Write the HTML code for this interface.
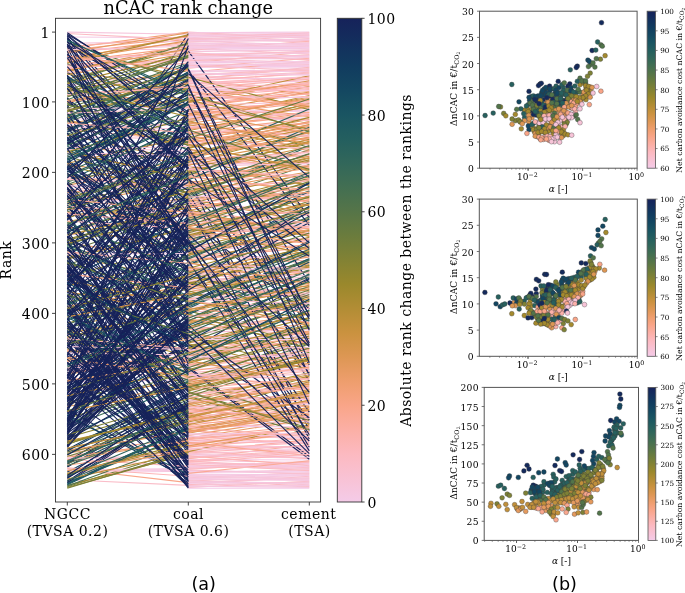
<!DOCTYPE html>
<html><head><meta charset="utf-8"><title>nCAC rank change</title>
<style>html,body{margin:0;padding:0;background:#fff;overflow:hidden;}svg{display:block}</style></head>
<body><svg width="685" height="593" viewBox="0 0 685 593">
<rect width="685" height="593" fill="#fff"/>
<g><g stroke-width="1.1"><line x1="188.3" y1="471.3" x2="309.3" y2="471.3" stroke="#f4cbe8"/><line x1="188.3" y1="111.1" x2="309.3" y2="110.4" stroke="#f5c9e4"/><line x1="67.3" y1="136.4" x2="188.3" y2="139.3" stroke="#f7c4d8"/><line x1="188.3" y1="223.9" x2="309.3" y2="223.9" stroke="#f4cbe8"/><line x1="188.3" y1="302.8" x2="309.3" y2="307.8" stroke="#fabecc"/><line x1="67.3" y1="472.7" x2="188.3" y2="471.3" stroke="#f6c7e0"/><line x1="188.3" y1="472.7" x2="309.3" y2="469.9" stroke="#f7c4d8"/><line x1="188.3" y1="365.6" x2="309.3" y2="366.3" stroke="#f5c9e4"/><line x1="188.3" y1="405.8" x2="309.3" y2="405.0" stroke="#f5c9e4"/><line x1="188.3" y1="196.4" x2="309.3" y2="200.6" stroke="#f9c0d0"/><line x1="188.3" y1="399.4" x2="309.3" y2="396.6" stroke="#f7c4d8"/><line x1="188.3" y1="253.5" x2="309.3" y2="263.3" stroke="#fcb1ab"/><line x1="188.3" y1="293.7" x2="309.3" y2="293.7" stroke="#f4cbe8"/><line x1="188.3" y1="247.1" x2="309.3" y2="241.5" stroke="#fabdc8"/><line x1="188.3" y1="448.1" x2="309.3" y2="446.6" stroke="#f6c7e0"/><line x1="67.3" y1="53.2" x2="188.3" y2="39.1" stroke="#f9a588"/><line x1="188.3" y1="400.1" x2="309.3" y2="397.3" stroke="#f7c4d8"/><line x1="188.3" y1="463.6" x2="309.3" y2="463.6" stroke="#f4cbe8"/><line x1="67.3" y1="156.9" x2="188.3" y2="156.2" stroke="#f5c9e4"/><line x1="67.3" y1="191.4" x2="188.3" y2="192.1" stroke="#f5c9e4"/><line x1="188.3" y1="366.3" x2="309.3" y2="355.0" stroke="#fbad9f"/><line x1="188.3" y1="90.6" x2="309.3" y2="85.7" stroke="#fabecc"/><line x1="188.3" y1="440.3" x2="309.3" y2="441.7" stroke="#f6c7e0"/><line x1="188.3" y1="345.1" x2="309.3" y2="331.0" stroke="#f9a588"/><line x1="188.3" y1="484.0" x2="309.3" y2="486.8" stroke="#f7c4d8"/><line x1="188.3" y1="312.0" x2="309.3" y2="307.1" stroke="#fabecc"/><line x1="188.3" y1="452.3" x2="309.3" y2="439.6" stroke="#faa994"/><line x1="67.3" y1="129.4" x2="188.3" y2="140.7" stroke="#fbad9f"/><line x1="67.3" y1="68.8" x2="188.3" y2="58.2" stroke="#fbafa5"/><line x1="67.3" y1="56.8" x2="188.3" y2="42.0" stroke="#f9a382"/><line x1="188.3" y1="63.1" x2="309.3" y2="51.8" stroke="#fbad9f"/><line x1="188.3" y1="224.6" x2="309.3" y2="235.1" stroke="#fbafa5"/><line x1="188.3" y1="66.6" x2="309.3" y2="66.6" stroke="#f4cbe8"/><line x1="188.3" y1="258.4" x2="309.3" y2="239.4" stroke="#e89b63"/><line x1="188.3" y1="42.7" x2="309.3" y2="49.0" stroke="#fbbbc4"/><line x1="188.3" y1="461.4" x2="309.3" y2="467.1" stroke="#fabdc8"/><line x1="188.3" y1="163.2" x2="309.3" y2="163.9" stroke="#f5c9e4"/><line x1="188.3" y1="298.6" x2="309.3" y2="285.9" stroke="#faa994"/><line x1="188.3" y1="164.6" x2="309.3" y2="162.5" stroke="#f6c6dc"/><line x1="67.3" y1="154.8" x2="188.3" y2="153.4" stroke="#f6c7e0"/><line x1="67.3" y1="67.3" x2="188.3" y2="58.9" stroke="#fdb5b7"/><line x1="188.3" y1="48.3" x2="309.3" y2="54.0" stroke="#fabdc8"/><line x1="188.3" y1="281.7" x2="309.3" y2="271.1" stroke="#fbafa5"/><line x1="188.3" y1="458.6" x2="309.3" y2="444.5" stroke="#f9a588"/><line x1="188.3" y1="195.0" x2="309.3" y2="194.2" stroke="#f5c9e4"/><line x1="188.3" y1="459.3" x2="309.3" y2="460.0" stroke="#f5c9e4"/><line x1="188.3" y1="251.4" x2="309.3" y2="261.2" stroke="#fcb1ab"/><line x1="188.3" y1="456.5" x2="309.3" y2="457.9" stroke="#f6c7e0"/><line x1="188.3" y1="295.8" x2="309.3" y2="288.0" stroke="#fdb7bc"/><line x1="67.3" y1="123.8" x2="188.3" y2="103.3" stroke="#e19859"/><line x1="67.3" y1="120.2" x2="188.3" y2="144.9" stroke="#ca923f"/><line x1="188.3" y1="443.1" x2="309.3" y2="432.5" stroke="#fbafa5"/><line x1="188.3" y1="435.4" x2="309.3" y2="417.0" stroke="#eb9c68"/><line x1="188.3" y1="34.9" x2="309.3" y2="40.6" stroke="#fabdc8"/><line x1="188.3" y1="49.7" x2="309.3" y2="50.4" stroke="#f5c9e4"/><line x1="188.3" y1="321.9" x2="309.3" y2="302.1" stroke="#e49a5e"/><line x1="67.3" y1="64.5" x2="188.3" y2="60.3" stroke="#f9c0d0"/><line x1="188.3" y1="131.5" x2="309.3" y2="134.3" stroke="#f7c4d8"/><line x1="188.3" y1="465.0" x2="309.3" y2="468.5" stroke="#f8c2d4"/><line x1="188.3" y1="87.1" x2="309.3" y2="89.2" stroke="#f6c6dc"/><line x1="67.3" y1="296.5" x2="188.3" y2="305.6" stroke="#fcb3b1"/><line x1="188.3" y1="418.4" x2="309.3" y2="400.8" stroke="#ee9e6d"/><line x1="188.3" y1="72.3" x2="309.3" y2="61.0" stroke="#fbad9f"/><line x1="188.3" y1="80.0" x2="309.3" y2="67.3" stroke="#faa994"/><line x1="188.3" y1="357.8" x2="309.3" y2="367.7" stroke="#fcb1ab"/><line x1="188.3" y1="479.8" x2="309.3" y2="486.1" stroke="#fbbbc4"/><line x1="188.3" y1="34.2" x2="309.3" y2="33.5" stroke="#f5c9e4"/><line x1="188.3" y1="166.0" x2="309.3" y2="185.1" stroke="#e89b63"/><line x1="188.3" y1="180.9" x2="309.3" y2="198.5" stroke="#ee9e6d"/><line x1="188.3" y1="428.3" x2="309.3" y2="422.7" stroke="#fabdc8"/><line x1="67.3" y1="89.2" x2="188.3" y2="106.1" stroke="#f29f72"/><line x1="67.3" y1="94.1" x2="188.3" y2="85.7" stroke="#fdb5b7"/><line x1="188.3" y1="390.2" x2="309.3" y2="383.2" stroke="#fcb9c0"/><line x1="188.3" y1="441.0" x2="309.3" y2="431.8" stroke="#fcb3b1"/><line x1="67.3" y1="96.3" x2="188.3" y2="68.8" stroke="#b78e37"/><line x1="188.3" y1="199.2" x2="309.3" y2="221.7" stroke="#d7954a"/><line x1="67.3" y1="48.3" x2="188.3" y2="32.1" stroke="#f5a077"/><line x1="188.3" y1="55.4" x2="309.3" y2="53.2" stroke="#f6c6dc"/><line x1="188.3" y1="438.2" x2="309.3" y2="419.1" stroke="#e89b63"/><line x1="67.3" y1="351.5" x2="188.3" y2="333.1" stroke="#eb9c68"/><line x1="188.3" y1="364.9" x2="309.3" y2="354.3" stroke="#fbafa5"/><line x1="188.3" y1="212.6" x2="309.3" y2="233.7" stroke="#dd9754"/><line x1="188.3" y1="276.7" x2="309.3" y2="297.2" stroke="#e19859"/><line x1="188.3" y1="238.7" x2="309.3" y2="220.3" stroke="#eb9c68"/><line x1="188.3" y1="455.1" x2="309.3" y2="455.1" stroke="#f4cbe8"/><line x1="188.3" y1="156.2" x2="309.3" y2="135.0" stroke="#dd9754"/><line x1="188.3" y1="170.3" x2="309.3" y2="151.2" stroke="#e89b63"/><line x1="188.3" y1="484.7" x2="309.3" y2="476.2" stroke="#fdb5b7"/><line x1="67.3" y1="85.0" x2="188.3" y2="80.7" stroke="#f9c0d0"/><line x1="188.3" y1="183.7" x2="309.3" y2="157.6" stroke="#c1903b"/><line x1="67.3" y1="186.5" x2="188.3" y2="184.4" stroke="#f6c6dc"/><line x1="188.3" y1="78.6" x2="309.3" y2="94.8" stroke="#f5a077"/><line x1="188.3" y1="315.5" x2="309.3" y2="332.4" stroke="#f29f72"/><line x1="188.3" y1="107.5" x2="309.3" y2="92.7" stroke="#f9a382"/><line x1="67.3" y1="233.7" x2="188.3" y2="240.1" stroke="#fbbbc4"/><line x1="67.3" y1="295.8" x2="188.3" y2="278.1" stroke="#ee9e6d"/><line x1="188.3" y1="410.0" x2="309.3" y2="376.8" stroke="#91862f"/><line x1="188.3" y1="230.2" x2="309.3" y2="232.3" stroke="#f6c6dc"/><line x1="188.3" y1="206.2" x2="309.3" y2="180.1" stroke="#c1903b"/><line x1="188.3" y1="345.8" x2="309.3" y2="333.1" stroke="#faa994"/><line x1="188.3" y1="65.9" x2="309.3" y2="63.8" stroke="#f6c6dc"/><line x1="188.3" y1="354.3" x2="309.3" y2="364.2" stroke="#fcb1ab"/><line x1="188.3" y1="462.9" x2="309.3" y2="467.8" stroke="#fabecc"/><line x1="188.3" y1="58.9" x2="309.3" y2="62.4" stroke="#f8c2d4"/><line x1="67.3" y1="142.8" x2="188.3" y2="165.3" stroke="#d7954a"/><line x1="67.3" y1="458.6" x2="188.3" y2="455.1" stroke="#f8c2d4"/><line x1="67.3" y1="258.4" x2="188.3" y2="221.0" stroke="#747e3a"/><line x1="188.3" y1="116.7" x2="309.3" y2="113.9" stroke="#f7c4d8"/><line x1="188.3" y1="278.1" x2="309.3" y2="264.0" stroke="#f9a588"/><line x1="188.3" y1="54.7" x2="309.3" y2="56.8" stroke="#f6c6dc"/><line x1="188.3" y1="247.8" x2="309.3" y2="238.0" stroke="#fcb1ab"/><line x1="67.3" y1="374.7" x2="188.3" y2="350.1" stroke="#ca923f"/><line x1="67.3" y1="118.1" x2="188.3" y2="88.5" stroke="#a98b30"/><line x1="67.3" y1="228.8" x2="188.3" y2="215.4" stroke="#f9a78e"/><line x1="188.3" y1="441.7" x2="309.3" y2="443.1" stroke="#f6c7e0"/><line x1="188.3" y1="45.5" x2="309.3" y2="46.2" stroke="#f5c9e4"/><line x1="188.3" y1="480.5" x2="309.3" y2="484.7" stroke="#f9c0d0"/><line x1="67.3" y1="128.7" x2="188.3" y2="90.6" stroke="#6f7d3b"/><line x1="188.3" y1="158.3" x2="309.3" y2="185.8" stroke="#b78e37"/><line x1="67.3" y1="91.3" x2="188.3" y2="107.5" stroke="#f5a077"/><line x1="188.3" y1="174.5" x2="309.3" y2="160.4" stroke="#f9a588"/><line x1="188.3" y1="95.5" x2="309.3" y2="83.6" stroke="#faab9a"/><line x1="188.3" y1="82.2" x2="309.3" y2="87.8" stroke="#fabdc8"/><line x1="67.3" y1="264.8" x2="188.3" y2="225.3" stroke="#667a3f"/><line x1="67.3" y1="341.6" x2="188.3" y2="360.6" stroke="#e89b63"/><line x1="67.3" y1="130.8" x2="188.3" y2="122.3" stroke="#fdb5b7"/><line x1="67.3" y1="242.9" x2="188.3" y2="260.5" stroke="#ee9e6d"/><line x1="188.3" y1="324.0" x2="309.3" y2="286.6" stroke="#747e3a"/><line x1="188.3" y1="52.5" x2="309.3" y2="59.6" stroke="#fcb9c0"/><line x1="67.3" y1="392.4" x2="188.3" y2="383.2" stroke="#fcb3b1"/><line x1="188.3" y1="137.8" x2="309.3" y2="135.7" stroke="#f6c6dc"/><line x1="188.3" y1="363.4" x2="309.3" y2="328.2" stroke="#828234"/><line x1="188.3" y1="146.3" x2="309.3" y2="130.1" stroke="#f5a077"/><line x1="188.3" y1="264.8" x2="309.3" y2="230.2" stroke="#878333"/><line x1="67.3" y1="455.8" x2="188.3" y2="442.4" stroke="#f9a78e"/><line x1="67.3" y1="65.9" x2="188.3" y2="59.6" stroke="#fbbbc4"/><line x1="188.3" y1="211.2" x2="309.3" y2="214.0" stroke="#f7c4d8"/><line x1="67.3" y1="51.8" x2="188.3" y2="44.1" stroke="#fdb7bc"/><line x1="188.3" y1="82.9" x2="309.3" y2="81.4" stroke="#f6c7e0"/><line x1="188.3" y1="376.8" x2="309.3" y2="360.6" stroke="#f5a077"/><line x1="67.3" y1="254.9" x2="188.3" y2="282.4" stroke="#b78e37"/><line x1="188.3" y1="338.8" x2="309.3" y2="301.4" stroke="#747e3a"/><line x1="188.3" y1="450.9" x2="309.3" y2="458.6" stroke="#fdb7bc"/><line x1="188.3" y1="256.3" x2="309.3" y2="273.2" stroke="#f29f72"/><line x1="188.3" y1="84.3" x2="309.3" y2="78.6" stroke="#fabdc8"/><line x1="188.3" y1="424.1" x2="309.3" y2="393.8" stroke="#a48a2e"/><line x1="188.3" y1="437.5" x2="309.3" y2="425.5" stroke="#faab9a"/><line x1="67.3" y1="226.7" x2="188.3" y2="250.6" stroke="#cf9242"/><line x1="188.3" y1="486.8" x2="309.3" y2="485.4" stroke="#f6c7e0"/><line x1="188.3" y1="190.0" x2="309.3" y2="149.8" stroke="#627941"/><line x1="67.3" y1="444.5" x2="188.3" y2="400.1" stroke="#4b724e"/><line x1="188.3" y1="32.1" x2="309.3" y2="38.4" stroke="#fbbbc4"/><line x1="67.3" y1="145.6" x2="188.3" y2="97.7" stroke="#386b57"/><line x1="188.3" y1="306.3" x2="309.3" y2="302.8" stroke="#f8c2d4"/><line x1="188.3" y1="292.2" x2="309.3" y2="264.8" stroke="#b78e37"/><line x1="67.3" y1="103.3" x2="188.3" y2="143.5" stroke="#627941"/><line x1="188.3" y1="379.7" x2="309.3" y2="390.2" stroke="#fbafa5"/><line x1="67.3" y1="437.5" x2="188.3" y2="403.6" stroke="#8c8531"/><line x1="67.3" y1="404.3" x2="188.3" y2="377.6" stroke="#bc8f39"/><line x1="188.3" y1="362.0" x2="309.3" y2="327.5" stroke="#878333"/><line x1="188.3" y1="240.8" x2="309.3" y2="195.7" stroke="#477050"/><line x1="67.3" y1="251.4" x2="188.3" y2="211.2" stroke="#627941"/><line x1="188.3" y1="216.1" x2="309.3" y2="197.8" stroke="#eb9c68"/><line x1="188.3" y1="286.6" x2="309.3" y2="262.6" stroke="#cf9242"/><line x1="188.3" y1="206.9" x2="309.3" y2="176.6" stroke="#a48a2e"/><line x1="67.3" y1="81.4" x2="188.3" y2="77.2" stroke="#f9c0d0"/><line x1="188.3" y1="75.8" x2="309.3" y2="70.2" stroke="#fabdc8"/><line x1="188.3" y1="255.6" x2="309.3" y2="218.2" stroke="#747e3a"/><line x1="67.3" y1="368.4" x2="188.3" y2="334.5" stroke="#8c8531"/><line x1="67.3" y1="369.1" x2="188.3" y2="378.3" stroke="#fcb3b1"/><line x1="67.3" y1="37.0" x2="188.3" y2="37.7" stroke="#f5c9e4"/><line x1="188.3" y1="125.9" x2="309.3" y2="111.8" stroke="#f9a588"/><line x1="67.3" y1="285.9" x2="188.3" y2="258.4" stroke="#b78e37"/><line x1="188.3" y1="419.1" x2="309.3" y2="405.8" stroke="#f9a78e"/><line x1="188.3" y1="109.7" x2="309.3" y2="86.4" stroke="#d39345"/><line x1="67.3" y1="190.0" x2="188.3" y2="180.1" stroke="#fcb1ab"/><line x1="188.3" y1="413.5" x2="309.3" y2="389.5" stroke="#cf9242"/><line x1="188.3" y1="150.5" x2="309.3" y2="143.5" stroke="#fcb9c0"/><line x1="67.3" y1="74.4" x2="188.3" y2="53.2" stroke="#dd9754"/><line x1="188.3" y1="122.3" x2="309.3" y2="95.5" stroke="#bc8f39"/><line x1="188.3" y1="173.8" x2="309.3" y2="166.8" stroke="#fcb9c0"/><line x1="67.3" y1="372.6" x2="188.3" y2="357.8" stroke="#f9a382"/><line x1="67.3" y1="269.0" x2="188.3" y2="235.8" stroke="#91862f"/><line x1="188.3" y1="221.7" x2="309.3" y2="173.8" stroke="#386b57"/><line x1="67.3" y1="273.2" x2="188.3" y2="327.5" stroke="#1e5b61"/><line x1="188.3" y1="181.6" x2="309.3" y2="216.1" stroke="#878333"/><line x1="188.3" y1="467.8" x2="309.3" y2="466.4" stroke="#f6c7e0"/><line x1="188.3" y1="38.4" x2="309.3" y2="42.0" stroke="#f8c2d4"/><line x1="188.3" y1="92.7" x2="309.3" y2="84.3" stroke="#fdb5b7"/><line x1="67.3" y1="486.8" x2="188.3" y2="448.8" stroke="#6f7d3b"/><line x1="188.3" y1="219.6" x2="309.3" y2="196.4" stroke="#d39345"/><line x1="67.3" y1="203.4" x2="188.3" y2="183.7" stroke="#e49a5e"/><line x1="188.3" y1="395.9" x2="309.3" y2="435.4" stroke="#667a3f"/><line x1="188.3" y1="83.6" x2="309.3" y2="76.5" stroke="#fcb9c0"/><line x1="188.3" y1="405.0" x2="309.3" y2="380.4" stroke="#ca923f"/><line x1="188.3" y1="60.3" x2="309.3" y2="64.5" stroke="#f9c0d0"/><line x1="188.3" y1="297.2" x2="309.3" y2="295.1" stroke="#f6c6dc"/><line x1="67.3" y1="173.8" x2="188.3" y2="210.5" stroke="#797f38"/><line x1="67.3" y1="327.5" x2="188.3" y2="299.3" stroke="#b28d35"/><line x1="67.3" y1="90.6" x2="188.3" y2="69.5" stroke="#dd9754"/><line x1="67.3" y1="192.1" x2="188.3" y2="249.2" stroke="#195261"/><line x1="188.3" y1="357.1" x2="309.3" y2="310.6" stroke="#3f6e55"/><line x1="188.3" y1="266.2" x2="309.3" y2="291.5" stroke="#c5913d"/><line x1="188.3" y1="450.2" x2="309.3" y2="448.8" stroke="#f6c7e0"/><line x1="67.3" y1="115.3" x2="188.3" y2="83.6" stroke="#9a882c"/><line x1="188.3" y1="140.0" x2="309.3" y2="156.9" stroke="#f29f72"/><line x1="188.3" y1="487.5" x2="309.3" y2="481.2" stroke="#fbbbc4"/><line x1="67.3" y1="153.4" x2="188.3" y2="175.2" stroke="#da964f"/><line x1="188.3" y1="477.7" x2="309.3" y2="472.7" stroke="#fabecc"/><line x1="188.3" y1="39.9" x2="309.3" y2="36.3" stroke="#f8c2d4"/><line x1="67.3" y1="33.5" x2="188.3" y2="39.9" stroke="#fbbbc4"/><line x1="188.3" y1="430.4" x2="309.3" y2="440.3" stroke="#fcb1ab"/><line x1="188.3" y1="426.2" x2="309.3" y2="426.9" stroke="#f5c9e4"/><line x1="188.3" y1="124.5" x2="309.3" y2="149.1" stroke="#ca923f"/><line x1="188.3" y1="486.1" x2="309.3" y2="487.5" stroke="#f6c7e0"/><line x1="188.3" y1="269.7" x2="309.3" y2="284.5" stroke="#f9a382"/><line x1="188.3" y1="205.5" x2="309.3" y2="164.6" stroke="#5e7843"/><line x1="188.3" y1="395.2" x2="309.3" y2="377.6" stroke="#ee9e6d"/><line x1="188.3" y1="284.5" x2="309.3" y2="297.9" stroke="#f9a78e"/><line x1="188.3" y1="50.4" x2="309.3" y2="41.3" stroke="#fcb3b1"/><line x1="188.3" y1="123.8" x2="309.3" y2="104.7" stroke="#e89b63"/><line x1="188.3" y1="248.5" x2="309.3" y2="219.6" stroke="#ad8c32"/><line x1="67.3" y1="73.0" x2="188.3" y2="130.8" stroke="#175061"/><line x1="188.3" y1="402.9" x2="309.3" y2="384.6" stroke="#eb9c68"/><line x1="188.3" y1="162.5" x2="309.3" y2="132.2" stroke="#a48a2e"/><line x1="67.3" y1="135.0" x2="188.3" y2="161.1" stroke="#c1903b"/><line x1="67.3" y1="239.4" x2="188.3" y2="205.5" stroke="#8c8531"/><line x1="67.3" y1="385.3" x2="188.3" y2="341.6" stroke="#4e734c"/><line x1="188.3" y1="372.6" x2="309.3" y2="365.6" stroke="#fcb9c0"/><line x1="188.3" y1="470.6" x2="309.3" y2="473.4" stroke="#f7c4d8"/><line x1="188.3" y1="285.9" x2="309.3" y2="246.4" stroke="#667a3f"/><line x1="188.3" y1="153.4" x2="309.3" y2="132.9" stroke="#e19859"/><line x1="67.3" y1="451.6" x2="188.3" y2="431.1" stroke="#e19859"/><line x1="188.3" y1="423.4" x2="309.3" y2="408.6" stroke="#f9a382"/><line x1="188.3" y1="71.6" x2="309.3" y2="69.5" stroke="#f6c6dc"/><line x1="188.3" y1="482.6" x2="309.3" y2="477.7" stroke="#fabecc"/><line x1="188.3" y1="411.4" x2="309.3" y2="398.0" stroke="#f9a78e"/><line x1="188.3" y1="216.8" x2="309.3" y2="235.8" stroke="#e89b63"/><line x1="188.3" y1="76.5" x2="309.3" y2="80.0" stroke="#f8c2d4"/><line x1="188.3" y1="347.2" x2="309.3" y2="351.5" stroke="#f9c0d0"/><line x1="188.3" y1="202.0" x2="309.3" y2="184.4" stroke="#ee9e6d"/><line x1="188.3" y1="273.9" x2="309.3" y2="281.7" stroke="#fdb7bc"/><line x1="67.3" y1="69.5" x2="188.3" y2="92.0" stroke="#d7954a"/><line x1="188.3" y1="245.7" x2="309.3" y2="238.7" stroke="#fcb9c0"/><line x1="188.3" y1="58.2" x2="309.3" y2="58.9" stroke="#f5c9e4"/><line x1="67.3" y1="178.7" x2="188.3" y2="185.1" stroke="#fbbbc4"/><line x1="188.3" y1="63.8" x2="309.3" y2="65.2" stroke="#f6c7e0"/><line x1="188.3" y1="231.6" x2="309.3" y2="203.4" stroke="#b28d35"/><line x1="188.3" y1="192.8" x2="309.3" y2="179.4" stroke="#f9a78e"/><line x1="67.3" y1="379.7" x2="188.3" y2="367.0" stroke="#faa994"/><line x1="67.3" y1="462.9" x2="188.3" y2="401.5" stroke="#124460"/><line x1="188.3" y1="343.7" x2="309.3" y2="371.9" stroke="#b28d35"/><line x1="67.3" y1="474.8" x2="188.3" y2="438.9" stroke="#7e8136"/><line x1="188.3" y1="415.6" x2="309.3" y2="411.4" stroke="#f9c0d0"/><line x1="188.3" y1="444.5" x2="309.3" y2="448.1" stroke="#f8c2d4"/><line x1="67.3" y1="307.1" x2="188.3" y2="331.0" stroke="#cf9242"/><line x1="188.3" y1="305.6" x2="309.3" y2="265.5" stroke="#627941"/><line x1="188.3" y1="246.4" x2="309.3" y2="206.9" stroke="#667a3f"/><line x1="67.3" y1="180.1" x2="188.3" y2="160.4" stroke="#e49a5e"/><line x1="67.3" y1="427.6" x2="188.3" y2="381.1" stroke="#3f6e55"/><line x1="188.3" y1="101.2" x2="309.3" y2="89.9" stroke="#fbad9f"/><line x1="67.3" y1="163.9" x2="188.3" y2="185.8" stroke="#da964f"/><line x1="67.3" y1="328.9" x2="188.3" y2="285.2" stroke="#4e734c"/><line x1="67.3" y1="453.0" x2="188.3" y2="438.2" stroke="#f9a382"/><line x1="188.3" y1="288.0" x2="309.3" y2="266.2" stroke="#da964f"/><line x1="188.3" y1="347.9" x2="309.3" y2="312.0" stroke="#7e8136"/><line x1="188.3" y1="135.0" x2="309.3" y2="103.3" stroke="#9a882c"/><line x1="188.3" y1="70.9" x2="309.3" y2="71.6" stroke="#f5c9e4"/><line x1="188.3" y1="321.2" x2="309.3" y2="261.9" stroke="#154b61"/><line x1="67.3" y1="326.8" x2="188.3" y2="355.7" stroke="#ad8c32"/><line x1="188.3" y1="79.3" x2="309.3" y2="77.9" stroke="#f6c7e0"/><line x1="188.3" y1="49.0" x2="309.3" y2="48.3" stroke="#f5c9e4"/><line x1="188.3" y1="148.4" x2="309.3" y2="121.6" stroke="#bc8f39"/><line x1="67.3" y1="253.5" x2="188.3" y2="241.5" stroke="#faab9a"/><line x1="188.3" y1="175.9" x2="309.3" y2="165.3" stroke="#fbafa5"/><line x1="188.3" y1="436.1" x2="309.3" y2="443.8" stroke="#fdb7bc"/><line x1="67.3" y1="298.6" x2="188.3" y2="198.5" stroke="#16225a"/><line x1="67.3" y1="195.7" x2="188.3" y2="290.8" stroke="#16225a"/><line x1="188.3" y1="152.7" x2="309.3" y2="138.6" stroke="#f9a588"/><line x1="67.3" y1="211.9" x2="188.3" y2="209.1" stroke="#f7c4d8"/><line x1="67.3" y1="448.8" x2="188.3" y2="421.3" stroke="#b78e37"/><line x1="188.3" y1="291.5" x2="309.3" y2="280.3" stroke="#fbad9f"/><line x1="67.3" y1="310.6" x2="188.3" y2="265.5" stroke="#477050"/><line x1="188.3" y1="331.7" x2="309.3" y2="314.1" stroke="#ee9e6d"/><line x1="188.3" y1="312.7" x2="309.3" y2="269.7" stroke="#52744a"/><line x1="188.3" y1="51.8" x2="309.3" y2="49.7" stroke="#f6c6dc"/><line x1="67.3" y1="249.2" x2="188.3" y2="123.0" stroke="#16225a"/><line x1="188.3" y1="97.7" x2="309.3" y2="85.0" stroke="#faa994"/><line x1="188.3" y1="172.4" x2="309.3" y2="193.5" stroke="#dd9754"/><line x1="188.3" y1="327.5" x2="309.3" y2="275.3" stroke="#27605e"/><line x1="67.3" y1="221.7" x2="188.3" y2="197.1" stroke="#ca923f"/><line x1="67.3" y1="245.0" x2="188.3" y2="181.6" stroke="#113c5f"/><line x1="67.3" y1="106.8" x2="188.3" y2="261.2" stroke="#16225a"/><line x1="188.3" y1="217.5" x2="309.3" y2="226.7" stroke="#fcb3b1"/><line x1="67.3" y1="185.1" x2="188.3" y2="164.6" stroke="#e19859"/><line x1="67.3" y1="312.7" x2="188.3" y2="286.6" stroke="#c1903b"/><line x1="67.3" y1="396.6" x2="188.3" y2="483.3" stroke="#16225a"/><line x1="188.3" y1="203.4" x2="309.3" y2="211.2" stroke="#fdb7bc"/><line x1="67.3" y1="37.7" x2="188.3" y2="166.0" stroke="#16225a"/><line x1="67.3" y1="401.5" x2="188.3" y2="328.9" stroke="#16225a"/><line x1="188.3" y1="108.2" x2="309.3" y2="104.0" stroke="#f9c0d0"/><line x1="67.3" y1="215.4" x2="188.3" y2="390.2" stroke="#16225a"/><line x1="67.3" y1="438.9" x2="188.3" y2="304.9" stroke="#16225a"/><line x1="67.3" y1="192.8" x2="188.3" y2="178.7" stroke="#f9a588"/><line x1="188.3" y1="381.8" x2="309.3" y2="338.1" stroke="#4e734c"/><line x1="67.3" y1="471.3" x2="188.3" y2="469.2" stroke="#f6c6dc"/><line x1="67.3" y1="257.7" x2="188.3" y2="147.7" stroke="#16225a"/><line x1="188.3" y1="332.4" x2="309.3" y2="329.6" stroke="#f7c4d8"/><line x1="67.3" y1="134.3" x2="188.3" y2="89.2" stroke="#477050"/><line x1="67.3" y1="288.0" x2="188.3" y2="480.5" stroke="#16225a"/><line x1="67.3" y1="63.8" x2="188.3" y2="116.0" stroke="#27605e"/><line x1="67.3" y1="293.7" x2="188.3" y2="357.1" stroke="#113c5f"/><line x1="67.3" y1="422.0" x2="188.3" y2="278.9" stroke="#16225a"/><line x1="188.3" y1="474.1" x2="309.3" y2="474.8" stroke="#f5c9e4"/><line x1="67.3" y1="272.5" x2="188.3" y2="447.3" stroke="#16225a"/><line x1="188.3" y1="349.4" x2="309.3" y2="331.7" stroke="#ee9e6d"/><line x1="67.3" y1="182.3" x2="188.3" y2="138.6" stroke="#4e734c"/><line x1="67.3" y1="181.6" x2="188.3" y2="267.6" stroke="#16225a"/><line x1="188.3" y1="200.6" x2="309.3" y2="173.1" stroke="#b78e37"/><line x1="67.3" y1="313.4" x2="188.3" y2="262.6" stroke="#2d645c"/><line x1="188.3" y1="238.0" x2="309.3" y2="201.3" stroke="#797f38"/><line x1="188.3" y1="193.5" x2="309.3" y2="381.1" stroke="#16225a"/><line x1="67.3" y1="337.4" x2="188.3" y2="312.7" stroke="#ca923f"/><line x1="188.3" y1="242.9" x2="309.3" y2="186.5" stroke="#1a5562"/><line x1="188.3" y1="210.5" x2="309.3" y2="189.3" stroke="#dd9754"/><line x1="188.3" y1="173.1" x2="309.3" y2="141.4" stroke="#9a882c"/><line x1="67.3" y1="479.8" x2="188.3" y2="485.4" stroke="#fabdc8"/><line x1="67.3" y1="98.4" x2="188.3" y2="195.0" stroke="#16225a"/><line x1="67.3" y1="70.9" x2="188.3" y2="44.8" stroke="#c1903b"/><line x1="188.3" y1="322.6" x2="309.3" y2="321.9" stroke="#f5c9e4"/><line x1="67.3" y1="109.7" x2="188.3" y2="149.1" stroke="#667a3f"/><line x1="67.3" y1="289.4" x2="188.3" y2="149.8" stroke="#16225a"/><line x1="188.3" y1="263.3" x2="309.3" y2="216.8" stroke="#3f6e55"/><line x1="188.3" y1="398.7" x2="309.3" y2="374.7" stroke="#cf9242"/><line x1="188.3" y1="68.1" x2="309.3" y2="58.2" stroke="#fcb1ab"/><line x1="188.3" y1="421.3" x2="309.3" y2="407.9" stroke="#f9a78e"/><line x1="188.3" y1="189.3" x2="309.3" y2="309.2" stroke="#16225a"/><line x1="67.3" y1="147.7" x2="188.3" y2="194.2" stroke="#3f6e55"/><line x1="67.3" y1="262.6" x2="188.3" y2="439.6" stroke="#16225a"/><line x1="188.3" y1="33.5" x2="309.3" y2="37.7" stroke="#f9c0d0"/><line x1="67.3" y1="395.2" x2="188.3" y2="316.2" stroke="#16225a"/><line x1="67.3" y1="316.2" x2="188.3" y2="234.4" stroke="#16225a"/><line x1="67.3" y1="99.1" x2="188.3" y2="180.9" stroke="#16225a"/><line x1="188.3" y1="467.1" x2="309.3" y2="461.4" stroke="#fabdc8"/><line x1="188.3" y1="229.5" x2="309.3" y2="224.6" stroke="#fabecc"/><line x1="67.3" y1="414.2" x2="188.3" y2="343.0" stroke="#16225a"/><line x1="188.3" y1="436.8" x2="309.3" y2="437.5" stroke="#f5c9e4"/><line x1="67.3" y1="121.6" x2="188.3" y2="144.2" stroke="#d7954a"/><line x1="67.3" y1="328.2" x2="188.3" y2="455.8" stroke="#16225a"/><line x1="67.3" y1="106.1" x2="188.3" y2="62.4" stroke="#4e734c"/><line x1="67.3" y1="407.2" x2="188.3" y2="240.8" stroke="#16225a"/><line x1="67.3" y1="38.4" x2="188.3" y2="135.0" stroke="#16225a"/><line x1="188.3" y1="218.9" x2="309.3" y2="316.9" stroke="#16225a"/><line x1="188.3" y1="104.7" x2="309.3" y2="91.3" stroke="#f9a78e"/><line x1="67.3" y1="362.0" x2="188.3" y2="477.7" stroke="#16225a"/><line x1="188.3" y1="331.0" x2="309.3" y2="362.0" stroke="#9f892c"/><line x1="188.3" y1="394.5" x2="309.3" y2="387.4" stroke="#fcb9c0"/><line x1="188.3" y1="120.9" x2="309.3" y2="97.0" stroke="#cf9242"/><line x1="188.3" y1="249.2" x2="309.3" y2="240.1" stroke="#fcb3b1"/><line x1="188.3" y1="373.3" x2="309.3" y2="388.8" stroke="#f8a17c"/><line x1="188.3" y1="198.5" x2="309.3" y2="161.1" stroke="#747e3a"/><line x1="67.3" y1="336.0" x2="188.3" y2="171.0" stroke="#16225a"/><line x1="67.3" y1="477.7" x2="188.3" y2="405.8" stroke="#16225a"/><line x1="67.3" y1="359.9" x2="188.3" y2="221.7" stroke="#16225a"/><line x1="67.3" y1="447.3" x2="188.3" y2="301.4" stroke="#16225a"/><line x1="188.3" y1="126.6" x2="309.3" y2="123.8" stroke="#f7c4d8"/><line x1="188.3" y1="141.4" x2="309.3" y2="144.9" stroke="#f8c2d4"/><line x1="67.3" y1="49.0" x2="188.3" y2="77.9" stroke="#ad8c32"/><line x1="188.3" y1="302.1" x2="309.3" y2="259.1" stroke="#52744a"/><line x1="67.3" y1="43.4" x2="188.3" y2="41.3" stroke="#f6c6dc"/><line x1="67.3" y1="78.6" x2="188.3" y2="142.8" stroke="#11395f"/><line x1="188.3" y1="240.1" x2="309.3" y2="228.1" stroke="#faab9a"/><line x1="188.3" y1="376.1" x2="309.3" y2="385.3" stroke="#fcb3b1"/><line x1="188.3" y1="319.7" x2="309.3" y2="344.4" stroke="#ca923f"/><line x1="188.3" y1="197.8" x2="309.3" y2="146.3" stroke="#2a625d"/><line x1="67.3" y1="270.4" x2="188.3" y2="465.7" stroke="#16225a"/><line x1="188.3" y1="451.6" x2="309.3" y2="424.8" stroke="#bc8f39"/><line x1="67.3" y1="405.8" x2="188.3" y2="328.2" stroke="#16225a"/><line x1="67.3" y1="384.6" x2="188.3" y2="271.8" stroke="#16225a"/><line x1="188.3" y1="307.1" x2="309.3" y2="254.2" stroke="#245f5f"/><line x1="67.3" y1="46.9" x2="188.3" y2="36.3" stroke="#fbafa5"/><line x1="67.3" y1="32.1" x2="188.3" y2="34.2" stroke="#f6c6dc"/><line x1="67.3" y1="218.2" x2="188.3" y2="33.5" stroke="#16225a"/><line x1="188.3" y1="111.8" x2="309.3" y2="101.2" stroke="#fbafa5"/><line x1="188.3" y1="341.6" x2="309.3" y2="350.1" stroke="#fdb5b7"/><line x1="188.3" y1="154.8" x2="309.3" y2="128.0" stroke="#bc8f39"/><line x1="188.3" y1="159.7" x2="309.3" y2="154.8" stroke="#fabecc"/><line x1="188.3" y1="183.0" x2="309.3" y2="174.5" stroke="#fdb5b7"/><line x1="188.3" y1="278.9" x2="309.3" y2="279.6" stroke="#f5c9e4"/><line x1="188.3" y1="346.5" x2="309.3" y2="311.3" stroke="#828234"/><line x1="67.3" y1="360.6" x2="188.3" y2="337.4" stroke="#d39345"/><line x1="188.3" y1="261.9" x2="309.3" y2="419.9" stroke="#16225a"/><line x1="188.3" y1="208.3" x2="309.3" y2="188.6" stroke="#e49a5e"/><line x1="188.3" y1="465.7" x2="309.3" y2="469.2" stroke="#f8c2d4"/><line x1="188.3" y1="182.3" x2="309.3" y2="205.5" stroke="#d39345"/><line x1="188.3" y1="344.4" x2="309.3" y2="423.4" stroke="#16225a"/><line x1="67.3" y1="433.9" x2="188.3" y2="232.3" stroke="#16225a"/><line x1="67.3" y1="350.8" x2="188.3" y2="371.9" stroke="#dd9754"/><line x1="188.3" y1="118.1" x2="309.3" y2="108.2" stroke="#fcb1ab"/><line x1="188.3" y1="453.7" x2="309.3" y2="449.5" stroke="#f9c0d0"/><line x1="188.3" y1="377.6" x2="309.3" y2="342.3" stroke="#828234"/><line x1="188.3" y1="328.2" x2="309.3" y2="273.9" stroke="#1e5b61"/><line x1="67.3" y1="189.3" x2="188.3" y2="226.0" stroke="#797f38"/><line x1="188.3" y1="254.2" x2="309.3" y2="213.3" stroke="#5e7843"/><line x1="188.3" y1="185.1" x2="309.3" y2="168.2" stroke="#f29f72"/><line x1="67.3" y1="137.1" x2="188.3" y2="274.6" stroke="#16225a"/><line x1="188.3" y1="140.7" x2="309.3" y2="119.5" stroke="#dd9754"/><line x1="188.3" y1="201.3" x2="309.3" y2="305.6" stroke="#16225a"/><line x1="188.3" y1="426.9" x2="309.3" y2="415.6" stroke="#fbad9f"/><line x1="188.3" y1="187.2" x2="309.3" y2="209.8" stroke="#d7954a"/><line x1="188.3" y1="35.6" x2="309.3" y2="34.2" stroke="#f6c7e0"/><line x1="67.3" y1="177.3" x2="188.3" y2="183.0" stroke="#fabdc8"/><line x1="188.3" y1="290.8" x2="309.3" y2="326.1" stroke="#828234"/><line x1="67.3" y1="59.6" x2="188.3" y2="35.6" stroke="#cf9242"/><line x1="67.3" y1="211.2" x2="188.3" y2="251.4" stroke="#627941"/><line x1="67.3" y1="452.3" x2="188.3" y2="406.5" stroke="#436f52"/><line x1="67.3" y1="333.1" x2="188.3" y2="220.3" stroke="#16225a"/><line x1="67.3" y1="68.1" x2="188.3" y2="61.0" stroke="#fcb9c0"/><line x1="188.3" y1="85.7" x2="309.3" y2="106.8" stroke="#dd9754"/><line x1="67.3" y1="230.9" x2="188.3" y2="197.8" stroke="#91862f"/><line x1="188.3" y1="329.6" x2="309.3" y2="318.3" stroke="#fbad9f"/><line x1="67.3" y1="410.0" x2="188.3" y2="132.2" stroke="#16225a"/><line x1="188.3" y1="67.3" x2="309.3" y2="68.1" stroke="#f5c9e4"/><line x1="188.3" y1="292.9" x2="309.3" y2="320.4" stroke="#b78e37"/><line x1="67.3" y1="418.4" x2="188.3" y2="382.5" stroke="#7e8136"/><line x1="188.3" y1="443.8" x2="309.3" y2="433.9" stroke="#fcb1ab"/><line x1="188.3" y1="89.9" x2="309.3" y2="90.6" stroke="#f5c9e4"/><line x1="67.3" y1="93.4" x2="188.3" y2="112.5" stroke="#e89b63"/><line x1="188.3" y1="186.5" x2="309.3" y2="158.3" stroke="#b28d35"/><line x1="67.3" y1="477.0" x2="188.3" y2="407.2" stroke="#15255b"/><line x1="67.3" y1="80.7" x2="188.3" y2="236.5" stroke="#16225a"/><line x1="67.3" y1="76.5" x2="188.3" y2="216.1" stroke="#16225a"/><line x1="188.3" y1="401.5" x2="309.3" y2="372.6" stroke="#ad8c32"/><line x1="188.3" y1="62.4" x2="309.3" y2="63.1" stroke="#f5c9e4"/><line x1="67.3" y1="340.2" x2="188.3" y2="460.0" stroke="#16225a"/><line x1="188.3" y1="431.8" x2="309.3" y2="414.2" stroke="#ee9e6d"/><line x1="67.3" y1="431.8" x2="188.3" y2="329.6" stroke="#16225a"/><line x1="67.3" y1="449.5" x2="188.3" y2="384.6" stroke="#12375e"/><line x1="67.3" y1="349.4" x2="188.3" y2="359.9" stroke="#fbafa5"/><line x1="67.3" y1="62.4" x2="188.3" y2="49.7" stroke="#faa994"/><line x1="188.3" y1="80.7" x2="309.3" y2="73.7" stroke="#fcb9c0"/><line x1="188.3" y1="336.7" x2="309.3" y2="292.2" stroke="#4b724e"/><line x1="188.3" y1="214.0" x2="309.3" y2="178.0" stroke="#7e8136"/><line x1="188.3" y1="133.6" x2="309.3" y2="125.9" stroke="#fdb7bc"/><line x1="67.3" y1="485.4" x2="188.3" y2="454.4" stroke="#9f892c"/><line x1="188.3" y1="65.2" x2="309.3" y2="70.9" stroke="#fabdc8"/><line x1="67.3" y1="209.1" x2="188.3" y2="256.3" stroke="#3b6c56"/><line x1="188.3" y1="177.3" x2="309.3" y2="430.4" stroke="#16225a"/><line x1="188.3" y1="156.9" x2="309.3" y2="167.5" stroke="#fbafa5"/><line x1="188.3" y1="457.9" x2="309.3" y2="451.6" stroke="#fbbbc4"/><line x1="188.3" y1="222.4" x2="309.3" y2="215.4" stroke="#fcb9c0"/><line x1="67.3" y1="42.7" x2="188.3" y2="82.2" stroke="#667a3f"/><line x1="67.3" y1="238.7" x2="188.3" y2="350.8" stroke="#16225a"/><line x1="67.3" y1="132.9" x2="188.3" y2="314.1" stroke="#16225a"/><line x1="188.3" y1="386.0" x2="309.3" y2="343.7" stroke="#567548"/><line x1="188.3" y1="220.3" x2="309.3" y2="234.4" stroke="#f9a588"/><line x1="188.3" y1="468.5" x2="309.3" y2="464.3" stroke="#f9c0d0"/><line x1="67.3" y1="381.8" x2="188.3" y2="379.7" stroke="#f6c6dc"/><line x1="67.3" y1="303.5" x2="188.3" y2="114.6" stroke="#16225a"/><line x1="67.3" y1="227.4" x2="188.3" y2="284.5" stroke="#195261"/><line x1="188.3" y1="348.6" x2="309.3" y2="317.6" stroke="#9f892c"/><line x1="67.3" y1="373.3" x2="188.3" y2="358.5" stroke="#f9a382"/><line x1="188.3" y1="249.9" x2="309.3" y2="245.0" stroke="#fabecc"/><line x1="188.3" y1="112.5" x2="309.3" y2="111.1" stroke="#f6c7e0"/><line x1="67.3" y1="240.1" x2="188.3" y2="429.0" stroke="#16225a"/><line x1="67.3" y1="102.6" x2="188.3" y2="70.2" stroke="#96872e"/><line x1="67.3" y1="184.4" x2="188.3" y2="141.4" stroke="#52744a"/><line x1="188.3" y1="446.6" x2="309.3" y2="438.2" stroke="#fdb5b7"/><line x1="188.3" y1="128.0" x2="309.3" y2="114.6" stroke="#f9a78e"/><line x1="188.3" y1="488.2" x2="309.3" y2="488.2" stroke="#f4cbe8"/><line x1="188.3" y1="54.0" x2="309.3" y2="52.5" stroke="#f6c7e0"/><line x1="67.3" y1="320.4" x2="188.3" y2="266.9" stroke="#215d60"/><line x1="188.3" y1="103.3" x2="309.3" y2="96.3" stroke="#fcb9c0"/><line x1="188.3" y1="259.8" x2="309.3" y2="247.1" stroke="#faa994"/><line x1="67.3" y1="383.2" x2="188.3" y2="218.2" stroke="#16225a"/><line x1="67.3" y1="105.4" x2="188.3" y2="269.7" stroke="#16225a"/><line x1="188.3" y1="144.9" x2="309.3" y2="168.9" stroke="#cf9242"/><line x1="67.3" y1="185.8" x2="188.3" y2="187.9" stroke="#f6c6dc"/><line x1="67.3" y1="118.8" x2="188.3" y2="120.2" stroke="#f6c7e0"/><line x1="188.3" y1="445.2" x2="309.3" y2="453.0" stroke="#fdb7bc"/><line x1="67.3" y1="180.9" x2="188.3" y2="124.5" stroke="#1a5562"/><line x1="188.3" y1="32.8" x2="309.3" y2="32.1" stroke="#f5c9e4"/><line x1="188.3" y1="161.1" x2="309.3" y2="151.9" stroke="#fcb3b1"/><line x1="67.3" y1="174.5" x2="188.3" y2="242.9" stroke="#142a5c"/><line x1="188.3" y1="481.9" x2="309.3" y2="484.0" stroke="#f6c6dc"/><line x1="188.3" y1="448.8" x2="309.3" y2="445.9" stroke="#f7c4d8"/><line x1="67.3" y1="402.9" x2="188.3" y2="364.9" stroke="#6f7d3b"/><line x1="188.3" y1="271.1" x2="309.3" y2="321.2" stroke="#30665b"/><line x1="188.3" y1="386.7" x2="309.3" y2="352.9" stroke="#8c8531"/><line x1="67.3" y1="216.1" x2="188.3" y2="129.4" stroke="#16225a"/><line x1="188.3" y1="36.3" x2="309.3" y2="35.6" stroke="#f5c9e4"/><line x1="188.3" y1="319.0" x2="309.3" y2="334.5" stroke="#f8a17c"/><line x1="188.3" y1="270.4" x2="309.3" y2="255.6" stroke="#f9a382"/><line x1="67.3" y1="409.3" x2="188.3" y2="478.4" stroke="#15275b"/><line x1="188.3" y1="167.5" x2="309.3" y2="364.9" stroke="#16225a"/><line x1="188.3" y1="40.6" x2="309.3" y2="39.1" stroke="#f6c7e0"/><line x1="67.3" y1="461.4" x2="188.3" y2="388.1" stroke="#16225a"/><line x1="67.3" y1="266.2" x2="188.3" y2="395.2" stroke="#16225a"/><line x1="188.3" y1="283.1" x2="309.3" y2="251.4" stroke="#9a882c"/><line x1="67.3" y1="332.4" x2="188.3" y2="446.6" stroke="#16225a"/><line x1="188.3" y1="449.5" x2="309.3" y2="442.4" stroke="#fcb9c0"/><line x1="188.3" y1="129.4" x2="309.3" y2="112.5" stroke="#f29f72"/><line x1="67.3" y1="82.2" x2="188.3" y2="42.7" stroke="#667a3f"/><line x1="188.3" y1="100.5" x2="309.3" y2="94.1" stroke="#fbbbc4"/><line x1="67.3" y1="307.8" x2="188.3" y2="467.1" stroke="#16225a"/><line x1="188.3" y1="335.2" x2="309.3" y2="296.5" stroke="#6b7c3d"/><line x1="188.3" y1="108.9" x2="309.3" y2="147.7" stroke="#6b7c3d"/><line x1="67.3" y1="376.8" x2="188.3" y2="457.9" stroke="#16225a"/><line x1="67.3" y1="125.9" x2="188.3" y2="125.2" stroke="#f5c9e4"/><line x1="188.3" y1="102.6" x2="309.3" y2="80.7" stroke="#da964f"/><line x1="67.3" y1="276.7" x2="188.3" y2="243.6" stroke="#91862f"/><line x1="67.3" y1="233.0" x2="188.3" y2="163.9" stroke="#15275b"/><line x1="188.3" y1="215.4" x2="309.3" y2="199.9" stroke="#f8a17c"/><line x1="67.3" y1="397.3" x2="188.3" y2="266.2" stroke="#16225a"/><line x1="188.3" y1="409.3" x2="309.3" y2="402.9" stroke="#fbbbc4"/><line x1="188.3" y1="337.4" x2="309.3" y2="369.8" stroke="#96872e"/><line x1="67.3" y1="256.3" x2="188.3" y2="443.8" stroke="#16225a"/><line x1="67.3" y1="79.3" x2="188.3" y2="47.6" stroke="#9a882c"/><line x1="188.3" y1="442.4" x2="309.3" y2="455.8" stroke="#f9a78e"/><line x1="67.3" y1="212.6" x2="188.3" y2="226.7" stroke="#f9a588"/><line x1="67.3" y1="158.3" x2="188.3" y2="283.1" stroke="#16225a"/><line x1="67.3" y1="32.8" x2="188.3" y2="113.9" stroke="#16225a"/><line x1="67.3" y1="472.0" x2="188.3" y2="409.3" stroke="#103f60"/><line x1="67.3" y1="400.1" x2="188.3" y2="254.2" stroke="#16225a"/><line x1="188.3" y1="447.3" x2="309.3" y2="431.1" stroke="#f5a077"/><line x1="67.3" y1="464.3" x2="188.3" y2="393.1" stroke="#16225a"/><line x1="188.3" y1="351.5" x2="309.3" y2="278.9" stroke="#16225a"/><line x1="67.3" y1="127.3" x2="188.3" y2="128.7" stroke="#f6c7e0"/><line x1="67.3" y1="175.2" x2="188.3" y2="195.7" stroke="#e19859"/><line x1="188.3" y1="295.1" x2="309.3" y2="267.6" stroke="#b78e37"/><line x1="67.3" y1="290.1" x2="188.3" y2="335.2" stroke="#477050"/><line x1="67.3" y1="71.6" x2="188.3" y2="177.3" stroke="#16225a"/><line x1="67.3" y1="428.3" x2="188.3" y2="340.2" stroke="#16225a"/><line x1="188.3" y1="132.9" x2="309.3" y2="150.5" stroke="#ee9e6d"/><line x1="188.3" y1="326.1" x2="309.3" y2="335.2" stroke="#fcb3b1"/><line x1="188.3" y1="281.0" x2="309.3" y2="277.4" stroke="#f8c2d4"/><line x1="188.3" y1="254.9" x2="309.3" y2="230.9" stroke="#cf9242"/><line x1="188.3" y1="391.6" x2="309.3" y2="428.3" stroke="#797f38"/><line x1="188.3" y1="135.7" x2="309.3" y2="159.0" stroke="#d39345"/><line x1="188.3" y1="469.9" x2="309.3" y2="474.1" stroke="#f9c0d0"/><line x1="67.3" y1="244.3" x2="188.3" y2="295.8" stroke="#2a625d"/><line x1="188.3" y1="481.2" x2="309.3" y2="483.3" stroke="#f6c6dc"/><line x1="188.3" y1="414.2" x2="309.3" y2="381.8" stroke="#96872e"/><line x1="188.3" y1="161.8" x2="309.3" y2="140.0" stroke="#da964f"/><line x1="188.3" y1="228.8" x2="309.3" y2="221.0" stroke="#fdb7bc"/><line x1="188.3" y1="419.9" x2="309.3" y2="416.3" stroke="#f8c2d4"/><line x1="67.3" y1="92.7" x2="188.3" y2="150.5" stroke="#175061"/><line x1="188.3" y1="352.2" x2="309.3" y2="340.2" stroke="#faab9a"/><line x1="188.3" y1="187.9" x2="309.3" y2="180.9" stroke="#fcb9c0"/><line x1="188.3" y1="44.1" x2="309.3" y2="43.4" stroke="#f5c9e4"/><line x1="188.3" y1="353.6" x2="309.3" y2="341.6" stroke="#faab9a"/><line x1="188.3" y1="410.7" x2="309.3" y2="418.4" stroke="#fdb7bc"/><line x1="188.3" y1="417.7" x2="309.3" y2="390.9" stroke="#bc8f39"/><line x1="188.3" y1="422.7" x2="309.3" y2="422.0" stroke="#f5c9e4"/><line x1="188.3" y1="128.7" x2="309.3" y2="115.3" stroke="#f9a78e"/><line x1="67.3" y1="324.7" x2="188.3" y2="277.4" stroke="#3b6c56"/><line x1="188.3" y1="271.8" x2="309.3" y2="247.8" stroke="#cf9242"/><line x1="188.3" y1="310.6" x2="309.3" y2="345.8" stroke="#828234"/><line x1="67.3" y1="321.2" x2="188.3" y2="479.8" stroke="#16225a"/><line x1="67.3" y1="104.7" x2="188.3" y2="142.1" stroke="#747e3a"/><line x1="188.3" y1="88.5" x2="309.3" y2="79.3" stroke="#fcb3b1"/><line x1="188.3" y1="149.8" x2="309.3" y2="328.9" stroke="#16225a"/><line x1="188.3" y1="425.5" x2="309.3" y2="410.7" stroke="#f9a382"/><line x1="188.3" y1="478.4" x2="309.3" y2="479.8" stroke="#f6c7e0"/><line x1="188.3" y1="359.9" x2="309.3" y2="325.4" stroke="#878333"/><line x1="67.3" y1="466.4" x2="188.3" y2="407.9" stroke="#164d61"/><line x1="188.3" y1="383.9" x2="309.3" y2="363.4" stroke="#e19859"/><line x1="67.3" y1="467.1" x2="188.3" y2="395.9" stroke="#16225a"/><line x1="188.3" y1="356.4" x2="309.3" y2="356.4" stroke="#f4cbe8"/><line x1="67.3" y1="290.8" x2="188.3" y2="481.9" stroke="#16225a"/><line x1="188.3" y1="288.7" x2="309.3" y2="290.8" stroke="#f6c6dc"/><line x1="67.3" y1="354.3" x2="188.3" y2="296.5" stroke="#175061"/><line x1="67.3" y1="197.1" x2="188.3" y2="257.7" stroke="#134661"/><line x1="188.3" y1="367.0" x2="309.3" y2="456.5" stroke="#16225a"/><line x1="188.3" y1="276.0" x2="309.3" y2="306.3" stroke="#a48a2e"/><line x1="67.3" y1="319.0" x2="188.3" y2="475.5" stroke="#16225a"/><line x1="188.3" y1="333.8" x2="309.3" y2="349.4" stroke="#f8a17c"/><line x1="67.3" y1="456.5" x2="188.3" y2="419.1" stroke="#747e3a"/><line x1="188.3" y1="77.9" x2="309.3" y2="72.3" stroke="#fabdc8"/><line x1="67.3" y1="259.1" x2="188.3" y2="228.1" stroke="#9f892c"/><line x1="188.3" y1="362.7" x2="309.3" y2="333.8" stroke="#ad8c32"/><line x1="67.3" y1="292.2" x2="188.3" y2="231.6" stroke="#134661"/><line x1="188.3" y1="56.1" x2="309.3" y2="51.1" stroke="#fabecc"/><line x1="67.3" y1="357.1" x2="188.3" y2="436.1" stroke="#16225a"/><line x1="67.3" y1="200.6" x2="188.3" y2="201.3" stroke="#f5c9e4"/><line x1="67.3" y1="187.2" x2="188.3" y2="336.0" stroke="#16225a"/><line x1="67.3" y1="281.7" x2="188.3" y2="473.4" stroke="#16225a"/><line x1="67.3" y1="202.7" x2="188.3" y2="229.5" stroke="#bc8f39"/><line x1="188.3" y1="438.9" x2="309.3" y2="427.6" stroke="#fbad9f"/><line x1="67.3" y1="406.5" x2="188.3" y2="385.3" stroke="#dd9754"/><line x1="188.3" y1="369.1" x2="309.3" y2="369.1" stroke="#f4cbe8"/><line x1="188.3" y1="370.5" x2="309.3" y2="338.8" stroke="#9a882c"/><line x1="188.3" y1="314.8" x2="309.3" y2="258.4" stroke="#1a5562"/><line x1="188.3" y1="406.5" x2="309.3" y2="383.9" stroke="#d7954a"/><line x1="67.3" y1="340.9" x2="188.3" y2="218.9" stroke="#16225a"/><line x1="188.3" y1="403.6" x2="309.3" y2="376.1" stroke="#b78e37"/><line x1="188.3" y1="113.9" x2="309.3" y2="92.0" stroke="#da964f"/><line x1="67.3" y1="302.1" x2="188.3" y2="276.7" stroke="#c5913d"/><line x1="67.3" y1="226.0" x2="188.3" y2="173.8" stroke="#27605e"/><line x1="188.3" y1="388.1" x2="309.3" y2="352.2" stroke="#7e8136"/><line x1="67.3" y1="390.9" x2="188.3" y2="108.9" stroke="#16225a"/><line x1="67.3" y1="218.9" x2="188.3" y2="152.7" stroke="#13325d"/><line x1="67.3" y1="361.3" x2="188.3" y2="376.1" stroke="#f9a382"/><line x1="188.3" y1="118.8" x2="309.3" y2="118.1" stroke="#f5c9e4"/><line x1="67.3" y1="194.2" x2="188.3" y2="206.9" stroke="#faa994"/><line x1="188.3" y1="51.1" x2="309.3" y2="217.5" stroke="#16225a"/><line x1="67.3" y1="350.1" x2="188.3" y2="362.7" stroke="#faa994"/><line x1="188.3" y1="37.7" x2="309.3" y2="32.8" stroke="#fabecc"/><line x1="188.3" y1="64.5" x2="309.3" y2="65.9" stroke="#f6c7e0"/><line x1="188.3" y1="46.2" x2="309.3" y2="42.7" stroke="#f8c2d4"/><line x1="67.3" y1="425.5" x2="188.3" y2="239.4" stroke="#16225a"/><line x1="67.3" y1="223.9" x2="188.3" y2="300.0" stroke="#16225a"/><line x1="67.3" y1="210.5" x2="188.3" y2="113.2" stroke="#16225a"/><line x1="188.3" y1="338.1" x2="309.3" y2="336.7" stroke="#f6c7e0"/><line x1="188.3" y1="387.4" x2="309.3" y2="347.9" stroke="#667a3f"/><line x1="188.3" y1="422.0" x2="309.3" y2="395.9" stroke="#c1903b"/><line x1="67.3" y1="65.2" x2="188.3" y2="52.5" stroke="#faa994"/><line x1="188.3" y1="313.4" x2="309.3" y2="259.8" stroke="#215d60"/><line x1="188.3" y1="239.4" x2="309.3" y2="412.1" stroke="#16225a"/><line x1="67.3" y1="403.6" x2="188.3" y2="309.2" stroke="#16225a"/><line x1="188.3" y1="364.2" x2="309.3" y2="350.8" stroke="#f9a78e"/><line x1="188.3" y1="178.7" x2="309.3" y2="161.8" stroke="#f29f72"/><line x1="188.3" y1="257.0" x2="309.3" y2="257.7" stroke="#f5c9e4"/><line x1="188.3" y1="407.2" x2="309.3" y2="395.2" stroke="#faab9a"/><line x1="67.3" y1="469.9" x2="188.3" y2="468.5" stroke="#f6c7e0"/><line x1="67.3" y1="114.6" x2="188.3" y2="87.8" stroke="#bc8f39"/><line x1="188.3" y1="309.2" x2="309.3" y2="289.4" stroke="#e49a5e"/><line x1="188.3" y1="412.1" x2="309.3" y2="413.5" stroke="#f6c7e0"/><line x1="67.3" y1="364.2" x2="188.3" y2="365.6" stroke="#f6c7e0"/><line x1="67.3" y1="255.6" x2="188.3" y2="390.9" stroke="#16225a"/><line x1="67.3" y1="424.8" x2="188.3" y2="154.8" stroke="#16225a"/><line x1="188.3" y1="287.3" x2="309.3" y2="206.2" stroke="#16225a"/><line x1="188.3" y1="114.6" x2="309.3" y2="100.5" stroke="#f9a588"/><line x1="188.3" y1="233.7" x2="309.3" y2="249.9" stroke="#f5a077"/><line x1="188.3" y1="374.7" x2="309.3" y2="370.5" stroke="#f9c0d0"/><line x1="67.3" y1="183.0" x2="188.3" y2="311.3" stroke="#16225a"/><line x1="188.3" y1="178.0" x2="309.3" y2="156.2" stroke="#da964f"/><line x1="67.3" y1="481.9" x2="188.3" y2="434.7" stroke="#3b6c56"/><line x1="67.3" y1="359.2" x2="188.3" y2="469.9" stroke="#16225a"/><line x1="188.3" y1="168.9" x2="309.3" y2="139.3" stroke="#a98b30"/><line x1="67.3" y1="128.0" x2="188.3" y2="95.5" stroke="#96872e"/><line x1="188.3" y1="116.0" x2="309.3" y2="102.6" stroke="#f9a78e"/><line x1="188.3" y1="412.8" x2="309.3" y2="398.7" stroke="#f9a588"/><line x1="67.3" y1="36.3" x2="188.3" y2="252.8" stroke="#16225a"/><line x1="188.3" y1="483.3" x2="309.3" y2="482.6" stroke="#f5c9e4"/><line x1="67.3" y1="324.0" x2="188.3" y2="462.9" stroke="#16225a"/><line x1="67.3" y1="235.8" x2="188.3" y2="389.5" stroke="#16225a"/><line x1="188.3" y1="61.7" x2="309.3" y2="61.7" stroke="#f4cbe8"/><line x1="188.3" y1="93.4" x2="309.3" y2="283.1" stroke="#16225a"/><line x1="188.3" y1="429.7" x2="309.3" y2="410.0" stroke="#e49a5e"/><line x1="188.3" y1="317.6" x2="309.3" y2="282.4" stroke="#828234"/><line x1="188.3" y1="308.5" x2="309.3" y2="253.5" stroke="#1c5962"/><line x1="188.3" y1="371.2" x2="309.3" y2="355.7" stroke="#f8a17c"/><line x1="188.3" y1="323.3" x2="309.3" y2="298.6" stroke="#ca923f"/><line x1="67.3" y1="297.9" x2="188.3" y2="453.0" stroke="#16225a"/><line x1="188.3" y1="355.7" x2="309.3" y2="340.9" stroke="#f9a382"/><line x1="188.3" y1="81.4" x2="309.3" y2="73.0" stroke="#fdb5b7"/><line x1="67.3" y1="47.6" x2="188.3" y2="50.4" stroke="#f7c4d8"/><line x1="67.3" y1="454.4" x2="188.3" y2="393.8" stroke="#134661"/><line x1="67.3" y1="261.2" x2="188.3" y2="400.8" stroke="#16225a"/><line x1="67.3" y1="268.3" x2="188.3" y2="352.2" stroke="#16225a"/><line x1="67.3" y1="333.8" x2="188.3" y2="310.6" stroke="#d39345"/><line x1="67.3" y1="171.7" x2="188.3" y2="121.6" stroke="#30665b"/><line x1="188.3" y1="42.0" x2="309.3" y2="39.9" stroke="#f6c6dc"/><line x1="188.3" y1="460.0" x2="309.3" y2="462.9" stroke="#f7c4d8"/><line x1="188.3" y1="110.4" x2="309.3" y2="120.9" stroke="#fbafa5"/><line x1="67.3" y1="205.5" x2="188.3" y2="170.3" stroke="#828234"/><line x1="67.3" y1="142.1" x2="188.3" y2="261.9" stroke="#16225a"/><line x1="188.3" y1="320.4" x2="309.3" y2="276.7" stroke="#4e734c"/><line x1="188.3" y1="285.2" x2="309.3" y2="295.8" stroke="#fbafa5"/><line x1="67.3" y1="370.5" x2="188.3" y2="361.3" stroke="#fcb3b1"/><line x1="188.3" y1="433.2" x2="309.3" y2="409.3" stroke="#cf9242"/><line x1="67.3" y1="459.3" x2="188.3" y2="466.4" stroke="#fcb9c0"/><line x1="188.3" y1="455.8" x2="309.3" y2="465.7" stroke="#fcb1ab"/><line x1="188.3" y1="314.1" x2="309.3" y2="348.6" stroke="#878333"/><line x1="67.3" y1="229.5" x2="188.3" y2="423.4" stroke="#16225a"/><line x1="67.3" y1="216.8" x2="188.3" y2="131.5" stroke="#16225a"/><line x1="67.3" y1="468.5" x2="188.3" y2="482.6" stroke="#f9a588"/><line x1="67.3" y1="439.6" x2="188.3" y2="324.7" stroke="#16225a"/><line x1="188.3" y1="117.4" x2="309.3" y2="120.2" stroke="#f7c4d8"/><line x1="188.3" y1="475.5" x2="309.3" y2="477.0" stroke="#f6c7e0"/><line x1="67.3" y1="422.7" x2="188.3" y2="264.8" stroke="#16225a"/><line x1="188.3" y1="197.1" x2="309.3" y2="192.8" stroke="#f9c0d0"/><line x1="67.3" y1="190.7" x2="188.3" y2="271.1" stroke="#16225a"/><line x1="188.3" y1="171.0" x2="309.3" y2="147.0" stroke="#cf9242"/><line x1="67.3" y1="348.6" x2="188.3" y2="383.9" stroke="#828234"/><line x1="188.3" y1="400.8" x2="309.3" y2="399.4" stroke="#f6c7e0"/><line x1="188.3" y1="145.6" x2="309.3" y2="126.6" stroke="#e89b63"/><line x1="67.3" y1="463.6" x2="188.3" y2="422.0" stroke="#5a7745"/><line x1="188.3" y1="120.2" x2="309.3" y2="113.2" stroke="#fcb9c0"/><line x1="67.3" y1="204.8" x2="188.3" y2="366.3" stroke="#16225a"/><line x1="188.3" y1="105.4" x2="309.3" y2="101.9" stroke="#f8c2d4"/><line x1="67.3" y1="225.3" x2="188.3" y2="346.5" stroke="#16225a"/><line x1="67.3" y1="170.3" x2="188.3" y2="84.3" stroke="#16225a"/><line x1="67.3" y1="217.5" x2="188.3" y2="188.6" stroke="#ad8c32"/><line x1="67.3" y1="122.3" x2="188.3" y2="76.5" stroke="#436f52"/><line x1="67.3" y1="179.4" x2="188.3" y2="186.5" stroke="#fcb9c0"/><line x1="188.3" y1="432.5" x2="309.3" y2="414.9" stroke="#ee9e6d"/><line x1="188.3" y1="434.7" x2="309.3" y2="436.1" stroke="#f6c7e0"/><line x1="67.3" y1="412.8" x2="188.3" y2="345.1" stroke="#142c5c"/><line x1="188.3" y1="191.4" x2="309.3" y2="159.7" stroke="#9a882c"/><line x1="67.3" y1="161.8" x2="188.3" y2="344.4" stroke="#16225a"/><line x1="67.3" y1="143.5" x2="188.3" y2="71.6" stroke="#16225a"/><line x1="188.3" y1="157.6" x2="309.3" y2="137.1" stroke="#e19859"/><line x1="67.3" y1="140.0" x2="188.3" y2="94.8" stroke="#477050"/><line x1="67.3" y1="369.8" x2="188.3" y2="119.5" stroke="#16225a"/><line x1="188.3" y1="275.3" x2="309.3" y2="257.0" stroke="#eb9c68"/><line x1="67.3" y1="154.1" x2="188.3" y2="92.7" stroke="#124460"/><line x1="188.3" y1="44.8" x2="309.3" y2="46.9" stroke="#f6c6dc"/><line x1="188.3" y1="485.4" x2="309.3" y2="481.9" stroke="#f8c2d4"/><line x1="67.3" y1="147.0" x2="188.3" y2="151.2" stroke="#f9c0d0"/><line x1="188.3" y1="77.2" x2="309.3" y2="109.7" stroke="#96872e"/><line x1="67.3" y1="101.9" x2="188.3" y2="86.4" stroke="#f8a17c"/><line x1="67.3" y1="34.2" x2="188.3" y2="105.4" stroke="#16225a"/><line x1="188.3" y1="92.0" x2="309.3" y2="107.5" stroke="#f8a17c"/><line x1="67.3" y1="72.3" x2="188.3" y2="63.1" stroke="#fcb3b1"/><line x1="188.3" y1="47.6" x2="309.3" y2="47.6" stroke="#f4cbe8"/><line x1="67.3" y1="309.2" x2="188.3" y2="418.4" stroke="#16225a"/><line x1="188.3" y1="99.1" x2="309.3" y2="82.2" stroke="#f29f72"/><line x1="67.3" y1="139.3" x2="188.3" y2="294.4" stroke="#16225a"/><line x1="188.3" y1="101.9" x2="309.3" y2="75.8" stroke="#c1903b"/><line x1="67.3" y1="39.9" x2="188.3" y2="96.3" stroke="#1a5562"/><line x1="188.3" y1="477.0" x2="309.3" y2="479.1" stroke="#f6c6dc"/><line x1="67.3" y1="165.3" x2="188.3" y2="196.4" stroke="#9f892c"/><line x1="188.3" y1="358.5" x2="309.3" y2="353.6" stroke="#fabecc"/><line x1="67.3" y1="111.1" x2="188.3" y2="78.6" stroke="#96872e"/><line x1="67.3" y1="61.7" x2="188.3" y2="46.9" stroke="#f9a382"/><line x1="188.3" y1="163.9" x2="309.3" y2="155.5" stroke="#fdb5b7"/><line x1="67.3" y1="486.1" x2="188.3" y2="441.7" stroke="#4b724e"/><line x1="67.3" y1="101.2" x2="188.3" y2="204.8" stroke="#16225a"/><line x1="67.3" y1="75.8" x2="188.3" y2="167.5" stroke="#16225a"/><line x1="188.3" y1="303.5" x2="309.3" y2="240.8" stroke="#103f60"/><line x1="67.3" y1="382.5" x2="188.3" y2="173.1" stroke="#16225a"/><line x1="188.3" y1="316.2" x2="309.3" y2="304.9" stroke="#fbad9f"/><line x1="67.3" y1="169.6" x2="188.3" y2="94.1" stroke="#16225a"/><line x1="188.3" y1="119.5" x2="309.3" y2="98.4" stroke="#dd9754"/><line x1="188.3" y1="371.9" x2="309.3" y2="319.7" stroke="#27605e"/><line x1="67.3" y1="97.7" x2="188.3" y2="259.1" stroke="#16225a"/><line x1="67.3" y1="234.4" x2="188.3" y2="187.2" stroke="#3b6c56"/><line x1="67.3" y1="113.9" x2="188.3" y2="190.7" stroke="#16225a"/><line x1="188.3" y1="149.1" x2="309.3" y2="171.0" stroke="#da964f"/><line x1="188.3" y1="283.8" x2="309.3" y2="252.8" stroke="#9f892c"/><line x1="188.3" y1="375.4" x2="309.3" y2="379.0" stroke="#f8c2d4"/><line x1="67.3" y1="89.9" x2="188.3" y2="51.8" stroke="#6f7d3b"/><line x1="67.3" y1="367.7" x2="188.3" y2="363.4" stroke="#f9c0d0"/><line x1="67.3" y1="138.6" x2="188.3" y2="79.3" stroke="#154b61"/><line x1="67.3" y1="206.9" x2="188.3" y2="322.6" stroke="#16225a"/><line x1="67.3" y1="399.4" x2="188.3" y2="190.0" stroke="#16225a"/><line x1="188.3" y1="70.2" x2="309.3" y2="225.3" stroke="#16225a"/><line x1="67.3" y1="183.7" x2="188.3" y2="338.1" stroke="#16225a"/><line x1="67.3" y1="423.4" x2="188.3" y2="379.0" stroke="#4b724e"/><line x1="188.3" y1="139.3" x2="309.3" y2="123.0" stroke="#f5a077"/><line x1="67.3" y1="34.9" x2="188.3" y2="133.6" stroke="#16225a"/><line x1="67.3" y1="163.2" x2="188.3" y2="137.1" stroke="#c1903b"/><line x1="67.3" y1="120.9" x2="188.3" y2="67.3" stroke="#215d60"/><line x1="67.3" y1="300.7" x2="188.3" y2="353.6" stroke="#245f5f"/><line x1="188.3" y1="53.2" x2="309.3" y2="60.3" stroke="#fcb9c0"/><line x1="67.3" y1="336.7" x2="188.3" y2="307.8" stroke="#ad8c32"/><line x1="67.3" y1="276.0" x2="188.3" y2="397.3" stroke="#16225a"/><line x1="67.3" y1="366.3" x2="188.3" y2="356.4" stroke="#fcb1ab"/><line x1="67.3" y1="469.2" x2="188.3" y2="470.6" stroke="#f6c7e0"/><line x1="188.3" y1="98.4" x2="309.3" y2="116.7" stroke="#eb9c68"/><line x1="67.3" y1="291.5" x2="188.3" y2="314.8" stroke="#d39345"/><line x1="67.3" y1="408.6" x2="188.3" y2="295.1" stroke="#16225a"/><line x1="188.3" y1="171.7" x2="309.3" y2="142.8" stroke="#ad8c32"/><line x1="188.3" y1="265.5" x2="309.3" y2="202.7" stroke="#103f60"/><line x1="67.3" y1="254.2" x2="188.3" y2="253.5" stroke="#f5c9e4"/><line x1="188.3" y1="420.6" x2="309.3" y2="402.2" stroke="#eb9c68"/><line x1="188.3" y1="41.3" x2="309.3" y2="44.8" stroke="#f8c2d4"/><line x1="67.3" y1="197.8" x2="188.3" y2="388.8" stroke="#16225a"/><line x1="188.3" y1="342.3" x2="309.3" y2="300.0" stroke="#567548"/><line x1="188.3" y1="237.3" x2="309.3" y2="190.7" stroke="#3f6e55"/><line x1="67.3" y1="119.5" x2="188.3" y2="66.6" stroke="#245f5f"/><line x1="67.3" y1="150.5" x2="188.3" y2="81.4" stroke="#15275b"/><line x1="67.3" y1="39.1" x2="188.3" y2="175.9" stroke="#16225a"/><line x1="188.3" y1="209.1" x2="309.3" y2="373.3" stroke="#16225a"/><line x1="188.3" y1="316.9" x2="309.3" y2="308.5" stroke="#fdb5b7"/><line x1="67.3" y1="280.3" x2="188.3" y2="307.1" stroke="#bc8f39"/><line x1="67.3" y1="386.7" x2="188.3" y2="320.4" stroke="#13325d"/><line x1="67.3" y1="281.0" x2="188.3" y2="147.0" stroke="#16225a"/><line x1="67.3" y1="398.7" x2="188.3" y2="331.7" stroke="#132f5d"/><line x1="67.3" y1="58.2" x2="188.3" y2="213.3" stroke="#16225a"/><line x1="188.3" y1="57.5" x2="309.3" y2="55.4" stroke="#f6c6dc"/><line x1="188.3" y1="166.8" x2="309.3" y2="163.2" stroke="#f8c2d4"/><line x1="188.3" y1="130.8" x2="309.3" y2="106.1" stroke="#ca923f"/><line x1="188.3" y1="89.2" x2="309.3" y2="82.9" stroke="#fbbbc4"/><line x1="188.3" y1="457.2" x2="309.3" y2="450.2" stroke="#fcb9c0"/><line x1="67.3" y1="116.7" x2="188.3" y2="73.7" stroke="#52744a"/><line x1="67.3" y1="335.2" x2="188.3" y2="464.3" stroke="#16225a"/><line x1="67.3" y1="130.1" x2="188.3" y2="72.3" stroke="#175061"/><line x1="188.3" y1="385.3" x2="309.3" y2="406.5" stroke="#dd9754"/><line x1="67.3" y1="87.8" x2="188.3" y2="252.1" stroke="#16225a"/><line x1="67.3" y1="117.4" x2="188.3" y2="343.7" stroke="#16225a"/><line x1="188.3" y1="368.4" x2="309.3" y2="459.3" stroke="#16225a"/><line x1="188.3" y1="469.2" x2="309.3" y2="462.1" stroke="#fcb9c0"/><line x1="67.3" y1="245.7" x2="188.3" y2="199.9" stroke="#436f52"/><line x1="188.3" y1="472.0" x2="309.3" y2="472.0" stroke="#f4cbe8"/><line x1="67.3" y1="247.8" x2="188.3" y2="392.4" stroke="#16225a"/><line x1="188.3" y1="407.9" x2="309.3" y2="403.6" stroke="#f9c0d0"/><line x1="67.3" y1="50.4" x2="188.3" y2="37.0" stroke="#f9a78e"/><line x1="188.3" y1="429.0" x2="309.3" y2="407.2" stroke="#da964f"/><line x1="188.3" y1="244.3" x2="309.3" y2="182.3" stroke="#114160"/><line x1="67.3" y1="107.5" x2="188.3" y2="273.2" stroke="#16225a"/><line x1="67.3" y1="44.8" x2="188.3" y2="117.4" stroke="#16225a"/><line x1="67.3" y1="146.3" x2="188.3" y2="202.0" stroke="#1b5762"/><line x1="67.3" y1="172.4" x2="188.3" y2="91.3" stroke="#16225a"/><line x1="67.3" y1="432.5" x2="188.3" y2="148.4" stroke="#16225a"/><line x1="67.3" y1="412.1" x2="188.3" y2="159.7" stroke="#16225a"/><line x1="67.3" y1="46.2" x2="188.3" y2="325.4" stroke="#16225a"/><line x1="188.3" y1="137.1" x2="309.3" y2="122.3" stroke="#f9a382"/><line x1="188.3" y1="300.0" x2="309.3" y2="292.9" stroke="#fcb9c0"/><line x1="188.3" y1="350.8" x2="309.3" y2="337.4" stroke="#f9a78e"/><line x1="67.3" y1="152.7" x2="188.3" y2="155.5" stroke="#f7c4d8"/><line x1="188.3" y1="466.4" x2="309.3" y2="465.0" stroke="#f6c7e0"/><line x1="188.3" y1="383.2" x2="309.3" y2="420.6" stroke="#747e3a"/><line x1="67.3" y1="156.2" x2="188.3" y2="192.8" stroke="#797f38"/><line x1="67.3" y1="208.3" x2="188.3" y2="223.9" stroke="#f8a17c"/><line x1="67.3" y1="73.7" x2="188.3" y2="101.2" stroke="#b78e37"/><line x1="188.3" y1="381.1" x2="309.3" y2="371.2" stroke="#fcb1ab"/><line x1="188.3" y1="289.4" x2="309.3" y2="271.8" stroke="#ee9e6d"/><line x1="188.3" y1="393.1" x2="309.3" y2="386.7" stroke="#fbbbc4"/><line x1="67.3" y1="175.9" x2="188.3" y2="120.9" stroke="#1c5962"/><line x1="67.3" y1="86.4" x2="188.3" y2="157.6" stroke="#16225a"/><line x1="67.3" y1="235.1" x2="188.3" y2="207.6" stroke="#b78e37"/><line x1="67.3" y1="149.8" x2="188.3" y2="146.3" stroke="#f8c2d4"/><line x1="67.3" y1="312.0" x2="188.3" y2="396.6" stroke="#16225a"/><line x1="188.3" y1="242.2" x2="309.3" y2="447.3" stroke="#16225a"/><line x1="188.3" y1="94.8" x2="309.3" y2="87.1" stroke="#fdb7bc"/><line x1="188.3" y1="46.9" x2="309.3" y2="45.5" stroke="#f6c7e0"/><line x1="188.3" y1="282.4" x2="309.3" y2="314.8" stroke="#96872e"/><line x1="67.3" y1="405.0" x2="188.3" y2="249.9" stroke="#16225a"/><line x1="67.3" y1="206.2" x2="188.3" y2="214.7" stroke="#fdb5b7"/><line x1="188.3" y1="232.3" x2="309.3" y2="227.4" stroke="#fabecc"/><line x1="188.3" y1="460.7" x2="309.3" y2="452.3" stroke="#fdb5b7"/><line x1="188.3" y1="250.6" x2="309.3" y2="191.4" stroke="#154b61"/><line x1="67.3" y1="306.3" x2="188.3" y2="285.9" stroke="#e19859"/><line x1="188.3" y1="218.2" x2="309.3" y2="181.6" stroke="#797f38"/><line x1="67.3" y1="171.0" x2="188.3" y2="235.1" stroke="#11395f"/><line x1="67.3" y1="151.2" x2="188.3" y2="179.4" stroke="#b28d35"/><line x1="67.3" y1="55.4" x2="188.3" y2="230.9" stroke="#16225a"/><line x1="188.3" y1="408.6" x2="309.3" y2="421.3" stroke="#faa994"/><line x1="67.3" y1="323.3" x2="188.3" y2="288.7" stroke="#878333"/><line x1="188.3" y1="207.6" x2="309.3" y2="192.1" stroke="#f8a17c"/><line x1="188.3" y1="74.4" x2="309.3" y2="74.4" stroke="#f4cbe8"/><line x1="67.3" y1="263.3" x2="188.3" y2="300.7" stroke="#747e3a"/><line x1="188.3" y1="226.0" x2="309.3" y2="209.1" stroke="#f29f72"/><line x1="67.3" y1="242.2" x2="188.3" y2="415.6" stroke="#16225a"/><line x1="67.3" y1="299.3" x2="188.3" y2="254.9" stroke="#4b724e"/><line x1="188.3" y1="252.8" x2="309.3" y2="229.5" stroke="#d39345"/><line x1="188.3" y1="307.8" x2="309.3" y2="322.6" stroke="#f9a382"/><line x1="67.3" y1="278.9" x2="188.3" y2="347.2" stroke="#142a5c"/><line x1="188.3" y1="168.2" x2="309.3" y2="178.7" stroke="#fbafa5"/><line x1="188.3" y1="75.1" x2="309.3" y2="68.8" stroke="#fbbbc4"/><line x1="188.3" y1="339.5" x2="309.3" y2="339.5" stroke="#f4cbe8"/><line x1="67.3" y1="443.1" x2="188.3" y2="268.3" stroke="#16225a"/><line x1="188.3" y1="350.1" x2="309.3" y2="347.2" stroke="#f7c4d8"/><line x1="67.3" y1="49.7" x2="188.3" y2="46.2" stroke="#f8c2d4"/><line x1="67.3" y1="99.8" x2="188.3" y2="56.8" stroke="#52744a"/><line x1="188.3" y1="99.8" x2="309.3" y2="129.4" stroke="#a98b30"/><line x1="67.3" y1="271.8" x2="188.3" y2="462.1" stroke="#16225a"/><line x1="67.3" y1="355.7" x2="188.3" y2="445.9" stroke="#16225a"/><line x1="67.3" y1="300.0" x2="188.3" y2="467.8" stroke="#16225a"/><line x1="188.3" y1="311.3" x2="309.3" y2="288.7" stroke="#d7954a"/><line x1="188.3" y1="185.8" x2="309.3" y2="166.0" stroke="#e49a5e"/><line x1="188.3" y1="382.5" x2="309.3" y2="361.3" stroke="#dd9754"/><line x1="188.3" y1="127.3" x2="309.3" y2="136.4" stroke="#fcb3b1"/><line x1="67.3" y1="141.4" x2="188.3" y2="85.0" stroke="#1a5562"/><line x1="67.3" y1="112.5" x2="188.3" y2="306.3" stroke="#16225a"/><line x1="67.3" y1="331.0" x2="188.3" y2="424.8" stroke="#16225a"/><line x1="188.3" y1="235.1" x2="309.3" y2="204.8" stroke="#a48a2e"/><line x1="67.3" y1="223.2" x2="188.3" y2="191.4" stroke="#9a882c"/><line x1="188.3" y1="396.6" x2="309.3" y2="358.5" stroke="#6f7d3b"/><line x1="188.3" y1="476.2" x2="309.3" y2="478.4" stroke="#f6c6dc"/><line x1="67.3" y1="467.8" x2="188.3" y2="476.2" stroke="#fdb5b7"/><line x1="67.3" y1="221.0" x2="188.3" y2="228.8" stroke="#fdb7bc"/><line x1="67.3" y1="164.6" x2="188.3" y2="246.4" stroke="#16225a"/><line x1="188.3" y1="190.7" x2="309.3" y2="202.0" stroke="#fbad9f"/><line x1="67.3" y1="161.1" x2="188.3" y2="247.8" stroke="#16225a"/><line x1="188.3" y1="59.6" x2="309.3" y2="57.5" stroke="#f6c6dc"/><line x1="67.3" y1="426.2" x2="188.3" y2="332.4" stroke="#16225a"/><line x1="188.3" y1="132.2" x2="309.3" y2="118.8" stroke="#f9a78e"/><line x1="67.3" y1="460.0" x2="188.3" y2="440.3" stroke="#e49a5e"/><line x1="188.3" y1="330.3" x2="309.3" y2="417.7" stroke="#16225a"/><line x1="188.3" y1="445.9" x2="309.3" y2="426.2" stroke="#e49a5e"/><line x1="188.3" y1="144.2" x2="309.3" y2="170.3" stroke="#c1903b"/><line x1="188.3" y1="279.6" x2="309.3" y2="218.9" stroke="#134661"/><line x1="188.3" y1="280.3" x2="309.3" y2="245.7" stroke="#878333"/><line x1="67.3" y1="436.1" x2="188.3" y2="381.8" stroke="#1e5b61"/><line x1="67.3" y1="393.8" x2="188.3" y2="248.5" stroke="#16225a"/><line x1="188.3" y1="235.8" x2="309.3" y2="212.6" stroke="#d39345"/><line x1="188.3" y1="160.4" x2="309.3" y2="108.9" stroke="#2a625d"/><line x1="188.3" y1="96.3" x2="309.3" y2="97.7" stroke="#f6c7e0"/><line x1="67.3" y1="457.2" x2="188.3" y2="441.0" stroke="#f5a077"/><line x1="67.3" y1="417.0" x2="188.3" y2="474.1" stroke="#195261"/><line x1="67.3" y1="132.2" x2="188.3" y2="73.0" stroke="#154b61"/><line x1="67.3" y1="260.5" x2="188.3" y2="316.9" stroke="#1a5562"/><line x1="188.3" y1="264.0" x2="309.3" y2="268.3" stroke="#f9c0d0"/><line x1="67.3" y1="82.9" x2="188.3" y2="43.4" stroke="#667a3f"/><line x1="188.3" y1="125.2" x2="309.3" y2="375.4" stroke="#16225a"/><line x1="188.3" y1="61.0" x2="309.3" y2="54.7" stroke="#fbbbc4"/><line x1="188.3" y1="272.5" x2="309.3" y2="276.0" stroke="#f8c2d4"/><line x1="67.3" y1="356.4" x2="188.3" y2="110.4" stroke="#16225a"/><line x1="67.3" y1="108.9" x2="188.3" y2="106.8" stroke="#f6c6dc"/><line x1="67.3" y1="283.8" x2="188.3" y2="412.1" stroke="#16225a"/><line x1="188.3" y1="402.2" x2="309.3" y2="394.5" stroke="#fdb7bc"/><line x1="188.3" y1="374.0" x2="309.3" y2="379.7" stroke="#fabdc8"/><line x1="67.3" y1="284.5" x2="188.3" y2="178.0" stroke="#16225a"/><line x1="67.3" y1="63.1" x2="188.3" y2="34.9" stroke="#b28d35"/><line x1="67.3" y1="237.3" x2="188.3" y2="313.4" stroke="#16225a"/><line x1="188.3" y1="154.1" x2="309.3" y2="124.5" stroke="#a98b30"/><line x1="67.3" y1="124.5" x2="188.3" y2="238.7" stroke="#16225a"/><line x1="188.3" y1="393.8" x2="309.3" y2="357.1" stroke="#797f38"/><line x1="67.3" y1="309.9" x2="188.3" y2="460.7" stroke="#16225a"/><line x1="67.3" y1="380.4" x2="188.3" y2="484.7" stroke="#16225a"/><line x1="67.3" y1="445.9" x2="188.3" y2="214.0" stroke="#16225a"/><line x1="67.3" y1="429.0" x2="188.3" y2="281.7" stroke="#16225a"/><line x1="67.3" y1="395.9" x2="188.3" y2="369.1" stroke="#bc8f39"/><line x1="67.3" y1="402.2" x2="188.3" y2="270.4" stroke="#16225a"/><line x1="67.3" y1="207.6" x2="188.3" y2="154.1" stroke="#215d60"/><line x1="67.3" y1="483.3" x2="188.3" y2="426.9" stroke="#1a5562"/><line x1="67.3" y1="157.6" x2="188.3" y2="97.0" stroke="#134661"/><line x1="188.3" y1="266.9" x2="309.3" y2="272.5" stroke="#fabdc8"/><line x1="188.3" y1="202.7" x2="309.3" y2="195.0" stroke="#fdb7bc"/><line x1="67.3" y1="414.9" x2="188.3" y2="479.1" stroke="#11395f"/><line x1="67.3" y1="166.0" x2="188.3" y2="269.0" stroke="#16225a"/><line x1="188.3" y1="226.7" x2="309.3" y2="204.1" stroke="#d7954a"/><line x1="188.3" y1="379.0" x2="309.3" y2="374.0" stroke="#fabecc"/><line x1="67.3" y1="52.5" x2="188.3" y2="32.8" stroke="#e49a5e"/><line x1="67.3" y1="243.6" x2="188.3" y2="211.9" stroke="#9a882c"/><line x1="67.3" y1="104.0" x2="188.3" y2="145.6" stroke="#5a7745"/><line x1="188.3" y1="268.3" x2="309.3" y2="237.3" stroke="#9f892c"/><line x1="188.3" y1="261.2" x2="309.3" y2="244.3" stroke="#f29f72"/><line x1="67.3" y1="441.7" x2="188.3" y2="319.0" stroke="#16225a"/><line x1="188.3" y1="230.9" x2="309.3" y2="183.7" stroke="#3b6c56"/><line x1="188.3" y1="367.7" x2="309.3" y2="326.8" stroke="#5e7843"/><line x1="188.3" y1="390.9" x2="309.3" y2="359.9" stroke="#9f892c"/><line x1="67.3" y1="339.5" x2="188.3" y2="375.4" stroke="#7e8136"/><line x1="188.3" y1="318.3" x2="309.3" y2="270.4" stroke="#386b57"/><line x1="67.3" y1="83.6" x2="188.3" y2="54.0" stroke="#a98b30"/><line x1="67.3" y1="162.5" x2="188.3" y2="99.1" stroke="#113c5f"/><line x1="67.3" y1="204.1" x2="188.3" y2="137.8" stroke="#13325d"/><line x1="67.3" y1="113.2" x2="188.3" y2="108.2" stroke="#fabecc"/><line x1="188.3" y1="294.4" x2="309.3" y2="266.9" stroke="#b78e37"/><line x1="188.3" y1="398.0" x2="309.3" y2="424.1" stroke="#c1903b"/><line x1="188.3" y1="204.8" x2="309.3" y2="438.9" stroke="#16225a"/><line x1="188.3" y1="384.6" x2="309.3" y2="367.0" stroke="#ee9e6d"/><line x1="67.3" y1="54.7" x2="188.3" y2="169.6" stroke="#16225a"/><line x1="188.3" y1="165.3" x2="309.3" y2="142.1" stroke="#d39345"/><line x1="67.3" y1="131.5" x2="188.3" y2="65.9" stroke="#12345e"/><line x1="67.3" y1="61.0" x2="188.3" y2="51.1" stroke="#fcb1ab"/><line x1="188.3" y1="91.3" x2="309.3" y2="105.4" stroke="#f9a588"/><line x1="188.3" y1="192.1" x2="309.3" y2="171.7" stroke="#e19859"/><line x1="188.3" y1="68.8" x2="309.3" y2="316.2" stroke="#16225a"/><line x1="67.3" y1="329.6" x2="188.3" y2="368.4" stroke="#6b7c3d"/><line x1="67.3" y1="151.9" x2="188.3" y2="118.1" stroke="#8c8531"/><line x1="67.3" y1="214.7" x2="188.3" y2="408.6" stroke="#16225a"/><line x1="67.3" y1="133.6" x2="188.3" y2="216.8" stroke="#16225a"/><line x1="188.3" y1="343.0" x2="309.3" y2="313.4" stroke="#a98b30"/><line x1="188.3" y1="73.0" x2="309.3" y2="75.1" stroke="#f6c6dc"/><line x1="67.3" y1="188.6" x2="188.3" y2="369.8" stroke="#16225a"/><line x1="188.3" y1="43.4" x2="309.3" y2="44.1" stroke="#f5c9e4"/><line x1="188.3" y1="404.3" x2="309.3" y2="386.0" stroke="#eb9c68"/><line x1="188.3" y1="86.4" x2="309.3" y2="77.2" stroke="#fcb3b1"/><line x1="188.3" y1="106.1" x2="309.3" y2="93.4" stroke="#faa994"/><line x1="67.3" y1="311.3" x2="188.3" y2="367.7" stroke="#1a5562"/><line x1="188.3" y1="209.8" x2="309.3" y2="236.5" stroke="#bc8f39"/><line x1="188.3" y1="184.4" x2="309.3" y2="199.2" stroke="#f9a382"/><line x1="67.3" y1="438.2" x2="188.3" y2="326.1" stroke="#16225a"/><line x1="67.3" y1="352.9" x2="188.3" y2="355.0" stroke="#f6c6dc"/><line x1="188.3" y1="214.7" x2="309.3" y2="228.8" stroke="#f9a588"/><line x1="67.3" y1="241.5" x2="188.3" y2="426.2" stroke="#16225a"/><line x1="67.3" y1="317.6" x2="188.3" y2="374.0" stroke="#1a5562"/><line x1="67.3" y1="58.9" x2="188.3" y2="54.7" stroke="#f9c0d0"/><line x1="188.3" y1="180.1" x2="309.3" y2="127.3" stroke="#245f5f"/><line x1="188.3" y1="269.0" x2="309.3" y2="269.0" stroke="#f4cbe8"/><line x1="188.3" y1="433.9" x2="309.3" y2="433.2" stroke="#f5c9e4"/><line x1="67.3" y1="297.2" x2="188.3" y2="100.5" stroke="#16225a"/><line x1="188.3" y1="262.6" x2="309.3" y2="283.8" stroke="#dd9754"/><line x1="67.3" y1="209.8" x2="188.3" y2="171.7" stroke="#6f7d3b"/><line x1="67.3" y1="273.9" x2="188.3" y2="288.0" stroke="#f9a588"/><line x1="188.3" y1="195.7" x2="309.3" y2="153.4" stroke="#567548"/><line x1="67.3" y1="159.0" x2="188.3" y2="104.7" stroke="#1e5b61"/><line x1="67.3" y1="357.8" x2="188.3" y2="339.5" stroke="#eb9c68"/><line x1="67.3" y1="111.8" x2="188.3" y2="75.1" stroke="#797f38"/><line x1="188.3" y1="123.0" x2="309.3" y2="140.7" stroke="#ee9e6d"/><line x1="67.3" y1="457.9" x2="188.3" y2="459.3" stroke="#f6c7e0"/><line x1="188.3" y1="37.0" x2="309.3" y2="37.0" stroke="#f4cbe8"/><line x1="188.3" y1="454.4" x2="309.3" y2="457.2" stroke="#f7c4d8"/><line x1="188.3" y1="259.1" x2="309.3" y2="207.6" stroke="#2a625d"/><line x1="67.3" y1="481.2" x2="188.3" y2="402.9" stroke="#16225a"/><line x1="67.3" y1="487.5" x2="188.3" y2="453.7" stroke="#8c8531"/><line x1="67.3" y1="431.1" x2="188.3" y2="323.3" stroke="#16225a"/><line x1="188.3" y1="175.2" x2="309.3" y2="130.8" stroke="#4b724e"/><line x1="188.3" y1="143.5" x2="309.3" y2="148.4" stroke="#fabecc"/><line x1="188.3" y1="453.0" x2="309.3" y2="445.2" stroke="#fdb7bc"/><line x1="67.3" y1="345.8" x2="188.3" y2="255.6" stroke="#16225a"/><line x1="188.3" y1="290.1" x2="309.3" y2="222.4" stroke="#142c5c"/><line x1="67.3" y1="484.0" x2="188.3" y2="427.6" stroke="#1a5562"/><line x1="67.3" y1="70.2" x2="188.3" y2="49.0" stroke="#dd9754"/><line x1="188.3" y1="176.6" x2="309.3" y2="190.0" stroke="#f9a78e"/><line x1="67.3" y1="252.1" x2="188.3" y2="263.3" stroke="#fbad9f"/><line x1="188.3" y1="115.3" x2="309.3" y2="99.8" stroke="#f8a17c"/><line x1="188.3" y1="369.8" x2="309.3" y2="336.0" stroke="#8c8531"/><line x1="67.3" y1="388.8" x2="188.3" y2="324.0" stroke="#12375e"/><line x1="188.3" y1="274.6" x2="309.3" y2="250.6" stroke="#cf9242"/><line x1="188.3" y1="474.8" x2="309.3" y2="475.5" stroke="#f5c9e4"/><line x1="67.3" y1="338.1" x2="188.3" y2="458.6" stroke="#16225a"/><line x1="67.3" y1="240.8" x2="188.3" y2="203.4" stroke="#747e3a"/><line x1="67.3" y1="353.6" x2="188.3" y2="436.8" stroke="#16225a"/><line x1="188.3" y1="56.8" x2="309.3" y2="56.1" stroke="#f5c9e4"/><line x1="67.3" y1="342.3" x2="188.3" y2="424.1" stroke="#16225a"/><line x1="67.3" y1="116.0" x2="188.3" y2="63.8" stroke="#27605e"/><line x1="67.3" y1="252.8" x2="188.3" y2="359.2" stroke="#16225a"/><line x1="188.3" y1="213.3" x2="309.3" y2="231.6" stroke="#eb9c68"/><line x1="188.3" y1="94.1" x2="309.3" y2="131.5" stroke="#747e3a"/><line x1="188.3" y1="199.9" x2="309.3" y2="187.9" stroke="#faab9a"/><line x1="188.3" y1="479.1" x2="309.3" y2="480.5" stroke="#f6c7e0"/><line x1="188.3" y1="299.3" x2="309.3" y2="303.5" stroke="#f9c0d0"/><line x1="67.3" y1="214.0" x2="188.3" y2="223.2" stroke="#fcb3b1"/><line x1="67.3" y1="488.2" x2="188.3" y2="451.6" stroke="#797f38"/><line x1="67.3" y1="453.7" x2="188.3" y2="417.0" stroke="#797f38"/><line x1="67.3" y1="305.6" x2="188.3" y2="484.0" stroke="#16225a"/><line x1="67.3" y1="450.2" x2="188.3" y2="431.8" stroke="#eb9c68"/><line x1="67.3" y1="41.3" x2="188.3" y2="247.1" stroke="#16225a"/><line x1="67.3" y1="479.1" x2="188.3" y2="452.3" stroke="#bc8f39"/><line x1="67.3" y1="140.7" x2="188.3" y2="64.5" stroke="#16225a"/><line x1="188.3" y1="151.2" x2="309.3" y2="248.5" stroke="#16225a"/><line x1="67.3" y1="56.1" x2="188.3" y2="70.9" stroke="#f9a382"/><line x1="67.3" y1="267.6" x2="188.3" y2="412.8" stroke="#16225a"/><line x1="188.3" y1="159.0" x2="309.3" y2="152.7" stroke="#fbbbc4"/><line x1="67.3" y1="450.9" x2="188.3" y2="386.0" stroke="#12375e"/><line x1="67.3" y1="247.1" x2="188.3" y2="402.2" stroke="#16225a"/><line x1="67.3" y1="159.7" x2="188.3" y2="111.1" stroke="#356959"/><line x1="188.3" y1="260.5" x2="309.3" y2="450.9" stroke="#16225a"/><line x1="67.3" y1="434.7" x2="188.3" y2="398.7" stroke="#7e8136"/><line x1="188.3" y1="39.1" x2="309.3" y2="34.9" stroke="#f9c0d0"/><line x1="188.3" y1="301.4" x2="309.3" y2="312.7" stroke="#fbad9f"/><line x1="67.3" y1="346.5" x2="188.3" y2="349.4" stroke="#f7c4d8"/><line x1="188.3" y1="211.9" x2="309.3" y2="223.2" stroke="#fbad9f"/><line x1="188.3" y1="439.6" x2="309.3" y2="429.0" stroke="#fbafa5"/><line x1="67.3" y1="160.4" x2="188.3" y2="101.9" stroke="#164d61"/><line x1="67.3" y1="213.3" x2="188.3" y2="391.6" stroke="#16225a"/><line x1="67.3" y1="108.2" x2="188.3" y2="68.1" stroke="#627941"/><line x1="67.3" y1="358.5" x2="188.3" y2="376.8" stroke="#eb9c68"/><line x1="188.3" y1="113.2" x2="309.3" y2="133.6" stroke="#e19859"/><line x1="67.3" y1="95.5" x2="188.3" y2="57.5" stroke="#6f7d3b"/><line x1="67.3" y1="173.1" x2="188.3" y2="279.6" stroke="#16225a"/><line x1="67.3" y1="60.3" x2="188.3" y2="40.6" stroke="#e49a5e"/><line x1="67.3" y1="40.6" x2="188.3" y2="93.4" stroke="#245f5f"/><line x1="67.3" y1="343.7" x2="188.3" y2="486.1" stroke="#16225a"/><line x1="188.3" y1="300.7" x2="309.3" y2="324.0" stroke="#d39345"/><line x1="188.3" y1="427.6" x2="309.3" y2="436.8" stroke="#fcb3b1"/><line x1="188.3" y1="228.1" x2="309.3" y2="254.9" stroke="#bc8f39"/><line x1="188.3" y1="147.7" x2="309.3" y2="117.4" stroke="#a48a2e"/><line x1="188.3" y1="397.3" x2="309.3" y2="388.1" stroke="#fcb3b1"/><line x1="188.3" y1="380.4" x2="309.3" y2="357.8" stroke="#d7954a"/><line x1="188.3" y1="388.8" x2="309.3" y2="378.3" stroke="#fbafa5"/><line x1="67.3" y1="196.4" x2="188.3" y2="287.3" stroke="#16225a"/><line x1="188.3" y1="97.0" x2="309.3" y2="88.5" stroke="#fdb5b7"/><line x1="188.3" y1="147.0" x2="309.3" y2="345.1" stroke="#16225a"/><line x1="188.3" y1="169.6" x2="309.3" y2="175.9" stroke="#fbbbc4"/><line x1="188.3" y1="106.8" x2="309.3" y2="116.0" stroke="#fcb3b1"/><line x1="67.3" y1="123.0" x2="188.3" y2="132.9" stroke="#fcb1ab"/><line x1="188.3" y1="352.9" x2="309.3" y2="324.7" stroke="#b28d35"/><line x1="67.3" y1="110.4" x2="188.3" y2="75.8" stroke="#878333"/><line x1="188.3" y1="194.2" x2="309.3" y2="154.1" stroke="#627941"/><line x1="67.3" y1="304.9" x2="188.3" y2="257.0" stroke="#386b57"/><line x1="188.3" y1="236.5" x2="309.3" y2="226.0" stroke="#fbafa5"/><line x1="188.3" y1="245.0" x2="309.3" y2="208.3" stroke="#797f38"/><line x1="67.3" y1="482.6" x2="188.3" y2="405.0" stroke="#16225a"/><line x1="188.3" y1="473.4" x2="309.3" y2="460.7" stroke="#faa994"/><line x1="188.3" y1="462.1" x2="309.3" y2="454.4" stroke="#fdb7bc"/><line x1="188.3" y1="142.8" x2="309.3" y2="128.7" stroke="#f9a588"/><line x1="188.3" y1="414.9" x2="309.3" y2="401.5" stroke="#f9a78e"/><line x1="188.3" y1="378.3" x2="309.3" y2="368.4" stroke="#fcb1ab"/><line x1="67.3" y1="198.5" x2="188.3" y2="162.5" stroke="#7e8136"/><line x1="188.3" y1="464.3" x2="309.3" y2="470.6" stroke="#fbbbc4"/><line x1="67.3" y1="330.3" x2="188.3" y2="488.2" stroke="#16225a"/><line x1="67.3" y1="100.5" x2="188.3" y2="82.9" stroke="#ee9e6d"/><line x1="67.3" y1="144.9" x2="188.3" y2="98.4" stroke="#3f6e55"/><line x1="67.3" y1="474.1" x2="188.3" y2="445.2" stroke="#ad8c32"/><line x1="188.3" y1="267.6" x2="309.3" y2="287.3" stroke="#e49a5e"/><line x1="188.3" y1="424.8" x2="309.3" y2="400.1" stroke="#ca923f"/><line x1="67.3" y1="379.0" x2="188.3" y2="281.0" stroke="#16225a"/><line x1="67.3" y1="445.2" x2="188.3" y2="312.0" stroke="#16225a"/><line x1="188.3" y1="233.0" x2="309.3" y2="197.1" stroke="#7e8136"/><line x1="188.3" y1="142.1" x2="309.3" y2="125.2" stroke="#f29f72"/><line x1="67.3" y1="230.2" x2="188.3" y2="118.8" stroke="#16225a"/><line x1="67.3" y1="421.3" x2="188.3" y2="227.4" stroke="#16225a"/><line x1="67.3" y1="416.3" x2="188.3" y2="321.2" stroke="#16225a"/><line x1="188.3" y1="204.1" x2="309.3" y2="214.7" stroke="#fbafa5"/><line x1="188.3" y1="104.0" x2="309.3" y2="343.0" stroke="#16225a"/><line x1="188.3" y1="417.0" x2="309.3" y2="393.1" stroke="#cf9242"/><line x1="67.3" y1="381.1" x2="188.3" y2="362.0" stroke="#e89b63"/><line x1="188.3" y1="304.2" x2="309.3" y2="260.5" stroke="#4e734c"/><line x1="67.3" y1="426.9" x2="188.3" y2="224.6" stroke="#16225a"/><line x1="67.3" y1="94.8" x2="188.3" y2="87.1" stroke="#fdb7bc"/><line x1="67.3" y1="362.7" x2="188.3" y2="461.4" stroke="#16225a"/><line x1="67.3" y1="465.0" x2="188.3" y2="450.2" stroke="#f9a382"/><line x1="67.3" y1="419.9" x2="188.3" y2="230.2" stroke="#16225a"/><line x1="67.3" y1="393.1" x2="188.3" y2="292.9" stroke="#16225a"/><line x1="67.3" y1="407.9" x2="188.3" y2="283.8" stroke="#16225a"/><line x1="188.3" y1="121.6" x2="309.3" y2="144.2" stroke="#d7954a"/><line x1="67.3" y1="236.5" x2="188.3" y2="309.9" stroke="#16225a"/><line x1="67.3" y1="326.1" x2="188.3" y2="487.5" stroke="#16225a"/><line x1="67.3" y1="436.8" x2="188.3" y2="321.9" stroke="#16225a"/><line x1="67.3" y1="338.8" x2="188.3" y2="348.6" stroke="#fcb1ab"/><line x1="67.3" y1="371.2" x2="188.3" y2="238.0" stroke="#16225a"/><line x1="188.3" y1="243.6" x2="309.3" y2="434.7" stroke="#16225a"/><line x1="188.3" y1="392.4" x2="309.3" y2="429.7" stroke="#747e3a"/><line x1="188.3" y1="297.9" x2="309.3" y2="252.1" stroke="#436f52"/><line x1="67.3" y1="166.8" x2="188.3" y2="372.6" stroke="#16225a"/><line x1="67.3" y1="246.4" x2="188.3" y2="297.2" stroke="#2d645c"/><line x1="67.3" y1="473.4" x2="188.3" y2="443.1" stroke="#a48a2e"/><line x1="67.3" y1="199.2" x2="188.3" y2="212.6" stroke="#f9a78e"/><line x1="67.3" y1="277.4" x2="188.3" y2="136.4" stroke="#16225a"/><line x1="67.3" y1="126.6" x2="188.3" y2="292.2" stroke="#16225a"/><line x1="67.3" y1="411.4" x2="188.3" y2="387.4" stroke="#cf9242"/><line x1="188.3" y1="155.5" x2="309.3" y2="137.8" stroke="#ee9e6d"/><line x1="188.3" y1="252.1" x2="309.3" y2="183.0" stroke="#15275b"/><line x1="67.3" y1="92.0" x2="188.3" y2="55.4" stroke="#797f38"/><line x1="67.3" y1="75.1" x2="188.3" y2="364.2" stroke="#16225a"/><line x1="67.3" y1="355.0" x2="188.3" y2="109.7" stroke="#16225a"/><line x1="188.3" y1="225.3" x2="309.3" y2="187.2" stroke="#6f7d3b"/><line x1="67.3" y1="87.1" x2="188.3" y2="116.7" stroke="#a98b30"/><line x1="67.3" y1="441.0" x2="188.3" y2="414.9" stroke="#c1903b"/><line x1="188.3" y1="389.5" x2="309.3" y2="359.2" stroke="#a48a2e"/><line x1="188.3" y1="309.9" x2="309.3" y2="285.2" stroke="#ca923f"/><line x1="188.3" y1="227.4" x2="309.3" y2="243.6" stroke="#f5a077"/><line x1="188.3" y1="221.0" x2="309.3" y2="172.4" stroke="#356959"/><line x1="67.3" y1="387.4" x2="188.3" y2="297.9" stroke="#16225a"/><line x1="67.3" y1="45.5" x2="188.3" y2="168.9" stroke="#16225a"/><line x1="67.3" y1="199.9" x2="188.3" y2="65.2" stroke="#16225a"/><line x1="188.3" y1="340.2" x2="309.3" y2="323.3" stroke="#f29f72"/><line x1="67.3" y1="484.7" x2="188.3" y2="428.3" stroke="#1a5562"/><line x1="67.3" y1="420.6" x2="188.3" y2="326.8" stroke="#16225a"/><line x1="188.3" y1="360.6" x2="309.3" y2="382.5" stroke="#da964f"/><line x1="67.3" y1="316.9" x2="188.3" y2="293.7" stroke="#d39345"/><line x1="188.3" y1="340.9" x2="309.3" y2="278.1" stroke="#103f60"/><line x1="67.3" y1="443.8" x2="188.3" y2="410.0" stroke="#8c8531"/><line x1="67.3" y1="135.7" x2="188.3" y2="99.8" stroke="#7e8136"/><line x1="67.3" y1="80.0" x2="188.3" y2="125.9" stroke="#436f52"/><line x1="67.3" y1="390.2" x2="188.3" y2="352.9" stroke="#747e3a"/><line x1="188.3" y1="416.3" x2="309.3" y2="391.6" stroke="#ca923f"/><line x1="67.3" y1="325.4" x2="188.3" y2="433.9" stroke="#16225a"/><line x1="67.3" y1="448.1" x2="188.3" y2="422.7" stroke="#c5913d"/><line x1="188.3" y1="431.1" x2="309.3" y2="412.8" stroke="#eb9c68"/><line x1="67.3" y1="148.4" x2="188.3" y2="336.7" stroke="#16225a"/><line x1="67.3" y1="285.2" x2="188.3" y2="38.4" stroke="#16225a"/><line x1="67.3" y1="344.4" x2="188.3" y2="303.5" stroke="#5e7843"/><line x1="67.3" y1="168.9" x2="188.3" y2="237.3" stroke="#142a5c"/><line x1="67.3" y1="149.1" x2="188.3" y2="80.0" stroke="#15275b"/><line x1="67.3" y1="125.2" x2="188.3" y2="200.6" stroke="#16225a"/><line x1="188.3" y1="151.9" x2="309.3" y2="404.3" stroke="#16225a"/><line x1="67.3" y1="470.6" x2="188.3" y2="450.9" stroke="#e49a5e"/><line x1="67.3" y1="261.9" x2="188.3" y2="302.1" stroke="#627941"/><line x1="67.3" y1="377.6" x2="188.3" y2="209.8" stroke="#16225a"/><line x1="67.3" y1="388.1" x2="188.3" y2="233.7" stroke="#16225a"/><line x1="67.3" y1="391.6" x2="188.3" y2="302.8" stroke="#16225a"/><line x1="67.3" y1="301.4" x2="188.3" y2="472.7" stroke="#16225a"/><line x1="188.3" y1="325.4" x2="309.3" y2="274.6" stroke="#2d645c"/><line x1="67.3" y1="222.4" x2="188.3" y2="272.5" stroke="#30665b"/><line x1="67.3" y1="265.5" x2="188.3" y2="414.2" stroke="#16225a"/><line x1="67.3" y1="435.4" x2="188.3" y2="206.2" stroke="#16225a"/><line x1="67.3" y1="394.5" x2="188.3" y2="45.5" stroke="#16225a"/><line x1="67.3" y1="455.1" x2="188.3" y2="386.7" stroke="#142a5c"/><line x1="67.3" y1="264.0" x2="188.3" y2="419.9" stroke="#16225a"/><line x1="67.3" y1="88.5" x2="188.3" y2="242.2" stroke="#16225a"/><line x1="67.3" y1="201.3" x2="188.3" y2="161.8" stroke="#667a3f"/><line x1="67.3" y1="308.5" x2="188.3" y2="275.3" stroke="#91862f"/><line x1="188.3" y1="326.8" x2="309.3" y2="300.7" stroke="#c1903b"/><line x1="67.3" y1="460.7" x2="188.3" y2="413.5" stroke="#3b6c56"/><line x1="188.3" y1="130.1" x2="309.3" y2="169.6" stroke="#667a3f"/><line x1="188.3" y1="324.7" x2="309.3" y2="441.0" stroke="#16225a"/><line x1="67.3" y1="389.5" x2="188.3" y2="304.2" stroke="#16225a"/><line x1="67.3" y1="193.5" x2="188.3" y2="291.5" stroke="#16225a"/><line x1="188.3" y1="69.5" x2="309.3" y2="330.3" stroke="#16225a"/><line x1="67.3" y1="275.3" x2="188.3" y2="172.4" stroke="#16225a"/><line x1="188.3" y1="73.7" x2="309.3" y2="177.3" stroke="#16225a"/><line x1="188.3" y1="257.7" x2="309.3" y2="210.5" stroke="#3b6c56"/><line x1="188.3" y1="296.5" x2="309.3" y2="249.2" stroke="#3b6c56"/><line x1="188.3" y1="188.6" x2="309.3" y2="145.6" stroke="#52744a"/><line x1="188.3" y1="134.3" x2="309.3" y2="242.9" stroke="#16225a"/><line x1="67.3" y1="155.5" x2="188.3" y2="104.0" stroke="#2a625d"/><line x1="67.3" y1="331.7" x2="188.3" y2="380.4" stroke="#356959"/><line x1="67.3" y1="415.6" x2="188.3" y2="354.3" stroke="#124460"/><line x1="188.3" y1="355.0" x2="309.3" y2="304.2" stroke="#2d645c"/><line x1="67.3" y1="77.2" x2="188.3" y2="134.3" stroke="#195261"/><line x1="67.3" y1="167.5" x2="188.3" y2="102.6" stroke="#12375e"/><line x1="67.3" y1="279.6" x2="188.3" y2="217.5" stroke="#114160"/><line x1="67.3" y1="51.1" x2="188.3" y2="342.3" stroke="#16225a"/><line x1="67.3" y1="231.6" x2="188.3" y2="174.5" stroke="#195261"/><line x1="67.3" y1="322.6" x2="188.3" y2="399.4" stroke="#16225a"/><line x1="67.3" y1="286.6" x2="188.3" y2="156.9" stroke="#16225a"/><line x1="67.3" y1="378.3" x2="188.3" y2="158.3" stroke="#16225a"/><line x1="67.3" y1="386.0" x2="188.3" y2="457.2" stroke="#16225a"/><line x1="188.3" y1="336.0" x2="309.3" y2="294.4" stroke="#5a7745"/><line x1="67.3" y1="371.9" x2="188.3" y2="486.8" stroke="#16225a"/><line x1="188.3" y1="223.2" x2="309.3" y2="175.2" stroke="#386b57"/><line x1="67.3" y1="250.6" x2="188.3" y2="182.3" stroke="#142a5c"/><line x1="188.3" y1="333.1" x2="309.3" y2="281.0" stroke="#27605e"/><line x1="67.3" y1="364.9" x2="188.3" y2="298.6" stroke="#13325d"/><line x1="67.3" y1="442.4" x2="188.3" y2="411.4" stroke="#9f892c"/><line x1="188.3" y1="136.4" x2="309.3" y2="319.0" stroke="#16225a"/><line x1="67.3" y1="85.7" x2="188.3" y2="130.1" stroke="#4b724e"/><line x1="67.3" y1="274.6" x2="188.3" y2="433.2" stroke="#16225a"/><line x1="67.3" y1="304.2" x2="188.3" y2="245.7" stroke="#164d61"/><line x1="67.3" y1="282.4" x2="188.3" y2="193.5" stroke="#16225a"/><line x1="67.3" y1="410.7" x2="188.3" y2="371.2" stroke="#667a3f"/><line x1="188.3" y1="359.2" x2="309.3" y2="309.9" stroke="#32675a"/><line x1="67.3" y1="176.6" x2="188.3" y2="128.0" stroke="#356959"/><line x1="67.3" y1="202.0" x2="188.3" y2="151.9" stroke="#30665b"/><line x1="67.3" y1="374.0" x2="188.3" y2="472.0" stroke="#16225a"/><line x1="67.3" y1="465.7" x2="188.3" y2="420.6" stroke="#477050"/><line x1="67.3" y1="294.4" x2="188.3" y2="333.8" stroke="#667a3f"/><line x1="67.3" y1="97.0" x2="188.3" y2="56.1" stroke="#5e7843"/><line x1="67.3" y1="66.6" x2="188.3" y2="204.1" stroke="#16225a"/><line x1="67.3" y1="476.2" x2="188.3" y2="425.5" stroke="#2d645c"/><line x1="67.3" y1="478.4" x2="188.3" y2="404.3" stroke="#16225a"/><line x1="67.3" y1="42.0" x2="188.3" y2="111.8" stroke="#15255b"/><line x1="188.3" y1="273.2" x2="309.3" y2="233.0" stroke="#627941"/><line x1="188.3" y1="328.9" x2="309.3" y2="290.1" stroke="#6b7c3d"/><line x1="67.3" y1="238.0" x2="188.3" y2="127.3" stroke="#16225a"/><line x1="188.3" y1="179.4" x2="309.3" y2="256.3" stroke="#16225a"/><line x1="67.3" y1="367.0" x2="188.3" y2="317.6" stroke="#32675a"/><line x1="67.3" y1="257.0" x2="188.3" y2="432.5" stroke="#16225a"/><line x1="67.3" y1="475.5" x2="188.3" y2="394.5" stroke="#16225a"/><line x1="67.3" y1="413.5" x2="188.3" y2="318.3" stroke="#16225a"/><line x1="188.3" y1="138.6" x2="309.3" y2="99.1" stroke="#667a3f"/><line x1="67.3" y1="462.1" x2="188.3" y2="410.7" stroke="#2a625d"/><line x1="67.3" y1="57.5" x2="188.3" y2="244.3" stroke="#16225a"/><line x1="67.3" y1="195.0" x2="188.3" y2="374.7" stroke="#16225a"/><line x1="67.3" y1="400.8" x2="188.3" y2="315.5" stroke="#16225a"/><line x1="67.3" y1="259.8" x2="188.3" y2="430.4" stroke="#16225a"/><line x1="188.3" y1="304.9" x2="309.3" y2="242.2" stroke="#103f60"/><line x1="67.3" y1="224.6" x2="188.3" y2="176.6" stroke="#386b57"/><line x1="67.3" y1="315.5" x2="188.3" y2="373.3" stroke="#175061"/><line x1="67.3" y1="77.9" x2="188.3" y2="245.0" stroke="#16225a"/><line x1="67.3" y1="318.3" x2="188.3" y2="465.0" stroke="#16225a"/><line x1="67.3" y1="480.5" x2="188.3" y2="429.7" stroke="#2d645c"/><line x1="67.3" y1="54.0" x2="188.3" y2="168.2" stroke="#16225a"/><line x1="67.3" y1="228.1" x2="188.3" y2="135.7" stroke="#16225a"/><line x1="67.3" y1="419.1" x2="188.3" y2="202.7" stroke="#16225a"/><line x1="67.3" y1="137.8" x2="188.3" y2="233.0" stroke="#16225a"/><line x1="67.3" y1="187.9" x2="188.3" y2="340.9" stroke="#16225a"/><line x1="67.3" y1="375.4" x2="188.3" y2="126.6" stroke="#16225a"/><line x1="67.3" y1="178.0" x2="188.3" y2="48.3" stroke="#16225a"/><line x1="67.3" y1="383.9" x2="188.3" y2="280.3" stroke="#16225a"/><line x1="67.3" y1="278.1" x2="188.3" y2="351.5" stroke="#16225a"/><line x1="67.3" y1="35.6" x2="188.3" y2="140.0" stroke="#16225a"/><line x1="188.3" y1="234.4" x2="309.3" y2="346.5" stroke="#16225a"/><line x1="188.3" y1="87.8" x2="309.3" y2="315.5" stroke="#16225a"/><line x1="67.3" y1="248.5" x2="188.3" y2="330.3" stroke="#16225a"/><line x1="67.3" y1="84.3" x2="188.3" y2="163.2" stroke="#16225a"/><line x1="67.3" y1="271.1" x2="188.3" y2="463.6" stroke="#16225a"/><line x1="67.3" y1="433.2" x2="188.3" y2="347.9" stroke="#16225a"/><line x1="67.3" y1="365.6" x2="188.3" y2="308.5" stroke="#195261"/><line x1="67.3" y1="343.0" x2="188.3" y2="481.2" stroke="#16225a"/><line x1="188.3" y1="277.4" x2="309.3" y2="211.9" stroke="#12345e"/><line x1="67.3" y1="269.7" x2="188.3" y2="416.3" stroke="#16225a"/><line x1="67.3" y1="288.7" x2="188.3" y2="115.3" stroke="#16225a"/><line x1="188.3" y1="334.5" x2="309.3" y2="453.7" stroke="#16225a"/><line x1="67.3" y1="302.8" x2="188.3" y2="477.0" stroke="#16225a"/><line x1="67.3" y1="345.1" x2="188.3" y2="456.5" stroke="#16225a"/><line x1="67.3" y1="314.1" x2="188.3" y2="199.2" stroke="#16225a"/><line x1="67.3" y1="352.2" x2="188.3" y2="449.5" stroke="#16225a"/><line x1="188.3" y1="361.3" x2="309.3" y2="299.3" stroke="#114160"/><line x1="67.3" y1="417.7" x2="188.3" y2="290.1" stroke="#16225a"/><line x1="188.3" y1="85.0" x2="309.3" y2="362.7" stroke="#16225a"/><line x1="67.3" y1="219.6" x2="188.3" y2="89.9" stroke="#16225a"/><line x1="67.3" y1="266.9" x2="188.3" y2="398.0" stroke="#16225a"/><line x1="67.3" y1="292.9" x2="188.3" y2="208.3" stroke="#16225a"/><line x1="67.3" y1="168.2" x2="188.3" y2="289.4" stroke="#16225a"/><line x1="67.3" y1="363.4" x2="188.3" y2="437.5" stroke="#16225a"/><line x1="67.3" y1="144.2" x2="188.3" y2="74.4" stroke="#15255b"/><line x1="67.3" y1="334.5" x2="188.3" y2="166.8" stroke="#16225a"/><line x1="67.3" y1="44.1" x2="188.3" y2="259.8" stroke="#16225a"/><line x1="67.3" y1="287.3" x2="188.3" y2="417.7" stroke="#16225a"/><line x1="67.3" y1="249.9" x2="188.3" y2="338.8" stroke="#16225a"/><line x1="67.3" y1="376.1" x2="188.3" y2="189.3" stroke="#16225a"/><line x1="67.3" y1="283.1" x2="188.3" y2="345.8" stroke="#103f60"/><line x1="67.3" y1="295.1" x2="188.3" y2="444.5" stroke="#16225a"/><line x1="67.3" y1="232.3" x2="188.3" y2="435.4" stroke="#16225a"/><line x1="67.3" y1="319.7" x2="188.3" y2="159.0" stroke="#16225a"/><line x1="67.3" y1="429.7" x2="188.3" y2="276.0" stroke="#16225a"/><line x1="67.3" y1="220.3" x2="188.3" y2="61.7" stroke="#16225a"/><line x1="67.3" y1="314.8" x2="188.3" y2="222.4" stroke="#16225a"/><line x1="67.3" y1="430.4" x2="188.3" y2="273.9" stroke="#16225a"/><line x1="67.3" y1="440.3" x2="188.3" y2="370.5" stroke="#15255b"/><line x1="67.3" y1="321.9" x2="188.3" y2="474.8" stroke="#16225a"/><line x1="67.3" y1="347.9" x2="188.3" y2="123.8" stroke="#16225a"/><line x1="188.3" y1="241.5" x2="309.3" y2="392.4" stroke="#16225a"/><line x1="67.3" y1="446.6" x2="188.3" y2="319.7" stroke="#16225a"/><line x1="67.3" y1="347.2" x2="188.3" y2="448.1" stroke="#16225a"/><line x1="67.3" y1="398.0" x2="188.3" y2="264.0" stroke="#16225a"/><line x1="67.3" y1="424.1" x2="188.3" y2="219.6" stroke="#16225a"/></g></g>
<rect x="55.5" y="18.3" width="265.1" height="483.7" fill="none" stroke="#333" stroke-width="0.9"/>
<line x1="52.0" y1="32.10" x2="55.5" y2="32.10" stroke="#333" stroke-width="0.9"/>
<text x="50.0" y="37.90" text-anchor="end" style="font-family:'DejaVu Serif','Liberation Serif',serif;font-size:14px;letter-spacing:0.5px">1</text>
<line x1="52.0" y1="101.90" x2="55.5" y2="101.90" stroke="#333" stroke-width="0.9"/>
<text x="50.0" y="107.70" text-anchor="end" style="font-family:'DejaVu Serif','Liberation Serif',serif;font-size:14px;letter-spacing:0.5px">100</text>
<line x1="52.0" y1="172.39" x2="55.5" y2="172.39" stroke="#333" stroke-width="0.9"/>
<text x="50.0" y="178.19" text-anchor="end" style="font-family:'DejaVu Serif','Liberation Serif',serif;font-size:14px;letter-spacing:0.5px">200</text>
<line x1="52.0" y1="242.89" x2="55.5" y2="242.89" stroke="#333" stroke-width="0.9"/>
<text x="50.0" y="248.69" text-anchor="end" style="font-family:'DejaVu Serif','Liberation Serif',serif;font-size:14px;letter-spacing:0.5px">300</text>
<line x1="52.0" y1="313.39" x2="55.5" y2="313.39" stroke="#333" stroke-width="0.9"/>
<text x="50.0" y="319.19" text-anchor="end" style="font-family:'DejaVu Serif','Liberation Serif',serif;font-size:14px;letter-spacing:0.5px">400</text>
<line x1="52.0" y1="383.89" x2="55.5" y2="383.89" stroke="#333" stroke-width="0.9"/>
<text x="50.0" y="389.69" text-anchor="end" style="font-family:'DejaVu Serif','Liberation Serif',serif;font-size:14px;letter-spacing:0.5px">500</text>
<line x1="52.0" y1="454.39" x2="55.5" y2="454.39" stroke="#333" stroke-width="0.9"/>
<text x="50.0" y="460.19" text-anchor="end" style="font-family:'DejaVu Serif','Liberation Serif',serif;font-size:14px;letter-spacing:0.5px">600</text>
<line x1="67.3" y1="502.0" x2="67.3" y2="505.5" stroke="#333" stroke-width="0.9"/>
<text x="67.55" y="518.9" text-anchor="middle" style="font-family:'DejaVu Serif','Liberation Serif',serif;font-size:14px;letter-spacing:0.5px">NGCC</text>
<text x="67.55" y="536.1" text-anchor="middle" style="font-family:'DejaVu Serif','Liberation Serif',serif;font-size:14px;letter-spacing:0.5px">(TVSA 0.2)</text>
<line x1="188.3" y1="502.0" x2="188.3" y2="505.5" stroke="#333" stroke-width="0.9"/>
<text x="188.55" y="518.9" text-anchor="middle" style="font-family:'DejaVu Serif','Liberation Serif',serif;font-size:14px;letter-spacing:0.5px">coal</text>
<text x="188.55" y="536.1" text-anchor="middle" style="font-family:'DejaVu Serif','Liberation Serif',serif;font-size:14px;letter-spacing:0.5px">(TVSA 0.6)</text>
<line x1="309.3" y1="502.0" x2="309.3" y2="505.5" stroke="#333" stroke-width="0.9"/>
<text x="308.7" y="518.9" text-anchor="middle" style="font-family:'DejaVu Serif','Liberation Serif',serif;font-size:14px;letter-spacing:0.5px">cement</text>
<text x="309.55" y="536.1" text-anchor="middle" style="font-family:'DejaVu Serif','Liberation Serif',serif;font-size:14px;letter-spacing:0.5px">(TSA)</text>
<text x="188.2" y="13.8" text-anchor="middle" style="font-family:'DejaVu Serif','Liberation Serif',serif;font-size:17.8px">nCAC rank change</text>
<text transform="translate(10.8,260.1) rotate(-90)" text-anchor="middle" style="font-family:'DejaVu Serif','Liberation Serif',serif;font-size:14px;letter-spacing:0.5px">Rank</text>
<defs><linearGradient id="cb1" x1="0" y1="0" x2="0" y2="1"><stop offset="0.000" stop-color="#16225a"/><stop offset="0.050" stop-color="#132f5d"/><stop offset="0.100" stop-color="#113c5f"/><stop offset="0.150" stop-color="#144861"/><stop offset="0.200" stop-color="#1a5562"/><stop offset="0.250" stop-color="#245f5f"/><stop offset="0.300" stop-color="#32675a"/><stop offset="0.350" stop-color="#436f52"/><stop offset="0.400" stop-color="#567548"/><stop offset="0.450" stop-color="#6b7c3d"/><stop offset="0.500" stop-color="#828234"/><stop offset="0.550" stop-color="#9a882c"/><stop offset="0.600" stop-color="#b28d35"/><stop offset="0.650" stop-color="#ca923f"/><stop offset="0.700" stop-color="#dd9754"/><stop offset="0.750" stop-color="#ee9e6d"/><stop offset="0.800" stop-color="#f9a588"/><stop offset="0.850" stop-color="#fbafa5"/><stop offset="0.900" stop-color="#fcb9c0"/><stop offset="0.950" stop-color="#f8c2d4"/><stop offset="1.000" stop-color="#f4cbe8"/></linearGradient></defs>
<rect x="337.3" y="18.3" width="24.5" height="483.7" fill="url(#cb1)" stroke="#333" stroke-width="0.9"/>
<line x1="361.8" y1="502.00" x2="364.6" y2="502.00" stroke="#333" stroke-width="0.9"/>
<text x="367.40000000000003" y="507.50" style="font-family:'DejaVu Serif','Liberation Serif',serif;font-size:14px;letter-spacing:0.5px">0</text>
<line x1="361.8" y1="405.26" x2="364.6" y2="405.26" stroke="#333" stroke-width="0.9"/>
<text x="367.40000000000003" y="410.76" style="font-family:'DejaVu Serif','Liberation Serif',serif;font-size:14px;letter-spacing:0.5px">20</text>
<line x1="361.8" y1="308.52" x2="364.6" y2="308.52" stroke="#333" stroke-width="0.9"/>
<text x="367.40000000000003" y="314.02" style="font-family:'DejaVu Serif','Liberation Serif',serif;font-size:14px;letter-spacing:0.5px">40</text>
<line x1="361.8" y1="211.78" x2="364.6" y2="211.78" stroke="#333" stroke-width="0.9"/>
<text x="367.40000000000003" y="217.28" style="font-family:'DejaVu Serif','Liberation Serif',serif;font-size:14px;letter-spacing:0.5px">60</text>
<line x1="361.8" y1="115.04" x2="364.6" y2="115.04" stroke="#333" stroke-width="0.9"/>
<text x="367.40000000000003" y="120.54" style="font-family:'DejaVu Serif','Liberation Serif',serif;font-size:14px;letter-spacing:0.5px">80</text>
<line x1="361.8" y1="18.30" x2="364.6" y2="18.30" stroke="#333" stroke-width="0.9"/>
<text x="367.40000000000003" y="23.80" style="font-family:'DejaVu Serif','Liberation Serif',serif;font-size:14px;letter-spacing:0.5px">100</text>
<text transform="translate(410.7,260.4) rotate(-90)" text-anchor="middle" style="font-family:'DejaVu Serif','Liberation Serif',serif;font-size:14px;letter-spacing:0.46px">Absolute rank change between the rankings</text>
<text x="203.7" y="589.9" text-anchor="middle" style="font-family:'DejaVu Sans','Liberation Sans',sans-serif;font-size:17.6px">(a)</text>
<text x="564.5" y="589.9" text-anchor="middle" style="font-family:'DejaVu Sans','Liberation Sans',sans-serif;font-size:17.6px">(b)</text>
<circle cx="580.0" cy="84.7" r="2.4" fill="#a48a2e" stroke="#3a3a3a" stroke-width="0.35"/>
<circle cx="556.0" cy="86.2" r="2.4" fill="#27605e" stroke="#3a3a3a" stroke-width="0.35"/>
<circle cx="568.0" cy="86.2" r="2.4" fill="#142a5c" stroke="#3a3a3a" stroke-width="0.35"/>
<circle cx="559.0" cy="87.7" r="2.4" fill="#134661" stroke="#3a3a3a" stroke-width="0.35"/>
<circle cx="563.5" cy="87.7" r="2.4" fill="#27605e" stroke="#3a3a3a" stroke-width="0.35"/>
<circle cx="571.0" cy="87.7" r="2.4" fill="#134661" stroke="#3a3a3a" stroke-width="0.35"/>
<circle cx="563.5" cy="90.7" r="2.4" fill="#27605e" stroke="#3a3a3a" stroke-width="0.35"/>
<circle cx="590.5" cy="90.7" r="2.4" fill="#a48a2e" stroke="#3a3a3a" stroke-width="0.35"/>
<circle cx="545.5" cy="92.2" r="2.4" fill="#134661" stroke="#3a3a3a" stroke-width="0.35"/>
<circle cx="577.0" cy="92.2" r="2.4" fill="#27605e" stroke="#3a3a3a" stroke-width="0.35"/>
<circle cx="580.0" cy="92.2" r="2.4" fill="#52744a" stroke="#3a3a3a" stroke-width="0.35"/>
<circle cx="544.0" cy="95.2" r="2.4" fill="#134661" stroke="#3a3a3a" stroke-width="0.35"/>
<circle cx="544.0" cy="99.7" r="2.4" fill="#142a5c" stroke="#3a3a3a" stroke-width="0.35"/>
<circle cx="586.0" cy="99.7" r="2.4" fill="#a48a2e" stroke="#3a3a3a" stroke-width="0.35"/>
<circle cx="571.0" cy="101.2" r="2.4" fill="#f9a588" stroke="#3a3a3a" stroke-width="0.35"/>
<circle cx="554.5" cy="107.2" r="2.4" fill="#52744a" stroke="#3a3a3a" stroke-width="0.35"/>
<circle cx="524.5" cy="110.2" r="2.4" fill="#a48a2e" stroke="#3a3a3a" stroke-width="0.35"/>
<circle cx="538.0" cy="110.2" r="2.4" fill="#27605e" stroke="#3a3a3a" stroke-width="0.35"/>
<circle cx="541.0" cy="110.2" r="2.4" fill="#a48a2e" stroke="#3a3a3a" stroke-width="0.35"/>
<circle cx="553.0" cy="110.2" r="2.4" fill="#a48a2e" stroke="#3a3a3a" stroke-width="0.35"/>
<circle cx="556.0" cy="110.2" r="2.4" fill="#dd9754" stroke="#3a3a3a" stroke-width="0.35"/>
<circle cx="575.5" cy="111.7" r="2.4" fill="#fcb1ab" stroke="#3a3a3a" stroke-width="0.35"/>
<circle cx="554.5" cy="113.2" r="2.4" fill="#52744a" stroke="#3a3a3a" stroke-width="0.35"/>
<circle cx="565.0" cy="114.7" r="2.4" fill="#dd9754" stroke="#3a3a3a" stroke-width="0.35"/>
<circle cx="524.5" cy="117.7" r="2.4" fill="#27605e" stroke="#3a3a3a" stroke-width="0.35"/>
<circle cx="532.0" cy="117.7" r="2.4" fill="#dd9754" stroke="#3a3a3a" stroke-width="0.35"/>
<circle cx="515.5" cy="120.7" r="2.4" fill="#7e8136" stroke="#3a3a3a" stroke-width="0.35"/>
<circle cx="524.5" cy="120.7" r="2.4" fill="#dd9754" stroke="#3a3a3a" stroke-width="0.35"/>
<circle cx="560.5" cy="120.7" r="2.4" fill="#f7c4d8" stroke="#3a3a3a" stroke-width="0.35"/>
<circle cx="529.0" cy="122.2" r="2.4" fill="#dd9754" stroke="#3a3a3a" stroke-width="0.35"/>
<circle cx="562.0" cy="126.7" r="2.4" fill="#fcb1ab" stroke="#3a3a3a" stroke-width="0.35"/>
<circle cx="529.0" cy="129.7" r="2.4" fill="#134661" stroke="#3a3a3a" stroke-width="0.35"/>
<circle cx="563.5" cy="129.7" r="2.4" fill="#a48a2e" stroke="#3a3a3a" stroke-width="0.35"/>
<circle cx="548.5" cy="131.2" r="2.4" fill="#a48a2e" stroke="#3a3a3a" stroke-width="0.35"/>
<circle cx="553.0" cy="134.2" r="2.4" fill="#a48a2e" stroke="#3a3a3a" stroke-width="0.35"/>
<circle cx="556.0" cy="134.2" r="2.4" fill="#f7c4d8" stroke="#3a3a3a" stroke-width="0.35"/>
<circle cx="554.5" cy="141.7" r="2.4" fill="#f7c4d8" stroke="#3a3a3a" stroke-width="0.35"/>
<circle cx="544.2" cy="88.9" r="2.4" fill="#134661" stroke="#3a3a3a" stroke-width="0.35"/>
<circle cx="541.6" cy="92.9" r="2.4" fill="#134661" stroke="#3a3a3a" stroke-width="0.35"/>
<circle cx="547.9" cy="88.1" r="2.4" fill="#134661" stroke="#3a3a3a" stroke-width="0.35"/>
<circle cx="552.1" cy="88.9" r="2.4" fill="#134661" stroke="#3a3a3a" stroke-width="0.35"/>
<circle cx="549.5" cy="91.6" r="2.4" fill="#134661" stroke="#3a3a3a" stroke-width="0.35"/>
<circle cx="555.8" cy="90.9" r="2.4" fill="#134661" stroke="#3a3a3a" stroke-width="0.35"/>
<circle cx="531.2" cy="96.6" r="2.4" fill="#134661" stroke="#3a3a3a" stroke-width="0.35"/>
<circle cx="529.6" cy="100.4" r="2.4" fill="#134661" stroke="#3a3a3a" stroke-width="0.35"/>
<circle cx="534.1" cy="97.7" r="2.4" fill="#142a5c" stroke="#3a3a3a" stroke-width="0.35"/>
<circle cx="538.0" cy="96.0" r="2.4" fill="#134661" stroke="#3a3a3a" stroke-width="0.35"/>
<circle cx="537.6" cy="100.0" r="2.4" fill="#142a5c" stroke="#3a3a3a" stroke-width="0.35"/>
<circle cx="532.5" cy="101.4" r="2.4" fill="#52744a" stroke="#3a3a3a" stroke-width="0.35"/>
<circle cx="536.9" cy="101.6" r="2.4" fill="#142a5c" stroke="#3a3a3a" stroke-width="0.35"/>
<circle cx="540.6" cy="97.9" r="2.4" fill="#134661" stroke="#3a3a3a" stroke-width="0.35"/>
<circle cx="548.0" cy="96.0" r="2.4" fill="#27605e" stroke="#3a3a3a" stroke-width="0.35"/>
<circle cx="549.4" cy="96.3" r="2.4" fill="#142a5c" stroke="#3a3a3a" stroke-width="0.35"/>
<circle cx="552.4" cy="97.2" r="2.4" fill="#142a5c" stroke="#3a3a3a" stroke-width="0.35"/>
<circle cx="554.6" cy="94.0" r="2.4" fill="#134661" stroke="#3a3a3a" stroke-width="0.35"/>
<circle cx="542.0" cy="102.8" r="2.4" fill="#27605e" stroke="#3a3a3a" stroke-width="0.35"/>
<circle cx="539.7" cy="102.1" r="2.4" fill="#142a5c" stroke="#3a3a3a" stroke-width="0.35"/>
<circle cx="547.5" cy="100.0" r="2.4" fill="#dd9754" stroke="#3a3a3a" stroke-width="0.35"/>
<circle cx="550.5" cy="100.9" r="2.4" fill="#dd9754" stroke="#3a3a3a" stroke-width="0.35"/>
<circle cx="551.0" cy="102.3" r="2.4" fill="#27605e" stroke="#3a3a3a" stroke-width="0.35"/>
<circle cx="545.9" cy="103.7" r="2.4" fill="#dd9754" stroke="#3a3a3a" stroke-width="0.35"/>
<circle cx="546.8" cy="104.6" r="2.4" fill="#dd9754" stroke="#3a3a3a" stroke-width="0.35"/>
<circle cx="548.5" cy="104.2" r="2.4" fill="#a48a2e" stroke="#3a3a3a" stroke-width="0.35"/>
<circle cx="550.1" cy="102.5" r="2.4" fill="#dd9754" stroke="#3a3a3a" stroke-width="0.35"/>
<circle cx="552.4" cy="101.2" r="2.4" fill="#52744a" stroke="#3a3a3a" stroke-width="0.35"/>
<circle cx="554.9" cy="99.1" r="2.4" fill="#52744a" stroke="#3a3a3a" stroke-width="0.35"/>
<circle cx="554.9" cy="101.6" r="2.4" fill="#142a5c" stroke="#3a3a3a" stroke-width="0.35"/>
<circle cx="556.3" cy="102.8" r="2.4" fill="#27605e" stroke="#3a3a3a" stroke-width="0.35"/>
<circle cx="555.3" cy="100.4" r="2.4" fill="#27605e" stroke="#3a3a3a" stroke-width="0.35"/>
<circle cx="555.3" cy="103.0" r="2.4" fill="#27605e" stroke="#3a3a3a" stroke-width="0.35"/>
<circle cx="528.3" cy="104.6" r="2.4" fill="#27605e" stroke="#3a3a3a" stroke-width="0.35"/>
<circle cx="534.8" cy="105.3" r="2.4" fill="#52744a" stroke="#3a3a3a" stroke-width="0.35"/>
<circle cx="532.9" cy="107.2" r="2.4" fill="#52744a" stroke="#3a3a3a" stroke-width="0.35"/>
<circle cx="527.4" cy="108.8" r="2.4" fill="#a48a2e" stroke="#3a3a3a" stroke-width="0.35"/>
<circle cx="539.0" cy="106.0" r="2.4" fill="#7e8136" stroke="#3a3a3a" stroke-width="0.35"/>
<circle cx="535.2" cy="107.4" r="2.4" fill="#52744a" stroke="#3a3a3a" stroke-width="0.35"/>
<circle cx="542.2" cy="105.8" r="2.4" fill="#52744a" stroke="#3a3a3a" stroke-width="0.35"/>
<circle cx="543.1" cy="106.7" r="2.4" fill="#52744a" stroke="#3a3a3a" stroke-width="0.35"/>
<circle cx="539.9" cy="105.1" r="2.4" fill="#52744a" stroke="#3a3a3a" stroke-width="0.35"/>
<circle cx="546.1" cy="105.5" r="2.4" fill="#27605e" stroke="#3a3a3a" stroke-width="0.35"/>
<circle cx="541.3" cy="104.4" r="2.4" fill="#27605e" stroke="#3a3a3a" stroke-width="0.35"/>
<circle cx="547.1" cy="106.5" r="2.4" fill="#a48a2e" stroke="#3a3a3a" stroke-width="0.35"/>
<circle cx="548.2" cy="107.4" r="2.4" fill="#a48a2e" stroke="#3a3a3a" stroke-width="0.35"/>
<circle cx="547.3" cy="108.6" r="2.4" fill="#142a5c" stroke="#3a3a3a" stroke-width="0.35"/>
<circle cx="545.0" cy="109.5" r="2.4" fill="#142a5c" stroke="#3a3a3a" stroke-width="0.35"/>
<circle cx="550.3" cy="104.4" r="2.4" fill="#a48a2e" stroke="#3a3a3a" stroke-width="0.35"/>
<circle cx="548.9" cy="108.1" r="2.4" fill="#a48a2e" stroke="#3a3a3a" stroke-width="0.35"/>
<circle cx="551.5" cy="105.3" r="2.4" fill="#a48a2e" stroke="#3a3a3a" stroke-width="0.35"/>
<circle cx="530.8" cy="110.4" r="2.4" fill="#a48a2e" stroke="#3a3a3a" stroke-width="0.35"/>
<circle cx="533.4" cy="111.8" r="2.4" fill="#52744a" stroke="#3a3a3a" stroke-width="0.35"/>
<circle cx="528.5" cy="113.4" r="2.4" fill="#a48a2e" stroke="#3a3a3a" stroke-width="0.35"/>
<circle cx="530.8" cy="113.0" r="2.4" fill="#142a5c" stroke="#3a3a3a" stroke-width="0.35"/>
<circle cx="529.0" cy="117.2" r="2.4" fill="#dd9754" stroke="#3a3a3a" stroke-width="0.35"/>
<circle cx="531.1" cy="114.8" r="2.4" fill="#dd9754" stroke="#3a3a3a" stroke-width="0.35"/>
<circle cx="534.3" cy="113.0" r="2.4" fill="#142a5c" stroke="#3a3a3a" stroke-width="0.35"/>
<circle cx="536.2" cy="115.1" r="2.4" fill="#142a5c" stroke="#3a3a3a" stroke-width="0.35"/>
<circle cx="537.1" cy="113.7" r="2.4" fill="#27605e" stroke="#3a3a3a" stroke-width="0.35"/>
<circle cx="554.4" cy="103.2" r="2.4" fill="#52744a" stroke="#3a3a3a" stroke-width="0.35"/>
<circle cx="546.8" cy="111.1" r="2.4" fill="#a48a2e" stroke="#3a3a3a" stroke-width="0.35"/>
<circle cx="549.2" cy="112.8" r="2.4" fill="#a48a2e" stroke="#3a3a3a" stroke-width="0.35"/>
<circle cx="542.7" cy="113.0" r="2.4" fill="#a48a2e" stroke="#3a3a3a" stroke-width="0.35"/>
<circle cx="544.3" cy="113.9" r="2.4" fill="#fcb1ab" stroke="#3a3a3a" stroke-width="0.35"/>
<circle cx="546.8" cy="113.7" r="2.4" fill="#a48a2e" stroke="#3a3a3a" stroke-width="0.35"/>
<circle cx="542.4" cy="114.8" r="2.4" fill="#52744a" stroke="#3a3a3a" stroke-width="0.35"/>
<circle cx="540.8" cy="116.7" r="2.4" fill="#a48a2e" stroke="#3a3a3a" stroke-width="0.35"/>
<circle cx="541.5" cy="115.8" r="2.4" fill="#fcb1ab" stroke="#3a3a3a" stroke-width="0.35"/>
<circle cx="539.9" cy="117.6" r="2.4" fill="#7e8136" stroke="#3a3a3a" stroke-width="0.35"/>
<circle cx="546.6" cy="115.5" r="2.4" fill="#fcb1ab" stroke="#3a3a3a" stroke-width="0.35"/>
<circle cx="542.4" cy="117.6" r="2.4" fill="#fcb1ab" stroke="#3a3a3a" stroke-width="0.35"/>
<circle cx="544.8" cy="117.4" r="2.4" fill="#fcb1ab" stroke="#3a3a3a" stroke-width="0.35"/>
<circle cx="551.0" cy="115.5" r="2.4" fill="#fcb1ab" stroke="#3a3a3a" stroke-width="0.35"/>
<circle cx="547.3" cy="117.2" r="2.4" fill="#fcb1ab" stroke="#3a3a3a" stroke-width="0.35"/>
<circle cx="549.2" cy="117.2" r="2.4" fill="#f7c4d8" stroke="#3a3a3a" stroke-width="0.35"/>
<circle cx="551.0" cy="117.4" r="2.4" fill="#52744a" stroke="#3a3a3a" stroke-width="0.35"/>
<circle cx="553.8" cy="117.6" r="2.4" fill="#a48a2e" stroke="#3a3a3a" stroke-width="0.35"/>
<circle cx="554.9" cy="116.2" r="2.4" fill="#52744a" stroke="#3a3a3a" stroke-width="0.35"/>
<circle cx="520.4" cy="121.8" r="2.4" fill="#7e8136" stroke="#3a3a3a" stroke-width="0.35"/>
<circle cx="533.6" cy="123.2" r="2.4" fill="#27605e" stroke="#3a3a3a" stroke-width="0.35"/>
<circle cx="532.7" cy="127.1" r="2.4" fill="#a48a2e" stroke="#3a3a3a" stroke-width="0.35"/>
<circle cx="537.3" cy="122.5" r="2.4" fill="#f7c4d8" stroke="#3a3a3a" stroke-width="0.35"/>
<circle cx="541.3" cy="123.0" r="2.4" fill="#f7c4d8" stroke="#3a3a3a" stroke-width="0.35"/>
<circle cx="540.1" cy="121.3" r="2.4" fill="#f7c4d8" stroke="#3a3a3a" stroke-width="0.35"/>
<circle cx="540.8" cy="125.0" r="2.4" fill="#f7c4d8" stroke="#3a3a3a" stroke-width="0.35"/>
<circle cx="539.2" cy="125.5" r="2.4" fill="#7e8136" stroke="#3a3a3a" stroke-width="0.35"/>
<circle cx="542.0" cy="121.1" r="2.4" fill="#f7c4d8" stroke="#3a3a3a" stroke-width="0.35"/>
<circle cx="544.3" cy="120.9" r="2.4" fill="#f7c4d8" stroke="#3a3a3a" stroke-width="0.35"/>
<circle cx="544.8" cy="123.9" r="2.4" fill="#f7c4d8" stroke="#3a3a3a" stroke-width="0.35"/>
<circle cx="542.7" cy="124.8" r="2.4" fill="#f7c4d8" stroke="#3a3a3a" stroke-width="0.35"/>
<circle cx="543.1" cy="119.2" r="2.4" fill="#f7c4d8" stroke="#3a3a3a" stroke-width="0.35"/>
<circle cx="547.3" cy="119.0" r="2.4" fill="#f7c4d8" stroke="#3a3a3a" stroke-width="0.35"/>
<circle cx="550.5" cy="120.6" r="2.4" fill="#dd9754" stroke="#3a3a3a" stroke-width="0.35"/>
<circle cx="551.9" cy="119.2" r="2.4" fill="#a48a2e" stroke="#3a3a3a" stroke-width="0.35"/>
<circle cx="553.3" cy="120.9" r="2.4" fill="#a48a2e" stroke="#3a3a3a" stroke-width="0.35"/>
<circle cx="551.0" cy="124.6" r="2.4" fill="#dd9754" stroke="#3a3a3a" stroke-width="0.35"/>
<circle cx="552.9" cy="125.0" r="2.4" fill="#52744a" stroke="#3a3a3a" stroke-width="0.35"/>
<circle cx="554.9" cy="122.3" r="2.4" fill="#dd9754" stroke="#3a3a3a" stroke-width="0.35"/>
<circle cx="553.9" cy="123.4" r="2.4" fill="#f7c4d8" stroke="#3a3a3a" stroke-width="0.35"/>
<circle cx="555.8" cy="118.1" r="2.4" fill="#a48a2e" stroke="#3a3a3a" stroke-width="0.35"/>
<circle cx="556.3" cy="120.9" r="2.4" fill="#a48a2e" stroke="#3a3a3a" stroke-width="0.35"/>
<circle cx="555.3" cy="122.0" r="2.4" fill="#f7c4d8" stroke="#3a3a3a" stroke-width="0.35"/>
<circle cx="544.3" cy="126.0" r="2.4" fill="#27605e" stroke="#3a3a3a" stroke-width="0.35"/>
<circle cx="545.4" cy="126.9" r="2.4" fill="#a48a2e" stroke="#3a3a3a" stroke-width="0.35"/>
<circle cx="548.2" cy="126.0" r="2.4" fill="#a48a2e" stroke="#3a3a3a" stroke-width="0.35"/>
<circle cx="540.6" cy="127.4" r="2.4" fill="#27605e" stroke="#3a3a3a" stroke-width="0.35"/>
<circle cx="542.0" cy="129.2" r="2.4" fill="#27605e" stroke="#3a3a3a" stroke-width="0.35"/>
<circle cx="535.0" cy="129.7" r="2.4" fill="#7e8136" stroke="#3a3a3a" stroke-width="0.35"/>
<circle cx="536.2" cy="128.8" r="2.4" fill="#a48a2e" stroke="#3a3a3a" stroke-width="0.35"/>
<circle cx="534.3" cy="131.5" r="2.4" fill="#a48a2e" stroke="#3a3a3a" stroke-width="0.35"/>
<circle cx="535.7" cy="131.1" r="2.4" fill="#a48a2e" stroke="#3a3a3a" stroke-width="0.35"/>
<circle cx="535.9" cy="131.5" r="2.4" fill="#7e8136" stroke="#3a3a3a" stroke-width="0.35"/>
<circle cx="537.3" cy="131.1" r="2.4" fill="#a48a2e" stroke="#3a3a3a" stroke-width="0.35"/>
<circle cx="539.2" cy="130.6" r="2.4" fill="#a48a2e" stroke="#3a3a3a" stroke-width="0.35"/>
<circle cx="541.7" cy="128.3" r="2.4" fill="#7e8136" stroke="#3a3a3a" stroke-width="0.35"/>
<circle cx="538.5" cy="130.1" r="2.4" fill="#7e8136" stroke="#3a3a3a" stroke-width="0.35"/>
<circle cx="540.3" cy="129.7" r="2.4" fill="#7e8136" stroke="#3a3a3a" stroke-width="0.35"/>
<circle cx="547.3" cy="127.8" r="2.4" fill="#dd9754" stroke="#3a3a3a" stroke-width="0.35"/>
<circle cx="543.1" cy="130.1" r="2.4" fill="#a48a2e" stroke="#3a3a3a" stroke-width="0.35"/>
<circle cx="545.0" cy="130.6" r="2.4" fill="#a48a2e" stroke="#3a3a3a" stroke-width="0.35"/>
<circle cx="551.9" cy="127.4" r="2.4" fill="#dd9754" stroke="#3a3a3a" stroke-width="0.35"/>
<circle cx="551.5" cy="128.8" r="2.4" fill="#a48a2e" stroke="#3a3a3a" stroke-width="0.35"/>
<circle cx="554.9" cy="126.2" r="2.4" fill="#f7c4d8" stroke="#3a3a3a" stroke-width="0.35"/>
<circle cx="556.3" cy="127.8" r="2.4" fill="#52744a" stroke="#3a3a3a" stroke-width="0.35"/>
<circle cx="554.9" cy="129.2" r="2.4" fill="#f9a588" stroke="#3a3a3a" stroke-width="0.35"/>
<circle cx="537.1" cy="135.2" r="2.4" fill="#dd9754" stroke="#3a3a3a" stroke-width="0.35"/>
<circle cx="539.9" cy="132.0" r="2.4" fill="#a48a2e" stroke="#3a3a3a" stroke-width="0.35"/>
<circle cx="536.6" cy="134.3" r="2.4" fill="#a48a2e" stroke="#3a3a3a" stroke-width="0.35"/>
<circle cx="538.5" cy="134.8" r="2.4" fill="#a48a2e" stroke="#3a3a3a" stroke-width="0.35"/>
<circle cx="543.6" cy="132.0" r="2.4" fill="#a48a2e" stroke="#3a3a3a" stroke-width="0.35"/>
<circle cx="546.4" cy="134.3" r="2.4" fill="#a48a2e" stroke="#3a3a3a" stroke-width="0.35"/>
<circle cx="537.1" cy="136.6" r="2.4" fill="#dd9754" stroke="#3a3a3a" stroke-width="0.35"/>
<circle cx="539.9" cy="138.5" r="2.4" fill="#f9a588" stroke="#3a3a3a" stroke-width="0.35"/>
<circle cx="544.5" cy="137.1" r="2.4" fill="#fcb1ab" stroke="#3a3a3a" stroke-width="0.35"/>
<circle cx="544.1" cy="138.5" r="2.4" fill="#f9a588" stroke="#3a3a3a" stroke-width="0.35"/>
<circle cx="543.6" cy="139.4" r="2.4" fill="#f9a588" stroke="#3a3a3a" stroke-width="0.35"/>
<circle cx="549.6" cy="137.6" r="2.4" fill="#fcb1ab" stroke="#3a3a3a" stroke-width="0.35"/>
<circle cx="548.2" cy="137.6" r="2.4" fill="#fcb1ab" stroke="#3a3a3a" stroke-width="0.35"/>
<circle cx="550.8" cy="139.2" r="2.4" fill="#f7c4d8" stroke="#3a3a3a" stroke-width="0.35"/>
<circle cx="548.2" cy="137.8" r="2.4" fill="#fcb1ab" stroke="#3a3a3a" stroke-width="0.35"/>
<circle cx="549.2" cy="139.0" r="2.4" fill="#f7c4d8" stroke="#3a3a3a" stroke-width="0.35"/>
<circle cx="554.6" cy="138.0" r="2.4" fill="#f7c4d8" stroke="#3a3a3a" stroke-width="0.35"/>
<circle cx="550.3" cy="140.3" r="2.4" fill="#f7c4d8" stroke="#3a3a3a" stroke-width="0.35"/>
<circle cx="548.9" cy="140.3" r="2.4" fill="#f9a588" stroke="#3a3a3a" stroke-width="0.35"/>
<circle cx="554.4" cy="130.6" r="2.4" fill="#f9a588" stroke="#3a3a3a" stroke-width="0.35"/>
<circle cx="590.7" cy="64.7" r="2.4" fill="#52744a" stroke="#3a3a3a" stroke-width="0.35"/>
<circle cx="583.8" cy="81.0" r="2.4" fill="#52744a" stroke="#3a3a3a" stroke-width="0.35"/>
<circle cx="583.8" cy="83.3" r="2.4" fill="#a48a2e" stroke="#3a3a3a" stroke-width="0.35"/>
<circle cx="585.6" cy="83.3" r="2.4" fill="#52744a" stroke="#3a3a3a" stroke-width="0.35"/>
<circle cx="569.1" cy="90.5" r="2.4" fill="#52744a" stroke="#3a3a3a" stroke-width="0.35"/>
<circle cx="566.8" cy="92.6" r="2.4" fill="#52744a" stroke="#3a3a3a" stroke-width="0.35"/>
<circle cx="572.2" cy="91.4" r="2.4" fill="#134661" stroke="#3a3a3a" stroke-width="0.35"/>
<circle cx="571.2" cy="93.3" r="2.4" fill="#134661" stroke="#3a3a3a" stroke-width="0.35"/>
<circle cx="556.6" cy="91.6" r="2.4" fill="#134661" stroke="#3a3a3a" stroke-width="0.35"/>
<circle cx="559.4" cy="93.0" r="2.4" fill="#27605e" stroke="#3a3a3a" stroke-width="0.35"/>
<circle cx="557.1" cy="95.8" r="2.4" fill="#134661" stroke="#3a3a3a" stroke-width="0.35"/>
<circle cx="563.8" cy="94.0" r="2.4" fill="#27605e" stroke="#3a3a3a" stroke-width="0.35"/>
<circle cx="561.0" cy="95.8" r="2.4" fill="#27605e" stroke="#3a3a3a" stroke-width="0.35"/>
<circle cx="568.9" cy="95.3" r="2.4" fill="#7e8136" stroke="#3a3a3a" stroke-width="0.35"/>
<circle cx="567.1" cy="96.7" r="2.4" fill="#27605e" stroke="#3a3a3a" stroke-width="0.35"/>
<circle cx="572.6" cy="94.0" r="2.4" fill="#7e8136" stroke="#3a3a3a" stroke-width="0.35"/>
<circle cx="574.9" cy="94.4" r="2.4" fill="#27605e" stroke="#3a3a3a" stroke-width="0.35"/>
<circle cx="574.0" cy="96.3" r="2.4" fill="#a48a2e" stroke="#3a3a3a" stroke-width="0.35"/>
<circle cx="573.5" cy="98.1" r="2.4" fill="#dd9754" stroke="#3a3a3a" stroke-width="0.35"/>
<circle cx="569.8" cy="97.2" r="2.4" fill="#7e8136" stroke="#3a3a3a" stroke-width="0.35"/>
<circle cx="586.1" cy="87.9" r="2.4" fill="#a48a2e" stroke="#3a3a3a" stroke-width="0.35"/>
<circle cx="590.2" cy="87.0" r="2.4" fill="#dd9754" stroke="#3a3a3a" stroke-width="0.35"/>
<circle cx="587.5" cy="88.4" r="2.4" fill="#a48a2e" stroke="#3a3a3a" stroke-width="0.35"/>
<circle cx="585.1" cy="91.2" r="2.4" fill="#dd9754" stroke="#3a3a3a" stroke-width="0.35"/>
<circle cx="586.1" cy="93.0" r="2.4" fill="#a48a2e" stroke="#3a3a3a" stroke-width="0.35"/>
<circle cx="584.7" cy="94.0" r="2.4" fill="#dd9754" stroke="#3a3a3a" stroke-width="0.35"/>
<circle cx="583.3" cy="94.9" r="2.4" fill="#dd9754" stroke="#3a3a3a" stroke-width="0.35"/>
<circle cx="587.5" cy="92.1" r="2.4" fill="#a48a2e" stroke="#3a3a3a" stroke-width="0.35"/>
<circle cx="586.1" cy="93.0" r="2.4" fill="#a48a2e" stroke="#3a3a3a" stroke-width="0.35"/>
<circle cx="587.0" cy="94.9" r="2.4" fill="#a48a2e" stroke="#3a3a3a" stroke-width="0.35"/>
<circle cx="584.2" cy="96.7" r="2.4" fill="#a48a2e" stroke="#3a3a3a" stroke-width="0.35"/>
<circle cx="581.0" cy="97.7" r="2.4" fill="#a48a2e" stroke="#3a3a3a" stroke-width="0.35"/>
<circle cx="581.4" cy="99.5" r="2.4" fill="#a48a2e" stroke="#3a3a3a" stroke-width="0.35"/>
<circle cx="577.3" cy="99.1" r="2.4" fill="#dd9754" stroke="#3a3a3a" stroke-width="0.35"/>
<circle cx="579.6" cy="99.5" r="2.4" fill="#a48a2e" stroke="#3a3a3a" stroke-width="0.35"/>
<circle cx="578.2" cy="99.5" r="2.4" fill="#a48a2e" stroke="#3a3a3a" stroke-width="0.35"/>
<circle cx="575.9" cy="98.6" r="2.4" fill="#a48a2e" stroke="#3a3a3a" stroke-width="0.35"/>
<circle cx="578.2" cy="99.1" r="2.4" fill="#a48a2e" stroke="#3a3a3a" stroke-width="0.35"/>
<circle cx="576.8" cy="99.1" r="2.4" fill="#a48a2e" stroke="#3a3a3a" stroke-width="0.35"/>
<circle cx="577.7" cy="100.9" r="2.4" fill="#dd9754" stroke="#3a3a3a" stroke-width="0.35"/>
<circle cx="574.5" cy="101.8" r="2.4" fill="#f9a588" stroke="#3a3a3a" stroke-width="0.35"/>
<circle cx="581.0" cy="102.8" r="2.4" fill="#f7c4d8" stroke="#3a3a3a" stroke-width="0.35"/>
<circle cx="579.6" cy="102.8" r="2.4" fill="#a48a2e" stroke="#3a3a3a" stroke-width="0.35"/>
<circle cx="574.5" cy="105.1" r="2.4" fill="#f9a588" stroke="#3a3a3a" stroke-width="0.35"/>
<circle cx="571.2" cy="105.1" r="2.4" fill="#dd9754" stroke="#3a3a3a" stroke-width="0.35"/>
<circle cx="573.1" cy="105.8" r="2.4" fill="#f9a588" stroke="#3a3a3a" stroke-width="0.35"/>
<circle cx="574.0" cy="106.0" r="2.4" fill="#fcb1ab" stroke="#3a3a3a" stroke-width="0.35"/>
<circle cx="575.4" cy="102.3" r="2.4" fill="#a48a2e" stroke="#3a3a3a" stroke-width="0.35"/>
<circle cx="574.0" cy="107.6" r="2.4" fill="#fcb1ab" stroke="#3a3a3a" stroke-width="0.35"/>
<circle cx="573.5" cy="106.3" r="2.4" fill="#dd9754" stroke="#3a3a3a" stroke-width="0.35"/>
<circle cx="576.3" cy="104.2" r="2.4" fill="#f9a588" stroke="#3a3a3a" stroke-width="0.35"/>
<circle cx="563.3" cy="103.5" r="2.4" fill="#27605e" stroke="#3a3a3a" stroke-width="0.35"/>
<circle cx="561.5" cy="102.5" r="2.4" fill="#142a5c" stroke="#3a3a3a" stroke-width="0.35"/>
<circle cx="562.4" cy="100.2" r="2.4" fill="#27605e" stroke="#3a3a3a" stroke-width="0.35"/>
<circle cx="566.1" cy="100.2" r="2.4" fill="#142a5c" stroke="#3a3a3a" stroke-width="0.35"/>
<circle cx="564.3" cy="104.4" r="2.4" fill="#142a5c" stroke="#3a3a3a" stroke-width="0.35"/>
<circle cx="560.6" cy="104.2" r="2.4" fill="#134661" stroke="#3a3a3a" stroke-width="0.35"/>
<circle cx="564.3" cy="104.2" r="2.4" fill="#27605e" stroke="#3a3a3a" stroke-width="0.35"/>
<circle cx="560.6" cy="106.9" r="2.4" fill="#27605e" stroke="#3a3a3a" stroke-width="0.35"/>
<circle cx="559.6" cy="104.4" r="2.4" fill="#52744a" stroke="#3a3a3a" stroke-width="0.35"/>
<circle cx="563.1" cy="107.9" r="2.4" fill="#27605e" stroke="#3a3a3a" stroke-width="0.35"/>
<circle cx="557.8" cy="100.9" r="2.4" fill="#52744a" stroke="#3a3a3a" stroke-width="0.35"/>
<circle cx="559.6" cy="100.9" r="2.4" fill="#134661" stroke="#3a3a3a" stroke-width="0.35"/>
<circle cx="558.7" cy="106.0" r="2.4" fill="#dd9754" stroke="#3a3a3a" stroke-width="0.35"/>
<circle cx="560.6" cy="103.0" r="2.4" fill="#134661" stroke="#3a3a3a" stroke-width="0.35"/>
<circle cx="558.7" cy="98.6" r="2.4" fill="#52744a" stroke="#3a3a3a" stroke-width="0.35"/>
<circle cx="556.9" cy="101.2" r="2.4" fill="#52744a" stroke="#3a3a3a" stroke-width="0.35"/>
<circle cx="561.5" cy="100.7" r="2.4" fill="#27605e" stroke="#3a3a3a" stroke-width="0.35"/>
<circle cx="567.1" cy="100.9" r="2.4" fill="#7e8136" stroke="#3a3a3a" stroke-width="0.35"/>
<circle cx="565.2" cy="105.1" r="2.4" fill="#dd9754" stroke="#3a3a3a" stroke-width="0.35"/>
<circle cx="567.5" cy="105.1" r="2.4" fill="#dd9754" stroke="#3a3a3a" stroke-width="0.35"/>
<circle cx="564.3" cy="103.0" r="2.4" fill="#dd9754" stroke="#3a3a3a" stroke-width="0.35"/>
<circle cx="566.6" cy="106.9" r="2.4" fill="#dd9754" stroke="#3a3a3a" stroke-width="0.35"/>
<circle cx="561.5" cy="107.9" r="2.4" fill="#f9a588" stroke="#3a3a3a" stroke-width="0.35"/>
<circle cx="563.3" cy="104.9" r="2.4" fill="#27605e" stroke="#3a3a3a" stroke-width="0.35"/>
<circle cx="564.0" cy="108.8" r="2.4" fill="#dd9754" stroke="#3a3a3a" stroke-width="0.35"/>
<circle cx="570.8" cy="107.6" r="2.4" fill="#dd9754" stroke="#3a3a3a" stroke-width="0.35"/>
<circle cx="571.7" cy="107.9" r="2.4" fill="#dd9754" stroke="#3a3a3a" stroke-width="0.35"/>
<circle cx="570.3" cy="106.3" r="2.4" fill="#dd9754" stroke="#3a3a3a" stroke-width="0.35"/>
<circle cx="557.8" cy="106.3" r="2.4" fill="#52744a" stroke="#3a3a3a" stroke-width="0.35"/>
<circle cx="561.3" cy="109.7" r="2.4" fill="#dd9754" stroke="#3a3a3a" stroke-width="0.35"/>
<circle cx="559.6" cy="111.6" r="2.4" fill="#dd9754" stroke="#3a3a3a" stroke-width="0.35"/>
<circle cx="573.1" cy="107.2" r="2.4" fill="#fcb1ab" stroke="#3a3a3a" stroke-width="0.35"/>
<circle cx="559.6" cy="103.2" r="2.4" fill="#52744a" stroke="#3a3a3a" stroke-width="0.35"/>
<circle cx="562.2" cy="112.5" r="2.4" fill="#f9a588" stroke="#3a3a3a" stroke-width="0.35"/>
<circle cx="565.9" cy="111.8" r="2.4" fill="#dd9754" stroke="#3a3a3a" stroke-width="0.35"/>
<circle cx="561.5" cy="115.8" r="2.4" fill="#f9a588" stroke="#3a3a3a" stroke-width="0.35"/>
<circle cx="558.7" cy="115.5" r="2.4" fill="#dd9754" stroke="#3a3a3a" stroke-width="0.35"/>
<circle cx="569.6" cy="113.7" r="2.4" fill="#f7c4d8" stroke="#3a3a3a" stroke-width="0.35"/>
<circle cx="569.8" cy="115.3" r="2.4" fill="#f9a588" stroke="#3a3a3a" stroke-width="0.35"/>
<circle cx="568.4" cy="115.1" r="2.4" fill="#f9a588" stroke="#3a3a3a" stroke-width="0.35"/>
<circle cx="573.8" cy="114.6" r="2.4" fill="#f7c4d8" stroke="#3a3a3a" stroke-width="0.35"/>
<circle cx="571.5" cy="116.0" r="2.4" fill="#f7c4d8" stroke="#3a3a3a" stroke-width="0.35"/>
<circle cx="570.1" cy="115.8" r="2.4" fill="#f7c4d8" stroke="#3a3a3a" stroke-width="0.35"/>
<circle cx="574.0" cy="116.2" r="2.4" fill="#52744a" stroke="#3a3a3a" stroke-width="0.35"/>
<circle cx="566.6" cy="118.3" r="2.4" fill="#f7c4d8" stroke="#3a3a3a" stroke-width="0.35"/>
<circle cx="568.0" cy="119.7" r="2.4" fill="#f7c4d8" stroke="#3a3a3a" stroke-width="0.35"/>
<circle cx="565.7" cy="120.9" r="2.4" fill="#7e8136" stroke="#3a3a3a" stroke-width="0.35"/>
<circle cx="564.3" cy="121.8" r="2.4" fill="#7e8136" stroke="#3a3a3a" stroke-width="0.35"/>
<circle cx="559.6" cy="116.9" r="2.4" fill="#f7c4d8" stroke="#3a3a3a" stroke-width="0.35"/>
<circle cx="557.3" cy="119.5" r="2.4" fill="#dd9754" stroke="#3a3a3a" stroke-width="0.35"/>
<circle cx="558.2" cy="125.0" r="2.4" fill="#f7c4d8" stroke="#3a3a3a" stroke-width="0.35"/>
<circle cx="557.3" cy="126.2" r="2.4" fill="#a48a2e" stroke="#3a3a3a" stroke-width="0.35"/>
<circle cx="565.7" cy="123.2" r="2.4" fill="#7e8136" stroke="#3a3a3a" stroke-width="0.35"/>
<circle cx="566.1" cy="124.3" r="2.4" fill="#7e8136" stroke="#3a3a3a" stroke-width="0.35"/>
<circle cx="557.3" cy="129.2" r="2.4" fill="#f9a588" stroke="#3a3a3a" stroke-width="0.35"/>
<circle cx="560.1" cy="129.9" r="2.4" fill="#a48a2e" stroke="#3a3a3a" stroke-width="0.35"/>
<circle cx="558.7" cy="131.3" r="2.4" fill="#f9a588" stroke="#3a3a3a" stroke-width="0.35"/>
<circle cx="563.3" cy="132.9" r="2.4" fill="#a48a2e" stroke="#3a3a3a" stroke-width="0.35"/>
<circle cx="561.5" cy="134.8" r="2.4" fill="#a48a2e" stroke="#3a3a3a" stroke-width="0.35"/>
<circle cx="563.3" cy="135.7" r="2.4" fill="#a48a2e" stroke="#3a3a3a" stroke-width="0.35"/>
<circle cx="559.4" cy="137.3" r="2.4" fill="#f7c4d8" stroke="#3a3a3a" stroke-width="0.35"/>
<circle cx="511.8" cy="84.5" r="2.4" fill="#27605e" stroke="#3a3a3a" stroke-width="0.35"/>
<circle cx="529.0" cy="91.4" r="2.4" fill="#142a5c" stroke="#3a3a3a" stroke-width="0.35"/>
<circle cx="539.9" cy="84.2" r="2.4" fill="#142a5c" stroke="#3a3a3a" stroke-width="0.35"/>
<circle cx="541.3" cy="83.3" r="2.4" fill="#142a5c" stroke="#3a3a3a" stroke-width="0.35"/>
<circle cx="538.5" cy="85.6" r="2.4" fill="#142a5c" stroke="#3a3a3a" stroke-width="0.35"/>
<circle cx="542.5" cy="90.5" r="2.4" fill="#134661" stroke="#3a3a3a" stroke-width="0.35"/>
<circle cx="545.9" cy="87.3" r="2.4" fill="#134661" stroke="#3a3a3a" stroke-width="0.35"/>
<circle cx="549.6" cy="86.1" r="2.4" fill="#142a5c" stroke="#3a3a3a" stroke-width="0.35"/>
<circle cx="549.9" cy="88.9" r="2.4" fill="#134661" stroke="#3a3a3a" stroke-width="0.35"/>
<circle cx="554.3" cy="88.9" r="2.4" fill="#27605e" stroke="#3a3a3a" stroke-width="0.35"/>
<circle cx="529.0" cy="97.5" r="2.4" fill="#134661" stroke="#3a3a3a" stroke-width="0.35"/>
<circle cx="519.0" cy="101.8" r="2.4" fill="#134661" stroke="#3a3a3a" stroke-width="0.35"/>
<circle cx="533.4" cy="95.8" r="2.4" fill="#27605e" stroke="#3a3a3a" stroke-width="0.35"/>
<circle cx="535.2" cy="96.7" r="2.4" fill="#134661" stroke="#3a3a3a" stroke-width="0.35"/>
<circle cx="534.8" cy="99.5" r="2.4" fill="#142a5c" stroke="#3a3a3a" stroke-width="0.35"/>
<circle cx="540.8" cy="95.3" r="2.4" fill="#134661" stroke="#3a3a3a" stroke-width="0.35"/>
<circle cx="549.2" cy="94.4" r="2.4" fill="#27605e" stroke="#3a3a3a" stroke-width="0.35"/>
<circle cx="551.9" cy="94.9" r="2.4" fill="#52744a" stroke="#3a3a3a" stroke-width="0.35"/>
<circle cx="540.3" cy="100.4" r="2.4" fill="#a48a2e" stroke="#3a3a3a" stroke-width="0.35"/>
<circle cx="546.8" cy="97.7" r="2.4" fill="#142a5c" stroke="#3a3a3a" stroke-width="0.35"/>
<circle cx="548.2" cy="102.3" r="2.4" fill="#dd9754" stroke="#3a3a3a" stroke-width="0.35"/>
<circle cx="552.9" cy="99.5" r="2.4" fill="#142a5c" stroke="#3a3a3a" stroke-width="0.35"/>
<circle cx="553.8" cy="102.3" r="2.4" fill="#27605e" stroke="#3a3a3a" stroke-width="0.35"/>
<circle cx="530.1" cy="103.2" r="2.4" fill="#52744a" stroke="#3a3a3a" stroke-width="0.35"/>
<circle cx="532.5" cy="105.1" r="2.4" fill="#52744a" stroke="#3a3a3a" stroke-width="0.35"/>
<circle cx="526.4" cy="106.0" r="2.4" fill="#27605e" stroke="#3a3a3a" stroke-width="0.35"/>
<circle cx="520.9" cy="108.8" r="2.4" fill="#27605e" stroke="#3a3a3a" stroke-width="0.35"/>
<circle cx="516.7" cy="109.3" r="2.4" fill="#52744a" stroke="#3a3a3a" stroke-width="0.35"/>
<circle cx="537.1" cy="105.5" r="2.4" fill="#7e8136" stroke="#3a3a3a" stroke-width="0.35"/>
<circle cx="540.8" cy="106.5" r="2.4" fill="#52744a" stroke="#3a3a3a" stroke-width="0.35"/>
<circle cx="543.6" cy="105.1" r="2.4" fill="#27605e" stroke="#3a3a3a" stroke-width="0.35"/>
<circle cx="545.4" cy="106.9" r="2.4" fill="#142a5c" stroke="#3a3a3a" stroke-width="0.35"/>
<circle cx="548.7" cy="106.0" r="2.4" fill="#a48a2e" stroke="#3a3a3a" stroke-width="0.35"/>
<circle cx="551.0" cy="107.9" r="2.4" fill="#a48a2e" stroke="#3a3a3a" stroke-width="0.35"/>
<circle cx="500.5" cy="106.9" r="2.4" fill="#7e8136" stroke="#3a3a3a" stroke-width="0.35"/>
<circle cx="503.7" cy="113.4" r="2.4" fill="#7e8136" stroke="#3a3a3a" stroke-width="0.35"/>
<circle cx="505.8" cy="115.8" r="2.4" fill="#a48a2e" stroke="#3a3a3a" stroke-width="0.35"/>
<circle cx="512.1" cy="119.0" r="2.4" fill="#7e8136" stroke="#3a3a3a" stroke-width="0.35"/>
<circle cx="512.1" cy="124.3" r="2.4" fill="#dd9754" stroke="#3a3a3a" stroke-width="0.35"/>
<circle cx="515.3" cy="114.4" r="2.4" fill="#a48a2e" stroke="#3a3a3a" stroke-width="0.35"/>
<circle cx="523.7" cy="113.7" r="2.4" fill="#27605e" stroke="#3a3a3a" stroke-width="0.35"/>
<circle cx="533.4" cy="109.3" r="2.4" fill="#52744a" stroke="#3a3a3a" stroke-width="0.35"/>
<circle cx="528.3" cy="111.6" r="2.4" fill="#a48a2e" stroke="#3a3a3a" stroke-width="0.35"/>
<circle cx="528.8" cy="115.3" r="2.4" fill="#dd9754" stroke="#3a3a3a" stroke-width="0.35"/>
<circle cx="529.2" cy="119.0" r="2.4" fill="#dd9754" stroke="#3a3a3a" stroke-width="0.35"/>
<circle cx="533.4" cy="114.4" r="2.4" fill="#142a5c" stroke="#3a3a3a" stroke-width="0.35"/>
<circle cx="535.2" cy="111.6" r="2.4" fill="#27605e" stroke="#3a3a3a" stroke-width="0.35"/>
<circle cx="539.0" cy="103.7" r="2.4" fill="#142a5c" stroke="#3a3a3a" stroke-width="0.35"/>
<circle cx="551.9" cy="102.8" r="2.4" fill="#52744a" stroke="#3a3a3a" stroke-width="0.35"/>
<circle cx="549.2" cy="110.2" r="2.4" fill="#a48a2e" stroke="#3a3a3a" stroke-width="0.35"/>
<circle cx="544.5" cy="112.1" r="2.4" fill="#a48a2e" stroke="#3a3a3a" stroke-width="0.35"/>
<circle cx="540.8" cy="113.9" r="2.4" fill="#52744a" stroke="#3a3a3a" stroke-width="0.35"/>
<circle cx="539.0" cy="115.8" r="2.4" fill="#7e8136" stroke="#3a3a3a" stroke-width="0.35"/>
<circle cx="544.1" cy="115.8" r="2.4" fill="#fcb1ab" stroke="#3a3a3a" stroke-width="0.35"/>
<circle cx="549.2" cy="115.3" r="2.4" fill="#fcb1ab" stroke="#3a3a3a" stroke-width="0.35"/>
<circle cx="552.9" cy="115.8" r="2.4" fill="#52744a" stroke="#3a3a3a" stroke-width="0.35"/>
<circle cx="518.5" cy="119.9" r="2.4" fill="#7e8136" stroke="#3a3a3a" stroke-width="0.35"/>
<circle cx="519.9" cy="121.8" r="2.4" fill="#7e8136" stroke="#3a3a3a" stroke-width="0.35"/>
<circle cx="522.3" cy="123.7" r="2.4" fill="#dd9754" stroke="#3a3a3a" stroke-width="0.35"/>
<circle cx="521.3" cy="128.8" r="2.4" fill="#a48a2e" stroke="#3a3a3a" stroke-width="0.35"/>
<circle cx="526.9" cy="133.4" r="2.4" fill="#f9a588" stroke="#3a3a3a" stroke-width="0.35"/>
<circle cx="528.3" cy="126.0" r="2.4" fill="#134661" stroke="#3a3a3a" stroke-width="0.35"/>
<circle cx="532.0" cy="124.6" r="2.4" fill="#27605e" stroke="#3a3a3a" stroke-width="0.35"/>
<circle cx="535.2" cy="121.8" r="2.4" fill="#fcb1ab" stroke="#3a3a3a" stroke-width="0.35"/>
<circle cx="539.4" cy="123.2" r="2.4" fill="#f7c4d8" stroke="#3a3a3a" stroke-width="0.35"/>
<circle cx="543.1" cy="122.7" r="2.4" fill="#f7c4d8" stroke="#3a3a3a" stroke-width="0.35"/>
<circle cx="540.8" cy="119.5" r="2.4" fill="#a48a2e" stroke="#3a3a3a" stroke-width="0.35"/>
<circle cx="545.4" cy="119.0" r="2.4" fill="#f7c4d8" stroke="#3a3a3a" stroke-width="0.35"/>
<circle cx="549.2" cy="119.0" r="2.4" fill="#f7c4d8" stroke="#3a3a3a" stroke-width="0.35"/>
<circle cx="551.9" cy="122.3" r="2.4" fill="#dd9754" stroke="#3a3a3a" stroke-width="0.35"/>
<circle cx="554.7" cy="119.5" r="2.4" fill="#a48a2e" stroke="#3a3a3a" stroke-width="0.35"/>
<circle cx="546.4" cy="125.0" r="2.4" fill="#a48a2e" stroke="#3a3a3a" stroke-width="0.35"/>
<circle cx="542.2" cy="126.9" r="2.4" fill="#27605e" stroke="#3a3a3a" stroke-width="0.35"/>
<circle cx="533.4" cy="129.7" r="2.4" fill="#a48a2e" stroke="#3a3a3a" stroke-width="0.35"/>
<circle cx="536.6" cy="129.7" r="2.4" fill="#7e8136" stroke="#3a3a3a" stroke-width="0.35"/>
<circle cx="539.0" cy="127.8" r="2.4" fill="#7e8136" stroke="#3a3a3a" stroke-width="0.35"/>
<circle cx="544.5" cy="128.8" r="2.4" fill="#a48a2e" stroke="#3a3a3a" stroke-width="0.35"/>
<circle cx="550.1" cy="126.9" r="2.4" fill="#dd9754" stroke="#3a3a3a" stroke-width="0.35"/>
<circle cx="553.8" cy="127.8" r="2.4" fill="#52744a" stroke="#3a3a3a" stroke-width="0.35"/>
<circle cx="535.2" cy="133.4" r="2.4" fill="#dd9754" stroke="#3a3a3a" stroke-width="0.35"/>
<circle cx="538.0" cy="132.5" r="2.4" fill="#a48a2e" stroke="#3a3a3a" stroke-width="0.35"/>
<circle cx="541.7" cy="131.5" r="2.4" fill="#a48a2e" stroke="#3a3a3a" stroke-width="0.35"/>
<circle cx="545.4" cy="132.5" r="2.4" fill="#a48a2e" stroke="#3a3a3a" stroke-width="0.35"/>
<circle cx="535.2" cy="136.2" r="2.4" fill="#dd9754" stroke="#3a3a3a" stroke-width="0.35"/>
<circle cx="539.0" cy="137.1" r="2.4" fill="#f9a588" stroke="#3a3a3a" stroke-width="0.35"/>
<circle cx="541.7" cy="138.0" r="2.4" fill="#f9a588" stroke="#3a3a3a" stroke-width="0.35"/>
<circle cx="540.8" cy="139.9" r="2.4" fill="#f9a588" stroke="#3a3a3a" stroke-width="0.35"/>
<circle cx="547.3" cy="136.2" r="2.4" fill="#fcb1ab" stroke="#3a3a3a" stroke-width="0.35"/>
<circle cx="550.1" cy="136.6" r="2.4" fill="#fcb1ab" stroke="#3a3a3a" stroke-width="0.35"/>
<circle cx="551.9" cy="139.0" r="2.4" fill="#f7c4d8" stroke="#3a3a3a" stroke-width="0.35"/>
<circle cx="549.2" cy="139.0" r="2.4" fill="#fcb1ab" stroke="#3a3a3a" stroke-width="0.35"/>
<circle cx="551.5" cy="141.7" r="2.4" fill="#f7c4d8" stroke="#3a3a3a" stroke-width="0.35"/>
<circle cx="546.4" cy="139.0" r="2.4" fill="#f9a588" stroke="#3a3a3a" stroke-width="0.35"/>
<circle cx="552.9" cy="130.6" r="2.4" fill="#a48a2e" stroke="#3a3a3a" stroke-width="0.35"/>
<circle cx="605.1" cy="55.7" r="2.4" fill="#a48a2e" stroke="#3a3a3a" stroke-width="0.35"/>
<circle cx="600.4" cy="59.2" r="2.4" fill="#7e8136" stroke="#3a3a3a" stroke-width="0.35"/>
<circle cx="596.3" cy="58.7" r="2.4" fill="#52744a" stroke="#3a3a3a" stroke-width="0.35"/>
<circle cx="587.9" cy="60.1" r="2.4" fill="#134661" stroke="#3a3a3a" stroke-width="0.35"/>
<circle cx="589.3" cy="61.5" r="2.4" fill="#134661" stroke="#3a3a3a" stroke-width="0.35"/>
<circle cx="593.0" cy="62.9" r="2.4" fill="#52744a" stroke="#3a3a3a" stroke-width="0.35"/>
<circle cx="594.9" cy="67.1" r="2.4" fill="#52744a" stroke="#3a3a3a" stroke-width="0.35"/>
<circle cx="588.4" cy="66.6" r="2.4" fill="#52744a" stroke="#3a3a3a" stroke-width="0.35"/>
<circle cx="577.3" cy="66.1" r="2.4" fill="#142a5c" stroke="#3a3a3a" stroke-width="0.35"/>
<circle cx="576.3" cy="67.5" r="2.4" fill="#142a5c" stroke="#3a3a3a" stroke-width="0.35"/>
<circle cx="570.3" cy="69.8" r="2.4" fill="#27605e" stroke="#3a3a3a" stroke-width="0.35"/>
<circle cx="590.2" cy="73.1" r="2.4" fill="#7e8136" stroke="#3a3a3a" stroke-width="0.35"/>
<circle cx="587.5" cy="76.3" r="2.4" fill="#7e8136" stroke="#3a3a3a" stroke-width="0.35"/>
<circle cx="580.0" cy="78.2" r="2.4" fill="#52744a" stroke="#3a3a3a" stroke-width="0.35"/>
<circle cx="577.3" cy="81.4" r="2.4" fill="#27605e" stroke="#3a3a3a" stroke-width="0.35"/>
<circle cx="581.9" cy="81.0" r="2.4" fill="#52744a" stroke="#3a3a3a" stroke-width="0.35"/>
<circle cx="585.6" cy="81.0" r="2.4" fill="#52744a" stroke="#3a3a3a" stroke-width="0.35"/>
<circle cx="558.2" cy="81.4" r="2.4" fill="#142a5c" stroke="#3a3a3a" stroke-width="0.35"/>
<circle cx="562.0" cy="84.7" r="2.4" fill="#27605e" stroke="#3a3a3a" stroke-width="0.35"/>
<circle cx="564.3" cy="82.8" r="2.4" fill="#52744a" stroke="#3a3a3a" stroke-width="0.35"/>
<circle cx="569.8" cy="83.8" r="2.4" fill="#142a5c" stroke="#3a3a3a" stroke-width="0.35"/>
<circle cx="574.9" cy="86.1" r="2.4" fill="#27605e" stroke="#3a3a3a" stroke-width="0.35"/>
<circle cx="578.2" cy="89.3" r="2.4" fill="#52744a" stroke="#3a3a3a" stroke-width="0.35"/>
<circle cx="567.5" cy="90.2" r="2.4" fill="#52744a" stroke="#3a3a3a" stroke-width="0.35"/>
<circle cx="570.8" cy="90.7" r="2.4" fill="#134661" stroke="#3a3a3a" stroke-width="0.35"/>
<circle cx="555.9" cy="90.2" r="2.4" fill="#134661" stroke="#3a3a3a" stroke-width="0.35"/>
<circle cx="557.3" cy="93.0" r="2.4" fill="#134661" stroke="#3a3a3a" stroke-width="0.35"/>
<circle cx="561.5" cy="93.0" r="2.4" fill="#27605e" stroke="#3a3a3a" stroke-width="0.35"/>
<circle cx="566.1" cy="94.9" r="2.4" fill="#27605e" stroke="#3a3a3a" stroke-width="0.35"/>
<circle cx="573.5" cy="92.1" r="2.4" fill="#27605e" stroke="#3a3a3a" stroke-width="0.35"/>
<circle cx="571.7" cy="95.8" r="2.4" fill="#7e8136" stroke="#3a3a3a" stroke-width="0.35"/>
<circle cx="585.6" cy="85.6" r="2.4" fill="#a48a2e" stroke="#3a3a3a" stroke-width="0.35"/>
<circle cx="588.4" cy="86.5" r="2.4" fill="#a48a2e" stroke="#3a3a3a" stroke-width="0.35"/>
<circle cx="592.1" cy="87.5" r="2.4" fill="#dd9754" stroke="#3a3a3a" stroke-width="0.35"/>
<circle cx="583.8" cy="92.1" r="2.4" fill="#dd9754" stroke="#3a3a3a" stroke-width="0.35"/>
<circle cx="586.5" cy="90.2" r="2.4" fill="#a48a2e" stroke="#3a3a3a" stroke-width="0.35"/>
<circle cx="588.4" cy="94.0" r="2.4" fill="#a48a2e" stroke="#3a3a3a" stroke-width="0.35"/>
<circle cx="590.2" cy="97.2" r="2.4" fill="#dd9754" stroke="#3a3a3a" stroke-width="0.35"/>
<circle cx="585.6" cy="95.8" r="2.4" fill="#a48a2e" stroke="#3a3a3a" stroke-width="0.35"/>
<circle cx="582.8" cy="97.7" r="2.4" fill="#a48a2e" stroke="#3a3a3a" stroke-width="0.35"/>
<circle cx="579.1" cy="97.7" r="2.4" fill="#a48a2e" stroke="#3a3a3a" stroke-width="0.35"/>
<circle cx="576.3" cy="96.7" r="2.4" fill="#a48a2e" stroke="#3a3a3a" stroke-width="0.35"/>
<circle cx="575.4" cy="100.4" r="2.4" fill="#dd9754" stroke="#3a3a3a" stroke-width="0.35"/>
<circle cx="580.0" cy="101.4" r="2.4" fill="#dd9754" stroke="#3a3a3a" stroke-width="0.35"/>
<circle cx="596.7" cy="86.5" r="2.4" fill="#f7c4d8" stroke="#3a3a3a" stroke-width="0.35"/>
<circle cx="600.9" cy="91.2" r="2.4" fill="#f9a588" stroke="#3a3a3a" stroke-width="0.35"/>
<circle cx="593.0" cy="93.0" r="2.4" fill="#f7c4d8" stroke="#3a3a3a" stroke-width="0.35"/>
<circle cx="581.9" cy="104.2" r="2.4" fill="#f7c4d8" stroke="#3a3a3a" stroke-width="0.35"/>
<circle cx="589.3" cy="104.6" r="2.4" fill="#f9a588" stroke="#3a3a3a" stroke-width="0.35"/>
<circle cx="573.5" cy="103.2" r="2.4" fill="#f9a588" stroke="#3a3a3a" stroke-width="0.35"/>
<circle cx="575.4" cy="106.9" r="2.4" fill="#f9a588" stroke="#3a3a3a" stroke-width="0.35"/>
<circle cx="580.0" cy="108.8" r="2.4" fill="#f7c4d8" stroke="#3a3a3a" stroke-width="0.35"/>
<circle cx="564.3" cy="101.8" r="2.4" fill="#142a5c" stroke="#3a3a3a" stroke-width="0.35"/>
<circle cx="562.4" cy="105.1" r="2.4" fill="#27605e" stroke="#3a3a3a" stroke-width="0.35"/>
<circle cx="558.7" cy="103.2" r="2.4" fill="#134661" stroke="#3a3a3a" stroke-width="0.35"/>
<circle cx="556.9" cy="98.6" r="2.4" fill="#52744a" stroke="#3a3a3a" stroke-width="0.35"/>
<circle cx="560.6" cy="98.6" r="2.4" fill="#27605e" stroke="#3a3a3a" stroke-width="0.35"/>
<circle cx="568.0" cy="98.6" r="2.4" fill="#7e8136" stroke="#3a3a3a" stroke-width="0.35"/>
<circle cx="566.1" cy="103.2" r="2.4" fill="#dd9754" stroke="#3a3a3a" stroke-width="0.35"/>
<circle cx="564.3" cy="106.9" r="2.4" fill="#f9a588" stroke="#3a3a3a" stroke-width="0.35"/>
<circle cx="568.9" cy="106.9" r="2.4" fill="#dd9754" stroke="#3a3a3a" stroke-width="0.35"/>
<circle cx="558.7" cy="108.8" r="2.4" fill="#dd9754" stroke="#3a3a3a" stroke-width="0.35"/>
<circle cx="572.6" cy="108.3" r="2.4" fill="#fcb1ab" stroke="#3a3a3a" stroke-width="0.35"/>
<circle cx="574.5" cy="108.8" r="2.4" fill="#fcb1ab" stroke="#3a3a3a" stroke-width="0.35"/>
<circle cx="571.7" cy="105.6" r="2.4" fill="#dd9754" stroke="#3a3a3a" stroke-width="0.35"/>
<circle cx="577.3" cy="101.4" r="2.4" fill="#a48a2e" stroke="#3a3a3a" stroke-width="0.35"/>
<circle cx="562.4" cy="102.8" r="2.4" fill="#27605e" stroke="#3a3a3a" stroke-width="0.35"/>
<circle cx="556.9" cy="103.7" r="2.4" fill="#52744a" stroke="#3a3a3a" stroke-width="0.35"/>
<circle cx="563.8" cy="110.7" r="2.4" fill="#dd9754" stroke="#3a3a3a" stroke-width="0.35"/>
<circle cx="560.6" cy="114.4" r="2.4" fill="#f9a588" stroke="#3a3a3a" stroke-width="0.35"/>
<circle cx="568.0" cy="113.0" r="2.4" fill="#f9a588" stroke="#3a3a3a" stroke-width="0.35"/>
<circle cx="571.2" cy="114.4" r="2.4" fill="#f7c4d8" stroke="#3a3a3a" stroke-width="0.35"/>
<circle cx="576.3" cy="114.8" r="2.4" fill="#52744a" stroke="#3a3a3a" stroke-width="0.35"/>
<circle cx="577.7" cy="119.5" r="2.4" fill="#52744a" stroke="#3a3a3a" stroke-width="0.35"/>
<circle cx="580.0" cy="122.7" r="2.4" fill="#f7c4d8" stroke="#3a3a3a" stroke-width="0.35"/>
<circle cx="571.7" cy="117.6" r="2.4" fill="#f7c4d8" stroke="#3a3a3a" stroke-width="0.35"/>
<circle cx="568.9" cy="117.2" r="2.4" fill="#f7c4d8" stroke="#3a3a3a" stroke-width="0.35"/>
<circle cx="564.3" cy="119.5" r="2.4" fill="#fcb1ab" stroke="#3a3a3a" stroke-width="0.35"/>
<circle cx="562.4" cy="117.2" r="2.4" fill="#f7c4d8" stroke="#3a3a3a" stroke-width="0.35"/>
<circle cx="556.9" cy="116.7" r="2.4" fill="#dd9754" stroke="#3a3a3a" stroke-width="0.35"/>
<circle cx="557.8" cy="122.3" r="2.4" fill="#f7c4d8" stroke="#3a3a3a" stroke-width="0.35"/>
<circle cx="555.9" cy="124.6" r="2.4" fill="#f7c4d8" stroke="#3a3a3a" stroke-width="0.35"/>
<circle cx="567.1" cy="122.3" r="2.4" fill="#7e8136" stroke="#3a3a3a" stroke-width="0.35"/>
<circle cx="564.3" cy="124.1" r="2.4" fill="#7e8136" stroke="#3a3a3a" stroke-width="0.35"/>
<circle cx="565.2" cy="126.4" r="2.4" fill="#fcb1ab" stroke="#3a3a3a" stroke-width="0.35"/>
<circle cx="558.7" cy="127.8" r="2.4" fill="#a48a2e" stroke="#3a3a3a" stroke-width="0.35"/>
<circle cx="555.9" cy="130.6" r="2.4" fill="#f9a588" stroke="#3a3a3a" stroke-width="0.35"/>
<circle cx="561.5" cy="132.0" r="2.4" fill="#a48a2e" stroke="#3a3a3a" stroke-width="0.35"/>
<circle cx="565.2" cy="133.9" r="2.4" fill="#a48a2e" stroke="#3a3a3a" stroke-width="0.35"/>
<circle cx="568.0" cy="134.8" r="2.4" fill="#a48a2e" stroke="#3a3a3a" stroke-width="0.35"/>
<circle cx="571.7" cy="135.2" r="2.4" fill="#f7c4d8" stroke="#3a3a3a" stroke-width="0.35"/>
<circle cx="561.5" cy="137.6" r="2.4" fill="#dd9754" stroke="#3a3a3a" stroke-width="0.35"/>
<circle cx="557.3" cy="137.1" r="2.4" fill="#f7c4d8" stroke="#3a3a3a" stroke-width="0.35"/>
<circle cx="559.6" cy="142.2" r="2.4" fill="#f7c4d8" stroke="#3a3a3a" stroke-width="0.35"/>
<circle cx="601.5" cy="22.7" r="2.4" fill="#142a5c" stroke="#3a3a3a" stroke-width="0.35"/>
<circle cx="597.6" cy="42.0" r="2.4" fill="#27605e" stroke="#3a3a3a" stroke-width="0.35"/>
<circle cx="600.9" cy="44.8" r="2.4" fill="#52744a" stroke="#3a3a3a" stroke-width="0.35"/>
<circle cx="602.3" cy="46.2" r="2.4" fill="#52744a" stroke="#3a3a3a" stroke-width="0.35"/>
<circle cx="592.1" cy="50.5" r="2.4" fill="#142a5c" stroke="#3a3a3a" stroke-width="0.35"/>
<circle cx="595.8" cy="50.1" r="2.4" fill="#27605e" stroke="#3a3a3a" stroke-width="0.35"/>
<circle cx="485.1" cy="115.5" r="2.4" fill="#27605e" stroke="#3a3a3a" stroke-width="0.35"/>
<circle cx="493.2" cy="113.1" r="2.4" fill="#27605e" stroke="#3a3a3a" stroke-width="0.35"/>
<circle cx="498.7" cy="106.5" r="2.4" fill="#52744a" stroke="#3a3a3a" stroke-width="0.35"/>
<rect x="479.5" y="11.2" width="157.60000000000002" height="157.0" fill="none" stroke="#555" stroke-width="1"/>
<line x1="477.0" y1="168.20" x2="479.5" y2="168.20" stroke="#555" stroke-width="0.8"/>
<text x="474.2" y="172.20" text-anchor="end" style="font-family:'DejaVu Serif','Liberation Serif',serif;font-size:9.2px;letter-spacing:0.3px">0</text>
<line x1="477.0" y1="142.03" x2="479.5" y2="142.03" stroke="#555" stroke-width="0.8"/>
<text x="474.2" y="146.03" text-anchor="end" style="font-family:'DejaVu Serif','Liberation Serif',serif;font-size:9.2px;letter-spacing:0.3px">5</text>
<line x1="477.0" y1="115.87" x2="479.5" y2="115.87" stroke="#555" stroke-width="0.8"/>
<text x="474.2" y="119.87" text-anchor="end" style="font-family:'DejaVu Serif','Liberation Serif',serif;font-size:9.2px;letter-spacing:0.3px">10</text>
<line x1="477.0" y1="89.70" x2="479.5" y2="89.70" stroke="#555" stroke-width="0.8"/>
<text x="474.2" y="93.70" text-anchor="end" style="font-family:'DejaVu Serif','Liberation Serif',serif;font-size:9.2px;letter-spacing:0.3px">15</text>
<line x1="477.0" y1="63.53" x2="479.5" y2="63.53" stroke="#555" stroke-width="0.8"/>
<text x="474.2" y="67.53" text-anchor="end" style="font-family:'DejaVu Serif','Liberation Serif',serif;font-size:9.2px;letter-spacing:0.3px">20</text>
<line x1="477.0" y1="37.37" x2="479.5" y2="37.37" stroke="#555" stroke-width="0.8"/>
<text x="474.2" y="41.37" text-anchor="end" style="font-family:'DejaVu Serif','Liberation Serif',serif;font-size:9.2px;letter-spacing:0.3px">25</text>
<line x1="477.0" y1="11.20" x2="479.5" y2="11.20" stroke="#555" stroke-width="0.8"/>
<text x="474.2" y="15.20" text-anchor="end" style="font-family:'DejaVu Serif','Liberation Serif',serif;font-size:9.2px;letter-spacing:0.3px">30</text>
<line x1="490.02" y1="168.2" x2="490.02" y2="169.7" stroke="#555" stroke-width="0.6"/>
<line x1="499.62" y1="168.2" x2="499.62" y2="169.7" stroke="#555" stroke-width="0.6"/>
<line x1="506.42" y1="168.2" x2="506.42" y2="169.7" stroke="#555" stroke-width="0.6"/>
<line x1="511.71" y1="168.2" x2="511.71" y2="169.7" stroke="#555" stroke-width="0.6"/>
<line x1="516.02" y1="168.2" x2="516.02" y2="169.7" stroke="#555" stroke-width="0.6"/>
<line x1="519.67" y1="168.2" x2="519.67" y2="169.7" stroke="#555" stroke-width="0.6"/>
<line x1="522.83" y1="168.2" x2="522.83" y2="169.7" stroke="#555" stroke-width="0.6"/>
<line x1="525.62" y1="168.2" x2="525.62" y2="169.7" stroke="#555" stroke-width="0.6"/>
<line x1="528.11" y1="168.2" x2="528.11" y2="170.7" stroke="#555" stroke-width="0.8"/>
<line x1="544.51" y1="168.2" x2="544.51" y2="169.7" stroke="#555" stroke-width="0.6"/>
<line x1="554.11" y1="168.2" x2="554.11" y2="169.7" stroke="#555" stroke-width="0.6"/>
<line x1="560.92" y1="168.2" x2="560.92" y2="169.7" stroke="#555" stroke-width="0.6"/>
<line x1="566.20" y1="168.2" x2="566.20" y2="169.7" stroke="#555" stroke-width="0.6"/>
<line x1="570.52" y1="168.2" x2="570.52" y2="169.7" stroke="#555" stroke-width="0.6"/>
<line x1="574.16" y1="168.2" x2="574.16" y2="169.7" stroke="#555" stroke-width="0.6"/>
<line x1="577.32" y1="168.2" x2="577.32" y2="169.7" stroke="#555" stroke-width="0.6"/>
<line x1="580.11" y1="168.2" x2="580.11" y2="169.7" stroke="#555" stroke-width="0.6"/>
<line x1="582.60" y1="168.2" x2="582.60" y2="170.7" stroke="#555" stroke-width="0.8"/>
<line x1="599.01" y1="168.2" x2="599.01" y2="169.7" stroke="#555" stroke-width="0.6"/>
<line x1="608.61" y1="168.2" x2="608.61" y2="169.7" stroke="#555" stroke-width="0.6"/>
<line x1="615.41" y1="168.2" x2="615.41" y2="169.7" stroke="#555" stroke-width="0.6"/>
<line x1="620.70" y1="168.2" x2="620.70" y2="169.7" stroke="#555" stroke-width="0.6"/>
<line x1="625.01" y1="168.2" x2="625.01" y2="169.7" stroke="#555" stroke-width="0.6"/>
<line x1="628.66" y1="168.2" x2="628.66" y2="169.7" stroke="#555" stroke-width="0.6"/>
<line x1="631.82" y1="168.2" x2="631.82" y2="169.7" stroke="#555" stroke-width="0.6"/>
<line x1="634.61" y1="168.2" x2="634.61" y2="169.7" stroke="#555" stroke-width="0.6"/>
<line x1="528.11" y1="168.2" x2="528.11" y2="170.7" stroke="#555" stroke-width="0.8"/>
<text x="527.31" y="180.20" text-anchor="middle" style="font-family:'DejaVu Serif','Liberation Serif',serif;font-size:9px">10<tspan dy="-3.5" style="font-size:6.3px">−2</tspan></text>
<line x1="582.60" y1="168.2" x2="582.60" y2="170.7" stroke="#555" stroke-width="0.8"/>
<text x="581.80" y="180.20" text-anchor="middle" style="font-family:'DejaVu Serif','Liberation Serif',serif;font-size:9px">10<tspan dy="-3.5" style="font-size:6.3px">−1</tspan></text>
<line x1="637.10" y1="168.2" x2="637.10" y2="170.7" stroke="#555" stroke-width="0.8"/>
<text x="636.30" y="180.20" text-anchor="middle" style="font-family:'DejaVu Serif','Liberation Serif',serif;font-size:9px">10<tspan dy="-3.5" style="font-size:6.3px">0</tspan></text>
<text x="558.3" y="191.5" text-anchor="middle" style="font-family:'DejaVu Serif','Liberation Serif',serif;font-size:9px"><tspan style="font-style:italic">α</tspan> [-]</text>
<text transform="translate(456.9,88.7) rotate(-90)" text-anchor="middle" style="font-family:'DejaVu Serif','Liberation Serif',serif;font-size:9px;letter-spacing:0.15px">ΔnCAC in €/t<tspan dy="2" style="font-size:6.3px">CO<tspan dy="1.2" style="font-size:4.5px">2</tspan></tspan></text>
<defs><linearGradient id="cbr0" x1="0" y1="0" x2="0" y2="1"><stop offset="0.000" stop-color="#16225a"/><stop offset="0.050" stop-color="#132f5d"/><stop offset="0.100" stop-color="#113c5f"/><stop offset="0.150" stop-color="#144861"/><stop offset="0.200" stop-color="#1a5562"/><stop offset="0.250" stop-color="#245f5f"/><stop offset="0.300" stop-color="#32675a"/><stop offset="0.350" stop-color="#436f52"/><stop offset="0.400" stop-color="#567548"/><stop offset="0.450" stop-color="#6b7c3d"/><stop offset="0.500" stop-color="#828234"/><stop offset="0.550" stop-color="#9a882c"/><stop offset="0.600" stop-color="#b28d35"/><stop offset="0.650" stop-color="#ca923f"/><stop offset="0.700" stop-color="#dd9754"/><stop offset="0.750" stop-color="#ee9e6d"/><stop offset="0.800" stop-color="#f9a588"/><stop offset="0.850" stop-color="#fbafa5"/><stop offset="0.900" stop-color="#fcb9c0"/><stop offset="0.950" stop-color="#f8c2d4"/><stop offset="1.000" stop-color="#f4cbe8"/></linearGradient></defs>
<rect x="647.1" y="11.2" width="8.5" height="157.0" fill="url(#cbr0)" stroke="#555" stroke-width="0.8"/>
<line x1="655.6" y1="168.20" x2="657.6" y2="168.20" stroke="#555" stroke-width="0.7"/>
<text x="660.2" y="171.10" style="font-family:'DejaVu Serif','Liberation Serif',serif;font-size:7.2px">60</text>
<line x1="655.6" y1="148.57" x2="657.6" y2="148.57" stroke="#555" stroke-width="0.7"/>
<text x="660.2" y="151.47" style="font-family:'DejaVu Serif','Liberation Serif',serif;font-size:7.2px">65</text>
<line x1="655.6" y1="128.95" x2="657.6" y2="128.95" stroke="#555" stroke-width="0.7"/>
<text x="660.2" y="131.85" style="font-family:'DejaVu Serif','Liberation Serif',serif;font-size:7.2px">70</text>
<line x1="655.6" y1="109.32" x2="657.6" y2="109.32" stroke="#555" stroke-width="0.7"/>
<text x="660.2" y="112.22" style="font-family:'DejaVu Serif','Liberation Serif',serif;font-size:7.2px">75</text>
<line x1="655.6" y1="89.70" x2="657.6" y2="89.70" stroke="#555" stroke-width="0.7"/>
<text x="660.2" y="92.60" style="font-family:'DejaVu Serif','Liberation Serif',serif;font-size:7.2px">80</text>
<line x1="655.6" y1="70.07" x2="657.6" y2="70.07" stroke="#555" stroke-width="0.7"/>
<text x="660.2" y="72.97" style="font-family:'DejaVu Serif','Liberation Serif',serif;font-size:7.2px">85</text>
<line x1="655.6" y1="50.45" x2="657.6" y2="50.45" stroke="#555" stroke-width="0.7"/>
<text x="660.2" y="53.35" style="font-family:'DejaVu Serif','Liberation Serif',serif;font-size:7.2px">90</text>
<line x1="655.6" y1="30.82" x2="657.6" y2="30.82" stroke="#555" stroke-width="0.7"/>
<text x="660.2" y="33.72" style="font-family:'DejaVu Serif','Liberation Serif',serif;font-size:7.2px">95</text>
<line x1="655.6" y1="11.20" x2="657.6" y2="11.20" stroke="#555" stroke-width="0.7"/>
<text x="660.2" y="14.10" style="font-family:'DejaVu Serif','Liberation Serif',serif;font-size:7.2px">100</text>
<text transform="translate(682.2,90.3) rotate(-90)" text-anchor="middle" style="font-family:'DejaVu Serif','Liberation Serif',serif;font-size:7.75px">Net carbon avoidance cost nCAC in €/t<tspan dy="1.8" style="font-size:5.9px">CO<tspan dy="1.1" style="font-size:4.2px">2</tspan></tspan></text>
<circle cx="585.8" cy="263.6" r="2.4" fill="#142a5c" stroke="#3a3a3a" stroke-width="0.35"/>
<circle cx="599.3" cy="268.1" r="2.4" fill="#a48a2e" stroke="#3a3a3a" stroke-width="0.35"/>
<circle cx="581.3" cy="277.1" r="2.4" fill="#27605e" stroke="#3a3a3a" stroke-width="0.35"/>
<circle cx="581.3" cy="280.1" r="2.4" fill="#a48a2e" stroke="#3a3a3a" stroke-width="0.35"/>
<circle cx="557.3" cy="284.6" r="2.4" fill="#7e8136" stroke="#3a3a3a" stroke-width="0.35"/>
<circle cx="542.3" cy="289.1" r="2.4" fill="#7e8136" stroke="#3a3a3a" stroke-width="0.35"/>
<circle cx="578.3" cy="289.1" r="2.4" fill="#a48a2e" stroke="#3a3a3a" stroke-width="0.35"/>
<circle cx="536.3" cy="293.6" r="2.4" fill="#142a5c" stroke="#3a3a3a" stroke-width="0.35"/>
<circle cx="536.3" cy="296.6" r="2.4" fill="#52744a" stroke="#3a3a3a" stroke-width="0.35"/>
<circle cx="524.3" cy="301.1" r="2.4" fill="#27605e" stroke="#3a3a3a" stroke-width="0.35"/>
<circle cx="530.3" cy="301.1" r="2.4" fill="#a48a2e" stroke="#3a3a3a" stroke-width="0.35"/>
<circle cx="513.8" cy="302.6" r="2.4" fill="#dd9754" stroke="#3a3a3a" stroke-width="0.35"/>
<circle cx="516.8" cy="302.6" r="2.4" fill="#134661" stroke="#3a3a3a" stroke-width="0.35"/>
<circle cx="524.3" cy="304.1" r="2.4" fill="#7e8136" stroke="#3a3a3a" stroke-width="0.35"/>
<circle cx="515.3" cy="305.6" r="2.4" fill="#dd9754" stroke="#3a3a3a" stroke-width="0.35"/>
<circle cx="531.8" cy="305.6" r="2.4" fill="#a48a2e" stroke="#3a3a3a" stroke-width="0.35"/>
<circle cx="534.8" cy="305.6" r="2.4" fill="#27605e" stroke="#3a3a3a" stroke-width="0.35"/>
<circle cx="537.8" cy="307.1" r="2.4" fill="#f9a588" stroke="#3a3a3a" stroke-width="0.35"/>
<circle cx="549.8" cy="308.6" r="2.4" fill="#dd9754" stroke="#3a3a3a" stroke-width="0.35"/>
<circle cx="563.3" cy="310.1" r="2.4" fill="#fcb1ab" stroke="#3a3a3a" stroke-width="0.35"/>
<circle cx="561.8" cy="313.1" r="2.4" fill="#fcb1ab" stroke="#3a3a3a" stroke-width="0.35"/>
<circle cx="551.3" cy="316.1" r="2.4" fill="#fcb1ab" stroke="#3a3a3a" stroke-width="0.35"/>
<circle cx="531.8" cy="317.6" r="2.4" fill="#142a5c" stroke="#3a3a3a" stroke-width="0.35"/>
<circle cx="551.3" cy="319.1" r="2.4" fill="#27605e" stroke="#3a3a3a" stroke-width="0.35"/>
<circle cx="563.3" cy="323.6" r="2.4" fill="#7e8136" stroke="#3a3a3a" stroke-width="0.35"/>
<circle cx="555.8" cy="326.6" r="2.4" fill="#fcb1ab" stroke="#3a3a3a" stroke-width="0.35"/>
<circle cx="518.5" cy="300.0" r="2.4" fill="#134661" stroke="#3a3a3a" stroke-width="0.35"/>
<circle cx="519.7" cy="299.5" r="2.4" fill="#7e8136" stroke="#3a3a3a" stroke-width="0.35"/>
<circle cx="520.1" cy="302.8" r="2.4" fill="#7e8136" stroke="#3a3a3a" stroke-width="0.35"/>
<circle cx="529.9" cy="294.9" r="2.4" fill="#142a5c" stroke="#3a3a3a" stroke-width="0.35"/>
<circle cx="531.7" cy="295.8" r="2.4" fill="#142a5c" stroke="#3a3a3a" stroke-width="0.35"/>
<circle cx="527.6" cy="297.2" r="2.4" fill="#27605e" stroke="#3a3a3a" stroke-width="0.35"/>
<circle cx="530.8" cy="297.5" r="2.4" fill="#52744a" stroke="#3a3a3a" stroke-width="0.35"/>
<circle cx="536.4" cy="301.2" r="2.4" fill="#27605e" stroke="#3a3a3a" stroke-width="0.35"/>
<circle cx="529.9" cy="311.8" r="2.4" fill="#a48a2e" stroke="#3a3a3a" stroke-width="0.35"/>
<circle cx="532.2" cy="311.8" r="2.4" fill="#52744a" stroke="#3a3a3a" stroke-width="0.35"/>
<circle cx="531.3" cy="313.2" r="2.4" fill="#a48a2e" stroke="#3a3a3a" stroke-width="0.35"/>
<circle cx="535.4" cy="312.3" r="2.4" fill="#f9a588" stroke="#3a3a3a" stroke-width="0.35"/>
<circle cx="535.0" cy="315.1" r="2.4" fill="#52744a" stroke="#3a3a3a" stroke-width="0.35"/>
<circle cx="535.7" cy="314.5" r="2.4" fill="#52744a" stroke="#3a3a3a" stroke-width="0.35"/>
<circle cx="539.6" cy="309.5" r="2.4" fill="#f9a588" stroke="#3a3a3a" stroke-width="0.35"/>
<circle cx="536.8" cy="314.2" r="2.4" fill="#f9a588" stroke="#3a3a3a" stroke-width="0.35"/>
<circle cx="537.5" cy="313.6" r="2.4" fill="#f9a588" stroke="#3a3a3a" stroke-width="0.35"/>
<circle cx="541.0" cy="309.5" r="2.4" fill="#a48a2e" stroke="#3a3a3a" stroke-width="0.35"/>
<circle cx="540.5" cy="314.2" r="2.4" fill="#f9a588" stroke="#3a3a3a" stroke-width="0.35"/>
<circle cx="541.9" cy="313.2" r="2.4" fill="#f9a588" stroke="#3a3a3a" stroke-width="0.35"/>
<circle cx="538.9" cy="313.6" r="2.4" fill="#52744a" stroke="#3a3a3a" stroke-width="0.35"/>
<circle cx="542.2" cy="311.3" r="2.4" fill="#f9a588" stroke="#3a3a3a" stroke-width="0.35"/>
<circle cx="540.1" cy="301.2" r="2.4" fill="#52744a" stroke="#3a3a3a" stroke-width="0.35"/>
<circle cx="539.2" cy="303.5" r="2.4" fill="#142a5c" stroke="#3a3a3a" stroke-width="0.35"/>
<circle cx="541.0" cy="303.0" r="2.4" fill="#134661" stroke="#3a3a3a" stroke-width="0.35"/>
<circle cx="540.5" cy="300.3" r="2.4" fill="#134661" stroke="#3a3a3a" stroke-width="0.35"/>
<circle cx="540.0" cy="302.7" r="2.4" fill="#142a5c" stroke="#3a3a3a" stroke-width="0.35"/>
<circle cx="542.9" cy="297.9" r="2.4" fill="#27605e" stroke="#3a3a3a" stroke-width="0.35"/>
<circle cx="541.0" cy="302.6" r="2.4" fill="#52744a" stroke="#3a3a3a" stroke-width="0.35"/>
<circle cx="542.9" cy="302.1" r="2.4" fill="#52744a" stroke="#3a3a3a" stroke-width="0.35"/>
<circle cx="543.3" cy="301.3" r="2.4" fill="#a48a2e" stroke="#3a3a3a" stroke-width="0.35"/>
<circle cx="544.5" cy="301.5" r="2.4" fill="#52744a" stroke="#3a3a3a" stroke-width="0.35"/>
<circle cx="542.9" cy="294.2" r="2.4" fill="#27605e" stroke="#3a3a3a" stroke-width="0.35"/>
<circle cx="544.2" cy="291.5" r="2.4" fill="#7e8136" stroke="#3a3a3a" stroke-width="0.35"/>
<circle cx="543.8" cy="293.9" r="2.4" fill="#7e8136" stroke="#3a3a3a" stroke-width="0.35"/>
<circle cx="542.4" cy="295.7" r="2.4" fill="#134661" stroke="#3a3a3a" stroke-width="0.35"/>
<circle cx="546.5" cy="295.2" r="2.4" fill="#27605e" stroke="#3a3a3a" stroke-width="0.35"/>
<circle cx="543.3" cy="297.1" r="2.4" fill="#134661" stroke="#3a3a3a" stroke-width="0.35"/>
<circle cx="541.0" cy="306.3" r="2.4" fill="#142a5c" stroke="#3a3a3a" stroke-width="0.35"/>
<circle cx="541.9" cy="304.4" r="2.4" fill="#f9a588" stroke="#3a3a3a" stroke-width="0.35"/>
<circle cx="542.4" cy="303.6" r="2.4" fill="#142a5c" stroke="#3a3a3a" stroke-width="0.35"/>
<circle cx="542.8" cy="305.9" r="2.4" fill="#142a5c" stroke="#3a3a3a" stroke-width="0.35"/>
<circle cx="542.9" cy="305.8" r="2.4" fill="#a48a2e" stroke="#3a3a3a" stroke-width="0.35"/>
<circle cx="541.9" cy="305.4" r="2.4" fill="#142a5c" stroke="#3a3a3a" stroke-width="0.35"/>
<circle cx="543.8" cy="307.3" r="2.4" fill="#dd9754" stroke="#3a3a3a" stroke-width="0.35"/>
<circle cx="543.1" cy="309.4" r="2.4" fill="#f9a588" stroke="#3a3a3a" stroke-width="0.35"/>
<circle cx="543.3" cy="301.3" r="2.4" fill="#134661" stroke="#3a3a3a" stroke-width="0.35"/>
<circle cx="546.1" cy="304.5" r="2.4" fill="#dd9754" stroke="#3a3a3a" stroke-width="0.35"/>
<circle cx="544.7" cy="305.4" r="2.4" fill="#dd9754" stroke="#3a3a3a" stroke-width="0.35"/>
<circle cx="545.4" cy="303.4" r="2.4" fill="#52744a" stroke="#3a3a3a" stroke-width="0.35"/>
<circle cx="538.7" cy="316.9" r="2.4" fill="#7e8136" stroke="#3a3a3a" stroke-width="0.35"/>
<circle cx="537.5" cy="318.7" r="2.4" fill="#7e8136" stroke="#3a3a3a" stroke-width="0.35"/>
<circle cx="542.4" cy="316.0" r="2.4" fill="#7e8136" stroke="#3a3a3a" stroke-width="0.35"/>
<circle cx="542.6" cy="317.7" r="2.4" fill="#142a5c" stroke="#3a3a3a" stroke-width="0.35"/>
<circle cx="539.4" cy="316.4" r="2.4" fill="#52744a" stroke="#3a3a3a" stroke-width="0.35"/>
<circle cx="539.9" cy="318.7" r="2.4" fill="#7e8136" stroke="#3a3a3a" stroke-width="0.35"/>
<circle cx="544.0" cy="316.8" r="2.4" fill="#142a5c" stroke="#3a3a3a" stroke-width="0.35"/>
<circle cx="544.0" cy="313.1" r="2.4" fill="#f9a588" stroke="#3a3a3a" stroke-width="0.35"/>
<circle cx="545.9" cy="315.0" r="2.4" fill="#52744a" stroke="#3a3a3a" stroke-width="0.35"/>
<circle cx="590.8" cy="262.6" r="2.4" fill="#7e8136" stroke="#3a3a3a" stroke-width="0.35"/>
<circle cx="585.4" cy="269.4" r="2.4" fill="#27605e" stroke="#3a3a3a" stroke-width="0.35"/>
<circle cx="585.9" cy="271.7" r="2.4" fill="#a48a2e" stroke="#3a3a3a" stroke-width="0.35"/>
<circle cx="582.2" cy="271.7" r="2.4" fill="#52744a" stroke="#3a3a3a" stroke-width="0.35"/>
<circle cx="585.0" cy="272.1" r="2.4" fill="#27605e" stroke="#3a3a3a" stroke-width="0.35"/>
<circle cx="589.2" cy="268.0" r="2.4" fill="#a48a2e" stroke="#3a3a3a" stroke-width="0.35"/>
<circle cx="587.8" cy="271.2" r="2.4" fill="#27605e" stroke="#3a3a3a" stroke-width="0.35"/>
<circle cx="586.8" cy="271.6" r="2.4" fill="#27605e" stroke="#3a3a3a" stroke-width="0.35"/>
<circle cx="592.4" cy="268.0" r="2.4" fill="#a48a2e" stroke="#3a3a3a" stroke-width="0.35"/>
<circle cx="593.4" cy="268.0" r="2.4" fill="#a48a2e" stroke="#3a3a3a" stroke-width="0.35"/>
<circle cx="592.1" cy="269.3" r="2.4" fill="#a48a2e" stroke="#3a3a3a" stroke-width="0.35"/>
<circle cx="592.9" cy="271.2" r="2.4" fill="#a48a2e" stroke="#3a3a3a" stroke-width="0.35"/>
<circle cx="592.6" cy="266.6" r="2.4" fill="#7e8136" stroke="#3a3a3a" stroke-width="0.35"/>
<circle cx="593.8" cy="271.6" r="2.4" fill="#dd9754" stroke="#3a3a3a" stroke-width="0.35"/>
<circle cx="590.1" cy="273.5" r="2.4" fill="#a48a2e" stroke="#3a3a3a" stroke-width="0.35"/>
<circle cx="587.3" cy="275.9" r="2.4" fill="#a48a2e" stroke="#3a3a3a" stroke-width="0.35"/>
<circle cx="590.7" cy="272.6" r="2.4" fill="#a48a2e" stroke="#3a3a3a" stroke-width="0.35"/>
<circle cx="591.0" cy="273.9" r="2.4" fill="#dd9754" stroke="#3a3a3a" stroke-width="0.35"/>
<circle cx="589.0" cy="275.3" r="2.4" fill="#a48a2e" stroke="#3a3a3a" stroke-width="0.35"/>
<circle cx="592.9" cy="275.4" r="2.4" fill="#a48a2e" stroke="#3a3a3a" stroke-width="0.35"/>
<circle cx="591.9" cy="276.3" r="2.4" fill="#a48a2e" stroke="#3a3a3a" stroke-width="0.35"/>
<circle cx="589.1" cy="273.9" r="2.4" fill="#a48a2e" stroke="#3a3a3a" stroke-width="0.35"/>
<circle cx="590.8" cy="275.3" r="2.4" fill="#a48a2e" stroke="#3a3a3a" stroke-width="0.35"/>
<circle cx="593.4" cy="274.4" r="2.4" fill="#a48a2e" stroke="#3a3a3a" stroke-width="0.35"/>
<circle cx="591.8" cy="277.1" r="2.4" fill="#a48a2e" stroke="#3a3a3a" stroke-width="0.35"/>
<circle cx="587.3" cy="279.6" r="2.4" fill="#a48a2e" stroke="#3a3a3a" stroke-width="0.35"/>
<circle cx="589.2" cy="278.7" r="2.4" fill="#a48a2e" stroke="#3a3a3a" stroke-width="0.35"/>
<circle cx="586.4" cy="276.2" r="2.4" fill="#27605e" stroke="#3a3a3a" stroke-width="0.35"/>
<circle cx="588.0" cy="277.6" r="2.4" fill="#a48a2e" stroke="#3a3a3a" stroke-width="0.35"/>
<circle cx="590.1" cy="280.0" r="2.4" fill="#a48a2e" stroke="#3a3a3a" stroke-width="0.35"/>
<circle cx="589.0" cy="279.0" r="2.4" fill="#dd9754" stroke="#3a3a3a" stroke-width="0.35"/>
<circle cx="586.6" cy="283.0" r="2.4" fill="#dd9754" stroke="#3a3a3a" stroke-width="0.35"/>
<circle cx="592.9" cy="276.7" r="2.4" fill="#dd9754" stroke="#3a3a3a" stroke-width="0.35"/>
<circle cx="590.8" cy="278.0" r="2.4" fill="#a48a2e" stroke="#3a3a3a" stroke-width="0.35"/>
<circle cx="579.0" cy="274.9" r="2.4" fill="#27605e" stroke="#3a3a3a" stroke-width="0.35"/>
<circle cx="583.6" cy="273.9" r="2.4" fill="#52744a" stroke="#3a3a3a" stroke-width="0.35"/>
<circle cx="576.2" cy="278.2" r="2.4" fill="#27605e" stroke="#3a3a3a" stroke-width="0.35"/>
<circle cx="574.3" cy="277.3" r="2.4" fill="#27605e" stroke="#3a3a3a" stroke-width="0.35"/>
<circle cx="573.4" cy="279.1" r="2.4" fill="#27605e" stroke="#3a3a3a" stroke-width="0.35"/>
<circle cx="573.9" cy="282.4" r="2.4" fill="#52744a" stroke="#3a3a3a" stroke-width="0.35"/>
<circle cx="574.8" cy="282.8" r="2.4" fill="#dd9754" stroke="#3a3a3a" stroke-width="0.35"/>
<circle cx="577.1" cy="282.4" r="2.4" fill="#a48a2e" stroke="#3a3a3a" stroke-width="0.35"/>
<circle cx="568.8" cy="278.7" r="2.4" fill="#134661" stroke="#3a3a3a" stroke-width="0.35"/>
<circle cx="570.1" cy="280.3" r="2.4" fill="#134661" stroke="#3a3a3a" stroke-width="0.35"/>
<circle cx="562.3" cy="280.0" r="2.4" fill="#134661" stroke="#3a3a3a" stroke-width="0.35"/>
<circle cx="563.7" cy="280.5" r="2.4" fill="#134661" stroke="#3a3a3a" stroke-width="0.35"/>
<circle cx="567.4" cy="280.7" r="2.4" fill="#134661" stroke="#3a3a3a" stroke-width="0.35"/>
<circle cx="561.8" cy="284.7" r="2.4" fill="#134661" stroke="#3a3a3a" stroke-width="0.35"/>
<circle cx="567.4" cy="284.4" r="2.4" fill="#134661" stroke="#3a3a3a" stroke-width="0.35"/>
<circle cx="570.6" cy="283.5" r="2.4" fill="#a48a2e" stroke="#3a3a3a" stroke-width="0.35"/>
<circle cx="550.2" cy="285.1" r="2.4" fill="#142a5c" stroke="#3a3a3a" stroke-width="0.35"/>
<circle cx="551.1" cy="287.7" r="2.4" fill="#134661" stroke="#3a3a3a" stroke-width="0.35"/>
<circle cx="553.9" cy="286.5" r="2.4" fill="#27605e" stroke="#3a3a3a" stroke-width="0.35"/>
<circle cx="547.4" cy="287.5" r="2.4" fill="#142a5c" stroke="#3a3a3a" stroke-width="0.35"/>
<circle cx="549.3" cy="287.2" r="2.4" fill="#27605e" stroke="#3a3a3a" stroke-width="0.35"/>
<circle cx="548.3" cy="290.0" r="2.4" fill="#142a5c" stroke="#3a3a3a" stroke-width="0.35"/>
<circle cx="546.0" cy="292.6" r="2.4" fill="#142a5c" stroke="#3a3a3a" stroke-width="0.35"/>
<circle cx="547.9" cy="292.6" r="2.4" fill="#52744a" stroke="#3a3a3a" stroke-width="0.35"/>
<circle cx="549.7" cy="292.3" r="2.4" fill="#27605e" stroke="#3a3a3a" stroke-width="0.35"/>
<circle cx="551.6" cy="291.4" r="2.4" fill="#134661" stroke="#3a3a3a" stroke-width="0.35"/>
<circle cx="557.2" cy="288.9" r="2.4" fill="#27605e" stroke="#3a3a3a" stroke-width="0.35"/>
<circle cx="560.4" cy="288.9" r="2.4" fill="#134661" stroke="#3a3a3a" stroke-width="0.35"/>
<circle cx="559.5" cy="292.6" r="2.4" fill="#134661" stroke="#3a3a3a" stroke-width="0.35"/>
<circle cx="564.1" cy="287.0" r="2.4" fill="#52744a" stroke="#3a3a3a" stroke-width="0.35"/>
<circle cx="563.7" cy="289.8" r="2.4" fill="#52744a" stroke="#3a3a3a" stroke-width="0.35"/>
<circle cx="568.3" cy="288.4" r="2.4" fill="#7e8136" stroke="#3a3a3a" stroke-width="0.35"/>
<circle cx="565.5" cy="289.3" r="2.4" fill="#7e8136" stroke="#3a3a3a" stroke-width="0.35"/>
<circle cx="571.5" cy="287.5" r="2.4" fill="#a48a2e" stroke="#3a3a3a" stroke-width="0.35"/>
<circle cx="576.6" cy="285.1" r="2.4" fill="#a48a2e" stroke="#3a3a3a" stroke-width="0.35"/>
<circle cx="574.8" cy="287.9" r="2.4" fill="#a48a2e" stroke="#3a3a3a" stroke-width="0.35"/>
<circle cx="572.5" cy="287.9" r="2.4" fill="#dd9754" stroke="#3a3a3a" stroke-width="0.35"/>
<circle cx="580.8" cy="286.5" r="2.4" fill="#a48a2e" stroke="#3a3a3a" stroke-width="0.35"/>
<circle cx="582.7" cy="291.2" r="2.4" fill="#f9a588" stroke="#3a3a3a" stroke-width="0.35"/>
<circle cx="583.8" cy="286.7" r="2.4" fill="#a48a2e" stroke="#3a3a3a" stroke-width="0.35"/>
<circle cx="572.9" cy="290.2" r="2.4" fill="#52744a" stroke="#3a3a3a" stroke-width="0.35"/>
<circle cx="576.2" cy="292.1" r="2.4" fill="#dd9754" stroke="#3a3a3a" stroke-width="0.35"/>
<circle cx="573.4" cy="292.6" r="2.4" fill="#a48a2e" stroke="#3a3a3a" stroke-width="0.35"/>
<circle cx="567.8" cy="291.2" r="2.4" fill="#52744a" stroke="#3a3a3a" stroke-width="0.35"/>
<circle cx="571.1" cy="292.6" r="2.4" fill="#a48a2e" stroke="#3a3a3a" stroke-width="0.35"/>
<circle cx="562.7" cy="293.5" r="2.4" fill="#a48a2e" stroke="#3a3a3a" stroke-width="0.35"/>
<circle cx="564.1" cy="293.5" r="2.4" fill="#a48a2e" stroke="#3a3a3a" stroke-width="0.35"/>
<circle cx="566.0" cy="294.0" r="2.4" fill="#a48a2e" stroke="#3a3a3a" stroke-width="0.35"/>
<circle cx="579.0" cy="294.4" r="2.4" fill="#dd9754" stroke="#3a3a3a" stroke-width="0.35"/>
<circle cx="579.9" cy="294.0" r="2.4" fill="#dd9754" stroke="#3a3a3a" stroke-width="0.35"/>
<circle cx="574.3" cy="294.4" r="2.4" fill="#a48a2e" stroke="#3a3a3a" stroke-width="0.35"/>
<circle cx="575.7" cy="295.3" r="2.4" fill="#dd9754" stroke="#3a3a3a" stroke-width="0.35"/>
<circle cx="577.6" cy="295.8" r="2.4" fill="#fcb1ab" stroke="#3a3a3a" stroke-width="0.35"/>
<circle cx="579.4" cy="296.3" r="2.4" fill="#dd9754" stroke="#3a3a3a" stroke-width="0.35"/>
<circle cx="580.3" cy="295.8" r="2.4" fill="#f9a588" stroke="#3a3a3a" stroke-width="0.35"/>
<circle cx="547.4" cy="294.9" r="2.4" fill="#52744a" stroke="#3a3a3a" stroke-width="0.35"/>
<circle cx="547.4" cy="297.2" r="2.4" fill="#27605e" stroke="#3a3a3a" stroke-width="0.35"/>
<circle cx="544.2" cy="296.7" r="2.4" fill="#134661" stroke="#3a3a3a" stroke-width="0.35"/>
<circle cx="551.1" cy="294.0" r="2.4" fill="#52744a" stroke="#3a3a3a" stroke-width="0.35"/>
<circle cx="549.3" cy="297.2" r="2.4" fill="#52744a" stroke="#3a3a3a" stroke-width="0.35"/>
<circle cx="554.4" cy="294.4" r="2.4" fill="#52744a" stroke="#3a3a3a" stroke-width="0.35"/>
<circle cx="558.1" cy="295.3" r="2.4" fill="#52744a" stroke="#3a3a3a" stroke-width="0.35"/>
<circle cx="554.8" cy="298.1" r="2.4" fill="#27605e" stroke="#3a3a3a" stroke-width="0.35"/>
<circle cx="560.9" cy="297.2" r="2.4" fill="#a48a2e" stroke="#3a3a3a" stroke-width="0.35"/>
<circle cx="565.0" cy="295.3" r="2.4" fill="#a48a2e" stroke="#3a3a3a" stroke-width="0.35"/>
<circle cx="562.3" cy="297.2" r="2.4" fill="#a48a2e" stroke="#3a3a3a" stroke-width="0.35"/>
<circle cx="569.2" cy="295.3" r="2.4" fill="#a48a2e" stroke="#3a3a3a" stroke-width="0.35"/>
<circle cx="567.8" cy="297.7" r="2.4" fill="#a48a2e" stroke="#3a3a3a" stroke-width="0.35"/>
<circle cx="566.0" cy="298.6" r="2.4" fill="#fcb1ab" stroke="#3a3a3a" stroke-width="0.35"/>
<circle cx="572.9" cy="295.8" r="2.4" fill="#dd9754" stroke="#3a3a3a" stroke-width="0.35"/>
<circle cx="570.1" cy="297.2" r="2.4" fill="#a48a2e" stroke="#3a3a3a" stroke-width="0.35"/>
<circle cx="576.2" cy="297.2" r="2.4" fill="#dd9754" stroke="#3a3a3a" stroke-width="0.35"/>
<circle cx="574.8" cy="298.6" r="2.4" fill="#dd9754" stroke="#3a3a3a" stroke-width="0.35"/>
<circle cx="576.6" cy="299.1" r="2.4" fill="#fcb1ab" stroke="#3a3a3a" stroke-width="0.35"/>
<circle cx="579.0" cy="299.8" r="2.4" fill="#27605e" stroke="#3a3a3a" stroke-width="0.35"/>
<circle cx="577.6" cy="301.1" r="2.4" fill="#f7c4d8" stroke="#3a3a3a" stroke-width="0.35"/>
<circle cx="572.9" cy="301.4" r="2.4" fill="#f7c4d8" stroke="#3a3a3a" stroke-width="0.35"/>
<circle cx="573.9" cy="301.8" r="2.4" fill="#f7c4d8" stroke="#3a3a3a" stroke-width="0.35"/>
<circle cx="575.1" cy="302.1" r="2.4" fill="#f7c4d8" stroke="#3a3a3a" stroke-width="0.35"/>
<circle cx="577.4" cy="302.8" r="2.4" fill="#27605e" stroke="#3a3a3a" stroke-width="0.35"/>
<circle cx="566.9" cy="300.4" r="2.4" fill="#fcb1ab" stroke="#3a3a3a" stroke-width="0.35"/>
<circle cx="569.7" cy="300.9" r="2.4" fill="#f7c4d8" stroke="#3a3a3a" stroke-width="0.35"/>
<circle cx="570.6" cy="301.4" r="2.4" fill="#fcb1ab" stroke="#3a3a3a" stroke-width="0.35"/>
<circle cx="567.8" cy="301.6" r="2.4" fill="#fcb1ab" stroke="#3a3a3a" stroke-width="0.35"/>
<circle cx="567.8" cy="301.8" r="2.4" fill="#fcb1ab" stroke="#3a3a3a" stroke-width="0.35"/>
<circle cx="563.2" cy="300.4" r="2.4" fill="#fcb1ab" stroke="#3a3a3a" stroke-width="0.35"/>
<circle cx="568.8" cy="303.0" r="2.4" fill="#f9a588" stroke="#3a3a3a" stroke-width="0.35"/>
<circle cx="569.2" cy="304.6" r="2.4" fill="#f7c4d8" stroke="#3a3a3a" stroke-width="0.35"/>
<circle cx="572.7" cy="303.0" r="2.4" fill="#f7c4d8" stroke="#3a3a3a" stroke-width="0.35"/>
<circle cx="569.7" cy="303.5" r="2.4" fill="#f7c4d8" stroke="#3a3a3a" stroke-width="0.35"/>
<circle cx="570.1" cy="305.1" r="2.4" fill="#f7c4d8" stroke="#3a3a3a" stroke-width="0.35"/>
<circle cx="564.6" cy="305.3" r="2.4" fill="#a48a2e" stroke="#3a3a3a" stroke-width="0.35"/>
<circle cx="567.4" cy="305.3" r="2.4" fill="#f9a588" stroke="#3a3a3a" stroke-width="0.35"/>
<circle cx="559.9" cy="300.4" r="2.4" fill="#a48a2e" stroke="#3a3a3a" stroke-width="0.35"/>
<circle cx="556.2" cy="300.9" r="2.4" fill="#a48a2e" stroke="#3a3a3a" stroke-width="0.35"/>
<circle cx="558.5" cy="303.2" r="2.4" fill="#a48a2e" stroke="#3a3a3a" stroke-width="0.35"/>
<circle cx="556.0" cy="302.1" r="2.4" fill="#a48a2e" stroke="#3a3a3a" stroke-width="0.35"/>
<circle cx="551.6" cy="300.0" r="2.4" fill="#52744a" stroke="#3a3a3a" stroke-width="0.35"/>
<circle cx="553.0" cy="302.8" r="2.4" fill="#27605e" stroke="#3a3a3a" stroke-width="0.35"/>
<circle cx="547.0" cy="300.9" r="2.4" fill="#a48a2e" stroke="#3a3a3a" stroke-width="0.35"/>
<circle cx="548.8" cy="302.3" r="2.4" fill="#dd9754" stroke="#3a3a3a" stroke-width="0.35"/>
<circle cx="548.2" cy="301.2" r="2.4" fill="#52744a" stroke="#3a3a3a" stroke-width="0.35"/>
<circle cx="551.4" cy="301.2" r="2.4" fill="#27605e" stroke="#3a3a3a" stroke-width="0.35"/>
<circle cx="543.7" cy="300.4" r="2.4" fill="#a48a2e" stroke="#3a3a3a" stroke-width="0.35"/>
<circle cx="542.3" cy="300.9" r="2.4" fill="#142a5c" stroke="#3a3a3a" stroke-width="0.35"/>
<circle cx="544.9" cy="300.7" r="2.4" fill="#134661" stroke="#3a3a3a" stroke-width="0.35"/>
<circle cx="546.5" cy="303.7" r="2.4" fill="#dd9754" stroke="#3a3a3a" stroke-width="0.35"/>
<circle cx="545.1" cy="304.6" r="2.4" fill="#a48a2e" stroke="#3a3a3a" stroke-width="0.35"/>
<circle cx="550.2" cy="305.1" r="2.4" fill="#dd9754" stroke="#3a3a3a" stroke-width="0.35"/>
<circle cx="547.0" cy="306.0" r="2.4" fill="#dd9754" stroke="#3a3a3a" stroke-width="0.35"/>
<circle cx="550.9" cy="303.9" r="2.4" fill="#27605e" stroke="#3a3a3a" stroke-width="0.35"/>
<circle cx="543.7" cy="305.1" r="2.4" fill="#142a5c" stroke="#3a3a3a" stroke-width="0.35"/>
<circle cx="544.5" cy="303.0" r="2.4" fill="#142a5c" stroke="#3a3a3a" stroke-width="0.35"/>
<circle cx="553.9" cy="306.7" r="2.4" fill="#dd9754" stroke="#3a3a3a" stroke-width="0.35"/>
<circle cx="549.6" cy="303.9" r="2.4" fill="#52744a" stroke="#3a3a3a" stroke-width="0.35"/>
<circle cx="560.4" cy="306.0" r="2.4" fill="#a48a2e" stroke="#3a3a3a" stroke-width="0.35"/>
<circle cx="557.2" cy="306.7" r="2.4" fill="#a48a2e" stroke="#3a3a3a" stroke-width="0.35"/>
<circle cx="558.8" cy="307.6" r="2.4" fill="#fcb1ab" stroke="#3a3a3a" stroke-width="0.35"/>
<circle cx="556.0" cy="303.9" r="2.4" fill="#27605e" stroke="#3a3a3a" stroke-width="0.35"/>
<circle cx="565.0" cy="306.9" r="2.4" fill="#f7c4d8" stroke="#3a3a3a" stroke-width="0.35"/>
<circle cx="560.7" cy="308.6" r="2.4" fill="#fcb1ab" stroke="#3a3a3a" stroke-width="0.35"/>
<circle cx="557.4" cy="309.3" r="2.4" fill="#fcb1ab" stroke="#3a3a3a" stroke-width="0.35"/>
<circle cx="553.7" cy="310.2" r="2.4" fill="#fcb1ab" stroke="#3a3a3a" stroke-width="0.35"/>
<circle cx="554.7" cy="305.6" r="2.4" fill="#27605e" stroke="#3a3a3a" stroke-width="0.35"/>
<circle cx="544.9" cy="309.0" r="2.4" fill="#dd9754" stroke="#3a3a3a" stroke-width="0.35"/>
<circle cx="546.3" cy="304.9" r="2.4" fill="#52744a" stroke="#3a3a3a" stroke-width="0.35"/>
<circle cx="557.7" cy="312.3" r="2.4" fill="#fcb1ab" stroke="#3a3a3a" stroke-width="0.35"/>
<circle cx="554.0" cy="313.2" r="2.4" fill="#fcb1ab" stroke="#3a3a3a" stroke-width="0.35"/>
<circle cx="549.8" cy="313.4" r="2.4" fill="#fcb1ab" stroke="#3a3a3a" stroke-width="0.35"/>
<circle cx="557.7" cy="316.0" r="2.4" fill="#dd9754" stroke="#3a3a3a" stroke-width="0.35"/>
<circle cx="555.4" cy="317.2" r="2.4" fill="#27605e" stroke="#3a3a3a" stroke-width="0.35"/>
<circle cx="556.8" cy="318.8" r="2.4" fill="#27605e" stroke="#3a3a3a" stroke-width="0.35"/>
<circle cx="558.4" cy="320.2" r="2.4" fill="#fcb1ab" stroke="#3a3a3a" stroke-width="0.35"/>
<circle cx="559.8" cy="320.6" r="2.4" fill="#fcb1ab" stroke="#3a3a3a" stroke-width="0.35"/>
<circle cx="556.1" cy="321.3" r="2.4" fill="#fcb1ab" stroke="#3a3a3a" stroke-width="0.35"/>
<circle cx="553.5" cy="322.0" r="2.4" fill="#27605e" stroke="#3a3a3a" stroke-width="0.35"/>
<circle cx="555.2" cy="323.4" r="2.4" fill="#fcb1ab" stroke="#3a3a3a" stroke-width="0.35"/>
<circle cx="548.4" cy="325.3" r="2.4" fill="#a48a2e" stroke="#3a3a3a" stroke-width="0.35"/>
<circle cx="551.2" cy="325.0" r="2.4" fill="#dd9754" stroke="#3a3a3a" stroke-width="0.35"/>
<circle cx="545.7" cy="323.9" r="2.4" fill="#a48a2e" stroke="#3a3a3a" stroke-width="0.35"/>
<circle cx="547.5" cy="322.0" r="2.4" fill="#a48a2e" stroke="#3a3a3a" stroke-width="0.35"/>
<circle cx="549.8" cy="324.3" r="2.4" fill="#a48a2e" stroke="#3a3a3a" stroke-width="0.35"/>
<circle cx="542.4" cy="323.7" r="2.4" fill="#a48a2e" stroke="#3a3a3a" stroke-width="0.35"/>
<circle cx="546.1" cy="321.3" r="2.4" fill="#a48a2e" stroke="#3a3a3a" stroke-width="0.35"/>
<circle cx="544.3" cy="320.9" r="2.4" fill="#a48a2e" stroke="#3a3a3a" stroke-width="0.35"/>
<circle cx="539.6" cy="322.3" r="2.4" fill="#a48a2e" stroke="#3a3a3a" stroke-width="0.35"/>
<circle cx="546.1" cy="319.0" r="2.4" fill="#142a5c" stroke="#3a3a3a" stroke-width="0.35"/>
<circle cx="548.0" cy="317.2" r="2.4" fill="#a48a2e" stroke="#3a3a3a" stroke-width="0.35"/>
<circle cx="546.1" cy="316.7" r="2.4" fill="#142a5c" stroke="#3a3a3a" stroke-width="0.35"/>
<circle cx="541.5" cy="319.5" r="2.4" fill="#142a5c" stroke="#3a3a3a" stroke-width="0.35"/>
<circle cx="538.2" cy="318.1" r="2.4" fill="#52744a" stroke="#3a3a3a" stroke-width="0.35"/>
<circle cx="546.1" cy="313.0" r="2.4" fill="#f9a588" stroke="#3a3a3a" stroke-width="0.35"/>
<circle cx="598.4" cy="243.2" r="2.4" fill="#52744a" stroke="#3a3a3a" stroke-width="0.35"/>
<circle cx="594.4" cy="270.2" r="2.4" fill="#a48a2e" stroke="#3a3a3a" stroke-width="0.35"/>
<circle cx="594.8" cy="271.6" r="2.4" fill="#dd9754" stroke="#3a3a3a" stroke-width="0.35"/>
<circle cx="588.0" cy="275.6" r="2.4" fill="#a48a2e" stroke="#3a3a3a" stroke-width="0.35"/>
<circle cx="591.7" cy="275.6" r="2.4" fill="#dd9754" stroke="#3a3a3a" stroke-width="0.35"/>
<circle cx="484.9" cy="292.4" r="2.4" fill="#142a5c" stroke="#3a3a3a" stroke-width="0.35"/>
<circle cx="498.3" cy="297.0" r="2.4" fill="#27605e" stroke="#3a3a3a" stroke-width="0.35"/>
<circle cx="496.0" cy="303.8" r="2.4" fill="#134661" stroke="#3a3a3a" stroke-width="0.35"/>
<circle cx="500.2" cy="306.7" r="2.4" fill="#134661" stroke="#3a3a3a" stroke-width="0.35"/>
<circle cx="502.5" cy="304.9" r="2.4" fill="#27605e" stroke="#3a3a3a" stroke-width="0.35"/>
<circle cx="504.8" cy="304.0" r="2.4" fill="#27605e" stroke="#3a3a3a" stroke-width="0.35"/>
<circle cx="509.9" cy="303.0" r="2.4" fill="#142a5c" stroke="#3a3a3a" stroke-width="0.35"/>
<circle cx="512.3" cy="305.8" r="2.4" fill="#dd9754" stroke="#3a3a3a" stroke-width="0.35"/>
<circle cx="513.2" cy="297.9" r="2.4" fill="#27605e" stroke="#3a3a3a" stroke-width="0.35"/>
<circle cx="516.4" cy="298.9" r="2.4" fill="#134661" stroke="#3a3a3a" stroke-width="0.35"/>
<circle cx="518.8" cy="297.9" r="2.4" fill="#52744a" stroke="#3a3a3a" stroke-width="0.35"/>
<circle cx="520.6" cy="301.2" r="2.4" fill="#7e8136" stroke="#3a3a3a" stroke-width="0.35"/>
<circle cx="519.7" cy="304.4" r="2.4" fill="#a48a2e" stroke="#3a3a3a" stroke-width="0.35"/>
<circle cx="519.2" cy="309.1" r="2.4" fill="#27605e" stroke="#3a3a3a" stroke-width="0.35"/>
<circle cx="511.8" cy="313.7" r="2.4" fill="#a48a2e" stroke="#3a3a3a" stroke-width="0.35"/>
<circle cx="524.3" cy="315.5" r="2.4" fill="#a48a2e" stroke="#3a3a3a" stroke-width="0.35"/>
<circle cx="528.0" cy="317.9" r="2.4" fill="#142a5c" stroke="#3a3a3a" stroke-width="0.35"/>
<circle cx="536.4" cy="279.4" r="2.4" fill="#142a5c" stroke="#3a3a3a" stroke-width="0.35"/>
<circle cx="538.7" cy="280.8" r="2.4" fill="#142a5c" stroke="#3a3a3a" stroke-width="0.35"/>
<circle cx="535.9" cy="289.1" r="2.4" fill="#142a5c" stroke="#3a3a3a" stroke-width="0.35"/>
<circle cx="541.0" cy="285.9" r="2.4" fill="#27605e" stroke="#3a3a3a" stroke-width="0.35"/>
<circle cx="543.8" cy="285.9" r="2.4" fill="#27605e" stroke="#3a3a3a" stroke-width="0.35"/>
<circle cx="530.8" cy="293.3" r="2.4" fill="#142a5c" stroke="#3a3a3a" stroke-width="0.35"/>
<circle cx="526.2" cy="297.9" r="2.4" fill="#27605e" stroke="#3a3a3a" stroke-width="0.35"/>
<circle cx="529.0" cy="296.5" r="2.4" fill="#52744a" stroke="#3a3a3a" stroke-width="0.35"/>
<circle cx="532.7" cy="298.4" r="2.4" fill="#52744a" stroke="#3a3a3a" stroke-width="0.35"/>
<circle cx="534.5" cy="300.2" r="2.4" fill="#27605e" stroke="#3a3a3a" stroke-width="0.35"/>
<circle cx="529.0" cy="304.0" r="2.4" fill="#a48a2e" stroke="#3a3a3a" stroke-width="0.35"/>
<circle cx="528.0" cy="307.7" r="2.4" fill="#a48a2e" stroke="#3a3a3a" stroke-width="0.35"/>
<circle cx="530.8" cy="310.4" r="2.4" fill="#7e8136" stroke="#3a3a3a" stroke-width="0.35"/>
<circle cx="529.0" cy="313.2" r="2.4" fill="#a48a2e" stroke="#3a3a3a" stroke-width="0.35"/>
<circle cx="533.6" cy="313.2" r="2.4" fill="#52744a" stroke="#3a3a3a" stroke-width="0.35"/>
<circle cx="537.3" cy="311.4" r="2.4" fill="#f9a588" stroke="#3a3a3a" stroke-width="0.35"/>
<circle cx="540.1" cy="311.4" r="2.4" fill="#f9a588" stroke="#3a3a3a" stroke-width="0.35"/>
<circle cx="538.2" cy="302.1" r="2.4" fill="#134661" stroke="#3a3a3a" stroke-width="0.35"/>
<circle cx="541.9" cy="300.2" r="2.4" fill="#52744a" stroke="#3a3a3a" stroke-width="0.35"/>
<circle cx="541.9" cy="292.8" r="2.4" fill="#7e8136" stroke="#3a3a3a" stroke-width="0.35"/>
<circle cx="543.8" cy="295.6" r="2.4" fill="#27605e" stroke="#3a3a3a" stroke-width="0.35"/>
<circle cx="540.1" cy="304.9" r="2.4" fill="#142a5c" stroke="#3a3a3a" stroke-width="0.35"/>
<circle cx="541.9" cy="307.7" r="2.4" fill="#a48a2e" stroke="#3a3a3a" stroke-width="0.35"/>
<circle cx="543.8" cy="304.0" r="2.4" fill="#f9a588" stroke="#3a3a3a" stroke-width="0.35"/>
<circle cx="536.4" cy="316.9" r="2.4" fill="#7e8136" stroke="#3a3a3a" stroke-width="0.35"/>
<circle cx="541.0" cy="316.9" r="2.4" fill="#7e8136" stroke="#3a3a3a" stroke-width="0.35"/>
<circle cx="543.8" cy="315.1" r="2.4" fill="#7e8136" stroke="#3a3a3a" stroke-width="0.35"/>
<circle cx="544.7" cy="274.3" r="2.4" fill="#142a5c" stroke="#3a3a3a" stroke-width="0.35"/>
<circle cx="581.3" cy="262.9" r="2.4" fill="#142a5c" stroke="#3a3a3a" stroke-width="0.35"/>
<circle cx="590.5" cy="255.9" r="2.4" fill="#27605e" stroke="#3a3a3a" stroke-width="0.35"/>
<circle cx="590.1" cy="261.0" r="2.4" fill="#7e8136" stroke="#3a3a3a" stroke-width="0.35"/>
<circle cx="593.3" cy="257.8" r="2.4" fill="#52744a" stroke="#3a3a3a" stroke-width="0.35"/>
<circle cx="546.5" cy="274.5" r="2.4" fill="#142a5c" stroke="#3a3a3a" stroke-width="0.35"/>
<circle cx="562.3" cy="272.2" r="2.4" fill="#142a5c" stroke="#3a3a3a" stroke-width="0.35"/>
<circle cx="578.5" cy="272.2" r="2.4" fill="#134661" stroke="#3a3a3a" stroke-width="0.35"/>
<circle cx="583.6" cy="269.8" r="2.4" fill="#52744a" stroke="#3a3a3a" stroke-width="0.35"/>
<circle cx="587.3" cy="268.9" r="2.4" fill="#27605e" stroke="#3a3a3a" stroke-width="0.35"/>
<circle cx="591.0" cy="267.1" r="2.4" fill="#a48a2e" stroke="#3a3a3a" stroke-width="0.35"/>
<circle cx="593.8" cy="268.9" r="2.4" fill="#a48a2e" stroke="#3a3a3a" stroke-width="0.35"/>
<circle cx="588.2" cy="273.5" r="2.4" fill="#a48a2e" stroke="#3a3a3a" stroke-width="0.35"/>
<circle cx="591.9" cy="273.5" r="2.4" fill="#a48a2e" stroke="#3a3a3a" stroke-width="0.35"/>
<circle cx="593.8" cy="277.3" r="2.4" fill="#a48a2e" stroke="#3a3a3a" stroke-width="0.35"/>
<circle cx="586.4" cy="278.2" r="2.4" fill="#a48a2e" stroke="#3a3a3a" stroke-width="0.35"/>
<circle cx="588.2" cy="281.0" r="2.4" fill="#dd9754" stroke="#3a3a3a" stroke-width="0.35"/>
<circle cx="591.9" cy="279.1" r="2.4" fill="#a48a2e" stroke="#3a3a3a" stroke-width="0.35"/>
<circle cx="580.8" cy="273.5" r="2.4" fill="#52744a" stroke="#3a3a3a" stroke-width="0.35"/>
<circle cx="577.1" cy="276.3" r="2.4" fill="#27605e" stroke="#3a3a3a" stroke-width="0.35"/>
<circle cx="575.2" cy="280.0" r="2.4" fill="#52744a" stroke="#3a3a3a" stroke-width="0.35"/>
<circle cx="571.5" cy="278.2" r="2.4" fill="#27605e" stroke="#3a3a3a" stroke-width="0.35"/>
<circle cx="563.2" cy="278.2" r="2.4" fill="#134661" stroke="#3a3a3a" stroke-width="0.35"/>
<circle cx="566.0" cy="279.1" r="2.4" fill="#134661" stroke="#3a3a3a" stroke-width="0.35"/>
<circle cx="561.3" cy="281.9" r="2.4" fill="#134661" stroke="#3a3a3a" stroke-width="0.35"/>
<circle cx="568.8" cy="282.4" r="2.4" fill="#134661" stroke="#3a3a3a" stroke-width="0.35"/>
<circle cx="555.8" cy="281.9" r="2.4" fill="#7e8136" stroke="#3a3a3a" stroke-width="0.35"/>
<circle cx="552.1" cy="285.6" r="2.4" fill="#134661" stroke="#3a3a3a" stroke-width="0.35"/>
<circle cx="548.3" cy="284.7" r="2.4" fill="#142a5c" stroke="#3a3a3a" stroke-width="0.35"/>
<circle cx="546.5" cy="290.2" r="2.4" fill="#142a5c" stroke="#3a3a3a" stroke-width="0.35"/>
<circle cx="550.2" cy="289.8" r="2.4" fill="#27605e" stroke="#3a3a3a" stroke-width="0.35"/>
<circle cx="555.8" cy="287.5" r="2.4" fill="#27605e" stroke="#3a3a3a" stroke-width="0.35"/>
<circle cx="558.5" cy="290.2" r="2.4" fill="#134661" stroke="#3a3a3a" stroke-width="0.35"/>
<circle cx="562.3" cy="287.5" r="2.4" fill="#52744a" stroke="#3a3a3a" stroke-width="0.35"/>
<circle cx="566.0" cy="286.5" r="2.4" fill="#7e8136" stroke="#3a3a3a" stroke-width="0.35"/>
<circle cx="572.5" cy="284.7" r="2.4" fill="#a48a2e" stroke="#3a3a3a" stroke-width="0.35"/>
<circle cx="574.3" cy="285.6" r="2.4" fill="#dd9754" stroke="#3a3a3a" stroke-width="0.35"/>
<circle cx="579.0" cy="284.7" r="2.4" fill="#a48a2e" stroke="#3a3a3a" stroke-width="0.35"/>
<circle cx="581.7" cy="285.6" r="2.4" fill="#a48a2e" stroke="#3a3a3a" stroke-width="0.35"/>
<circle cx="582.7" cy="288.4" r="2.4" fill="#a48a2e" stroke="#3a3a3a" stroke-width="0.35"/>
<circle cx="575.2" cy="290.2" r="2.4" fill="#a48a2e" stroke="#3a3a3a" stroke-width="0.35"/>
<circle cx="570.6" cy="290.2" r="2.4" fill="#52744a" stroke="#3a3a3a" stroke-width="0.35"/>
<circle cx="565.0" cy="292.1" r="2.4" fill="#a48a2e" stroke="#3a3a3a" stroke-width="0.35"/>
<circle cx="577.1" cy="294.0" r="2.4" fill="#dd9754" stroke="#3a3a3a" stroke-width="0.35"/>
<circle cx="580.8" cy="294.9" r="2.4" fill="#dd9754" stroke="#3a3a3a" stroke-width="0.35"/>
<circle cx="582.7" cy="294.0" r="2.4" fill="#f9a588" stroke="#3a3a3a" stroke-width="0.35"/>
<circle cx="545.6" cy="294.9" r="2.4" fill="#27605e" stroke="#3a3a3a" stroke-width="0.35"/>
<circle cx="549.3" cy="294.9" r="2.4" fill="#52744a" stroke="#3a3a3a" stroke-width="0.35"/>
<circle cx="553.0" cy="293.0" r="2.4" fill="#134661" stroke="#3a3a3a" stroke-width="0.35"/>
<circle cx="555.8" cy="295.8" r="2.4" fill="#52744a" stroke="#3a3a3a" stroke-width="0.35"/>
<circle cx="560.4" cy="294.9" r="2.4" fill="#134661" stroke="#3a3a3a" stroke-width="0.35"/>
<circle cx="563.2" cy="294.9" r="2.4" fill="#a48a2e" stroke="#3a3a3a" stroke-width="0.35"/>
<circle cx="566.9" cy="295.8" r="2.4" fill="#a48a2e" stroke="#3a3a3a" stroke-width="0.35"/>
<circle cx="571.5" cy="294.9" r="2.4" fill="#a48a2e" stroke="#3a3a3a" stroke-width="0.35"/>
<circle cx="574.3" cy="296.7" r="2.4" fill="#dd9754" stroke="#3a3a3a" stroke-width="0.35"/>
<circle cx="578.0" cy="297.7" r="2.4" fill="#fcb1ab" stroke="#3a3a3a" stroke-width="0.35"/>
<circle cx="575.2" cy="300.4" r="2.4" fill="#f7c4d8" stroke="#3a3a3a" stroke-width="0.35"/>
<circle cx="579.9" cy="301.8" r="2.4" fill="#27605e" stroke="#3a3a3a" stroke-width="0.35"/>
<circle cx="584.5" cy="304.6" r="2.4" fill="#f7c4d8" stroke="#3a3a3a" stroke-width="0.35"/>
<circle cx="568.8" cy="299.5" r="2.4" fill="#fcb1ab" stroke="#3a3a3a" stroke-width="0.35"/>
<circle cx="565.0" cy="301.4" r="2.4" fill="#fcb1ab" stroke="#3a3a3a" stroke-width="0.35"/>
<circle cx="570.6" cy="302.3" r="2.4" fill="#f7c4d8" stroke="#3a3a3a" stroke-width="0.35"/>
<circle cx="572.5" cy="303.2" r="2.4" fill="#f7c4d8" stroke="#3a3a3a" stroke-width="0.35"/>
<circle cx="566.9" cy="303.7" r="2.4" fill="#f9a588" stroke="#3a3a3a" stroke-width="0.35"/>
<circle cx="561.3" cy="299.5" r="2.4" fill="#a48a2e" stroke="#3a3a3a" stroke-width="0.35"/>
<circle cx="558.5" cy="301.4" r="2.4" fill="#a48a2e" stroke="#3a3a3a" stroke-width="0.35"/>
<circle cx="553.9" cy="300.4" r="2.4" fill="#27605e" stroke="#3a3a3a" stroke-width="0.35"/>
<circle cx="549.3" cy="299.5" r="2.4" fill="#52744a" stroke="#3a3a3a" stroke-width="0.35"/>
<circle cx="542.8" cy="298.6" r="2.4" fill="#134661" stroke="#3a3a3a" stroke-width="0.35"/>
<circle cx="544.6" cy="302.3" r="2.4" fill="#a48a2e" stroke="#3a3a3a" stroke-width="0.35"/>
<circle cx="548.3" cy="305.1" r="2.4" fill="#dd9754" stroke="#3a3a3a" stroke-width="0.35"/>
<circle cx="541.9" cy="303.2" r="2.4" fill="#142a5c" stroke="#3a3a3a" stroke-width="0.35"/>
<circle cx="552.1" cy="305.1" r="2.4" fill="#a48a2e" stroke="#3a3a3a" stroke-width="0.35"/>
<circle cx="558.5" cy="305.1" r="2.4" fill="#a48a2e" stroke="#3a3a3a" stroke-width="0.35"/>
<circle cx="562.3" cy="306.9" r="2.4" fill="#a48a2e" stroke="#3a3a3a" stroke-width="0.35"/>
<circle cx="567.8" cy="306.9" r="2.4" fill="#f7c4d8" stroke="#3a3a3a" stroke-width="0.35"/>
<circle cx="555.8" cy="308.3" r="2.4" fill="#dd9754" stroke="#3a3a3a" stroke-width="0.35"/>
<circle cx="545.6" cy="306.9" r="2.4" fill="#dd9754" stroke="#3a3a3a" stroke-width="0.35"/>
<circle cx="574.9" cy="303.7" r="2.4" fill="#fcb1ab" stroke="#3a3a3a" stroke-width="0.35"/>
<circle cx="566.5" cy="311.1" r="2.4" fill="#142a5c" stroke="#3a3a3a" stroke-width="0.35"/>
<circle cx="567.5" cy="313.0" r="2.4" fill="#f7c4d8" stroke="#3a3a3a" stroke-width="0.35"/>
<circle cx="559.1" cy="310.2" r="2.4" fill="#fcb1ab" stroke="#3a3a3a" stroke-width="0.35"/>
<circle cx="551.7" cy="312.1" r="2.4" fill="#fcb1ab" stroke="#3a3a3a" stroke-width="0.35"/>
<circle cx="556.3" cy="314.4" r="2.4" fill="#dd9754" stroke="#3a3a3a" stroke-width="0.35"/>
<circle cx="559.1" cy="317.6" r="2.4" fill="#134661" stroke="#3a3a3a" stroke-width="0.35"/>
<circle cx="561.9" cy="318.5" r="2.4" fill="#52744a" stroke="#3a3a3a" stroke-width="0.35"/>
<circle cx="564.7" cy="319.5" r="2.4" fill="#7e8136" stroke="#3a3a3a" stroke-width="0.35"/>
<circle cx="567.9" cy="320.9" r="2.4" fill="#7e8136" stroke="#3a3a3a" stroke-width="0.35"/>
<circle cx="571.2" cy="324.6" r="2.4" fill="#a48a2e" stroke="#3a3a3a" stroke-width="0.35"/>
<circle cx="575.3" cy="319.5" r="2.4" fill="#f9a588" stroke="#3a3a3a" stroke-width="0.35"/>
<circle cx="554.5" cy="319.9" r="2.4" fill="#27605e" stroke="#3a3a3a" stroke-width="0.35"/>
<circle cx="557.7" cy="322.7" r="2.4" fill="#fcb1ab" stroke="#3a3a3a" stroke-width="0.35"/>
<circle cx="561.9" cy="327.8" r="2.4" fill="#f9a588" stroke="#3a3a3a" stroke-width="0.35"/>
<circle cx="564.2" cy="329.7" r="2.4" fill="#7e8136" stroke="#3a3a3a" stroke-width="0.35"/>
<circle cx="551.7" cy="327.8" r="2.4" fill="#dd9754" stroke="#3a3a3a" stroke-width="0.35"/>
<circle cx="549.8" cy="326.0" r="2.4" fill="#dd9754" stroke="#3a3a3a" stroke-width="0.35"/>
<circle cx="547.1" cy="324.6" r="2.4" fill="#a48a2e" stroke="#3a3a3a" stroke-width="0.35"/>
<circle cx="544.3" cy="323.2" r="2.4" fill="#a48a2e" stroke="#3a3a3a" stroke-width="0.35"/>
<circle cx="540.6" cy="324.1" r="2.4" fill="#a48a2e" stroke="#3a3a3a" stroke-width="0.35"/>
<circle cx="535.9" cy="323.2" r="2.4" fill="#a48a2e" stroke="#3a3a3a" stroke-width="0.35"/>
<circle cx="548.0" cy="319.5" r="2.4" fill="#a48a2e" stroke="#3a3a3a" stroke-width="0.35"/>
<circle cx="544.3" cy="318.5" r="2.4" fill="#142a5c" stroke="#3a3a3a" stroke-width="0.35"/>
<circle cx="537.8" cy="315.8" r="2.4" fill="#52744a" stroke="#3a3a3a" stroke-width="0.35"/>
<circle cx="544.3" cy="311.1" r="2.4" fill="#f9a588" stroke="#3a3a3a" stroke-width="0.35"/>
<circle cx="547.1" cy="302.8" r="2.4" fill="#52744a" stroke="#3a3a3a" stroke-width="0.35"/>
<circle cx="553.5" cy="302.8" r="2.4" fill="#27605e" stroke="#3a3a3a" stroke-width="0.35"/>
<circle cx="548.0" cy="314.8" r="2.4" fill="#52744a" stroke="#3a3a3a" stroke-width="0.35"/>
<circle cx="552.6" cy="324.1" r="2.4" fill="#dd9754" stroke="#3a3a3a" stroke-width="0.35"/>
<circle cx="538.7" cy="320.4" r="2.4" fill="#52744a" stroke="#3a3a3a" stroke-width="0.35"/>
<circle cx="605.2" cy="219.5" r="2.4" fill="#27605e" stroke="#3a3a3a" stroke-width="0.35"/>
<circle cx="602.8" cy="226.2" r="2.4" fill="#134661" stroke="#3a3a3a" stroke-width="0.35"/>
<circle cx="598.0" cy="229.9" r="2.4" fill="#134661" stroke="#3a3a3a" stroke-width="0.35"/>
<circle cx="605.9" cy="232.5" r="2.4" fill="#a48a2e" stroke="#3a3a3a" stroke-width="0.35"/>
<circle cx="598.0" cy="235.5" r="2.4" fill="#134661" stroke="#3a3a3a" stroke-width="0.35"/>
<circle cx="601.7" cy="238.8" r="2.4" fill="#52744a" stroke="#3a3a3a" stroke-width="0.35"/>
<circle cx="599.8" cy="241.5" r="2.4" fill="#52744a" stroke="#3a3a3a" stroke-width="0.35"/>
<circle cx="597.1" cy="244.8" r="2.4" fill="#27605e" stroke="#3a3a3a" stroke-width="0.35"/>
<circle cx="601.2" cy="245.7" r="2.4" fill="#52744a" stroke="#3a3a3a" stroke-width="0.35"/>
<circle cx="591.5" cy="247.6" r="2.4" fill="#134661" stroke="#3a3a3a" stroke-width="0.35"/>
<circle cx="594.3" cy="249.0" r="2.4" fill="#134661" stroke="#3a3a3a" stroke-width="0.35"/>
<circle cx="591.5" cy="264.3" r="2.4" fill="#7e8136" stroke="#3a3a3a" stroke-width="0.35"/>
<circle cx="599.8" cy="264.3" r="2.4" fill="#f9a588" stroke="#3a3a3a" stroke-width="0.35"/>
<circle cx="604.6" cy="270.2" r="2.4" fill="#dd9754" stroke="#3a3a3a" stroke-width="0.35"/>
<circle cx="595.8" cy="268.9" r="2.4" fill="#a48a2e" stroke="#3a3a3a" stroke-width="0.35"/>
<circle cx="593.1" cy="271.6" r="2.4" fill="#a48a2e" stroke="#3a3a3a" stroke-width="0.35"/>
<circle cx="586.3" cy="274.3" r="2.4" fill="#27605e" stroke="#3a3a3a" stroke-width="0.35"/>
<circle cx="593.8" cy="274.3" r="2.4" fill="#dd9754" stroke="#3a3a3a" stroke-width="0.35"/>
<circle cx="589.7" cy="277.0" r="2.4" fill="#a48a2e" stroke="#3a3a3a" stroke-width="0.35"/>
<circle cx="585.0" cy="285.1" r="2.4" fill="#a48a2e" stroke="#3a3a3a" stroke-width="0.35"/>
<rect x="479.3" y="199.1" width="157.99999999999994" height="157.20000000000002" fill="none" stroke="#555" stroke-width="1"/>
<line x1="476.8" y1="356.30" x2="479.3" y2="356.30" stroke="#555" stroke-width="0.8"/>
<text x="474.0" y="360.30" text-anchor="end" style="font-family:'DejaVu Serif','Liberation Serif',serif;font-size:9.2px;letter-spacing:0.3px">0</text>
<line x1="476.8" y1="330.10" x2="479.3" y2="330.10" stroke="#555" stroke-width="0.8"/>
<text x="474.0" y="334.10" text-anchor="end" style="font-family:'DejaVu Serif','Liberation Serif',serif;font-size:9.2px;letter-spacing:0.3px">5</text>
<line x1="476.8" y1="303.90" x2="479.3" y2="303.90" stroke="#555" stroke-width="0.8"/>
<text x="474.0" y="307.90" text-anchor="end" style="font-family:'DejaVu Serif','Liberation Serif',serif;font-size:9.2px;letter-spacing:0.3px">10</text>
<line x1="476.8" y1="277.70" x2="479.3" y2="277.70" stroke="#555" stroke-width="0.8"/>
<text x="474.0" y="281.70" text-anchor="end" style="font-family:'DejaVu Serif','Liberation Serif',serif;font-size:9.2px;letter-spacing:0.3px">15</text>
<line x1="476.8" y1="251.50" x2="479.3" y2="251.50" stroke="#555" stroke-width="0.8"/>
<text x="474.0" y="255.50" text-anchor="end" style="font-family:'DejaVu Serif','Liberation Serif',serif;font-size:9.2px;letter-spacing:0.3px">20</text>
<line x1="476.8" y1="225.30" x2="479.3" y2="225.30" stroke="#555" stroke-width="0.8"/>
<text x="474.0" y="229.30" text-anchor="end" style="font-family:'DejaVu Serif','Liberation Serif',serif;font-size:9.2px;letter-spacing:0.3px">25</text>
<line x1="476.8" y1="199.10" x2="479.3" y2="199.10" stroke="#555" stroke-width="0.8"/>
<text x="474.0" y="203.10" text-anchor="end" style="font-family:'DejaVu Serif','Liberation Serif',serif;font-size:9.2px;letter-spacing:0.3px">30</text>
<line x1="489.85" y1="356.3" x2="489.85" y2="357.8" stroke="#555" stroke-width="0.6"/>
<line x1="499.47" y1="356.3" x2="499.47" y2="357.8" stroke="#555" stroke-width="0.6"/>
<line x1="506.29" y1="356.3" x2="506.29" y2="357.8" stroke="#555" stroke-width="0.6"/>
<line x1="511.59" y1="356.3" x2="511.59" y2="357.8" stroke="#555" stroke-width="0.6"/>
<line x1="515.91" y1="356.3" x2="515.91" y2="357.8" stroke="#555" stroke-width="0.6"/>
<line x1="519.57" y1="356.3" x2="519.57" y2="357.8" stroke="#555" stroke-width="0.6"/>
<line x1="522.74" y1="356.3" x2="522.74" y2="357.8" stroke="#555" stroke-width="0.6"/>
<line x1="525.53" y1="356.3" x2="525.53" y2="357.8" stroke="#555" stroke-width="0.6"/>
<line x1="528.03" y1="356.3" x2="528.03" y2="358.8" stroke="#555" stroke-width="0.8"/>
<line x1="544.48" y1="356.3" x2="544.48" y2="357.8" stroke="#555" stroke-width="0.6"/>
<line x1="554.10" y1="356.3" x2="554.10" y2="357.8" stroke="#555" stroke-width="0.6"/>
<line x1="560.93" y1="356.3" x2="560.93" y2="357.8" stroke="#555" stroke-width="0.6"/>
<line x1="566.22" y1="356.3" x2="566.22" y2="357.8" stroke="#555" stroke-width="0.6"/>
<line x1="570.55" y1="356.3" x2="570.55" y2="357.8" stroke="#555" stroke-width="0.6"/>
<line x1="574.20" y1="356.3" x2="574.20" y2="357.8" stroke="#555" stroke-width="0.6"/>
<line x1="577.37" y1="356.3" x2="577.37" y2="357.8" stroke="#555" stroke-width="0.6"/>
<line x1="580.17" y1="356.3" x2="580.17" y2="357.8" stroke="#555" stroke-width="0.6"/>
<line x1="582.67" y1="356.3" x2="582.67" y2="358.8" stroke="#555" stroke-width="0.8"/>
<line x1="599.11" y1="356.3" x2="599.11" y2="357.8" stroke="#555" stroke-width="0.6"/>
<line x1="608.73" y1="356.3" x2="608.73" y2="357.8" stroke="#555" stroke-width="0.6"/>
<line x1="615.56" y1="356.3" x2="615.56" y2="357.8" stroke="#555" stroke-width="0.6"/>
<line x1="620.85" y1="356.3" x2="620.85" y2="357.8" stroke="#555" stroke-width="0.6"/>
<line x1="625.18" y1="356.3" x2="625.18" y2="357.8" stroke="#555" stroke-width="0.6"/>
<line x1="628.84" y1="356.3" x2="628.84" y2="357.8" stroke="#555" stroke-width="0.6"/>
<line x1="632.01" y1="356.3" x2="632.01" y2="357.8" stroke="#555" stroke-width="0.6"/>
<line x1="634.80" y1="356.3" x2="634.80" y2="357.8" stroke="#555" stroke-width="0.6"/>
<line x1="528.03" y1="356.3" x2="528.03" y2="358.8" stroke="#555" stroke-width="0.8"/>
<text x="527.23" y="368.30" text-anchor="middle" style="font-family:'DejaVu Serif','Liberation Serif',serif;font-size:9px">10<tspan dy="-3.5" style="font-size:6.3px">−2</tspan></text>
<line x1="582.67" y1="356.3" x2="582.67" y2="358.8" stroke="#555" stroke-width="0.8"/>
<text x="581.87" y="368.30" text-anchor="middle" style="font-family:'DejaVu Serif','Liberation Serif',serif;font-size:9px">10<tspan dy="-3.5" style="font-size:6.3px">−1</tspan></text>
<line x1="637.30" y1="356.3" x2="637.30" y2="358.8" stroke="#555" stroke-width="0.8"/>
<text x="636.50" y="368.30" text-anchor="middle" style="font-family:'DejaVu Serif','Liberation Serif',serif;font-size:9px">10<tspan dy="-3.5" style="font-size:6.3px">0</tspan></text>
<text x="558.3" y="379.6" text-anchor="middle" style="font-family:'DejaVu Serif','Liberation Serif',serif;font-size:9px"><tspan style="font-style:italic">α</tspan> [-]</text>
<text transform="translate(456.9,276.7) rotate(-90)" text-anchor="middle" style="font-family:'DejaVu Serif','Liberation Serif',serif;font-size:9px;letter-spacing:0.15px">ΔnCAC in €/t<tspan dy="2" style="font-size:6.3px">CO<tspan dy="1.2" style="font-size:4.5px">2</tspan></tspan></text>
<defs><linearGradient id="cbr1" x1="0" y1="0" x2="0" y2="1"><stop offset="0.000" stop-color="#16225a"/><stop offset="0.050" stop-color="#132f5d"/><stop offset="0.100" stop-color="#113c5f"/><stop offset="0.150" stop-color="#144861"/><stop offset="0.200" stop-color="#1a5562"/><stop offset="0.250" stop-color="#245f5f"/><stop offset="0.300" stop-color="#32675a"/><stop offset="0.350" stop-color="#436f52"/><stop offset="0.400" stop-color="#567548"/><stop offset="0.450" stop-color="#6b7c3d"/><stop offset="0.500" stop-color="#828234"/><stop offset="0.550" stop-color="#9a882c"/><stop offset="0.600" stop-color="#b28d35"/><stop offset="0.650" stop-color="#ca923f"/><stop offset="0.700" stop-color="#dd9754"/><stop offset="0.750" stop-color="#ee9e6d"/><stop offset="0.800" stop-color="#f9a588"/><stop offset="0.850" stop-color="#fbafa5"/><stop offset="0.900" stop-color="#fcb9c0"/><stop offset="0.950" stop-color="#f8c2d4"/><stop offset="1.000" stop-color="#f4cbe8"/></linearGradient></defs>
<rect x="647.1" y="199.1" width="8.5" height="157.20000000000002" fill="url(#cbr1)" stroke="#555" stroke-width="0.8"/>
<line x1="655.6" y1="356.30" x2="657.6" y2="356.30" stroke="#555" stroke-width="0.7"/>
<text x="660.2" y="359.20" style="font-family:'DejaVu Serif','Liberation Serif',serif;font-size:7.2px">60</text>
<line x1="655.6" y1="336.65" x2="657.6" y2="336.65" stroke="#555" stroke-width="0.7"/>
<text x="660.2" y="339.55" style="font-family:'DejaVu Serif','Liberation Serif',serif;font-size:7.2px">65</text>
<line x1="655.6" y1="317.00" x2="657.6" y2="317.00" stroke="#555" stroke-width="0.7"/>
<text x="660.2" y="319.90" style="font-family:'DejaVu Serif','Liberation Serif',serif;font-size:7.2px">70</text>
<line x1="655.6" y1="297.35" x2="657.6" y2="297.35" stroke="#555" stroke-width="0.7"/>
<text x="660.2" y="300.25" style="font-family:'DejaVu Serif','Liberation Serif',serif;font-size:7.2px">75</text>
<line x1="655.6" y1="277.70" x2="657.6" y2="277.70" stroke="#555" stroke-width="0.7"/>
<text x="660.2" y="280.60" style="font-family:'DejaVu Serif','Liberation Serif',serif;font-size:7.2px">80</text>
<line x1="655.6" y1="258.05" x2="657.6" y2="258.05" stroke="#555" stroke-width="0.7"/>
<text x="660.2" y="260.95" style="font-family:'DejaVu Serif','Liberation Serif',serif;font-size:7.2px">85</text>
<line x1="655.6" y1="238.40" x2="657.6" y2="238.40" stroke="#555" stroke-width="0.7"/>
<text x="660.2" y="241.30" style="font-family:'DejaVu Serif','Liberation Serif',serif;font-size:7.2px">90</text>
<line x1="655.6" y1="218.75" x2="657.6" y2="218.75" stroke="#555" stroke-width="0.7"/>
<text x="660.2" y="221.65" style="font-family:'DejaVu Serif','Liberation Serif',serif;font-size:7.2px">95</text>
<line x1="655.6" y1="199.10" x2="657.6" y2="199.10" stroke="#555" stroke-width="0.7"/>
<text x="660.2" y="202.00" style="font-family:'DejaVu Serif','Liberation Serif',serif;font-size:7.2px">100</text>
<text transform="translate(682.2,278.3) rotate(-90)" text-anchor="middle" style="font-family:'DejaVu Serif','Liberation Serif',serif;font-size:7.75px">Net carbon avoidance cost nCAC in €/t<tspan dy="1.8" style="font-size:5.9px">CO<tspan dy="1.1" style="font-size:4.2px">2</tspan></tspan></text>
<circle cx="614.7" cy="421.9" r="2.4" fill="#134661" stroke="#3a3a3a" stroke-width="0.35"/>
<circle cx="620.7" cy="427.9" r="2.4" fill="#27605e" stroke="#3a3a3a" stroke-width="0.35"/>
<circle cx="610.2" cy="433.9" r="2.4" fill="#134661" stroke="#3a3a3a" stroke-width="0.35"/>
<circle cx="608.7" cy="436.9" r="2.4" fill="#134661" stroke="#3a3a3a" stroke-width="0.35"/>
<circle cx="608.7" cy="445.9" r="2.4" fill="#27605e" stroke="#3a3a3a" stroke-width="0.35"/>
<circle cx="596.7" cy="459.4" r="2.4" fill="#27605e" stroke="#3a3a3a" stroke-width="0.35"/>
<circle cx="593.7" cy="463.9" r="2.4" fill="#134661" stroke="#3a3a3a" stroke-width="0.35"/>
<circle cx="580.2" cy="468.4" r="2.4" fill="#27605e" stroke="#3a3a3a" stroke-width="0.35"/>
<circle cx="586.2" cy="468.4" r="2.4" fill="#134661" stroke="#3a3a3a" stroke-width="0.35"/>
<circle cx="589.2" cy="468.4" r="2.4" fill="#27605e" stroke="#3a3a3a" stroke-width="0.35"/>
<circle cx="583.2" cy="469.9" r="2.4" fill="#27605e" stroke="#3a3a3a" stroke-width="0.35"/>
<circle cx="593.7" cy="472.9" r="2.4" fill="#7e8136" stroke="#3a3a3a" stroke-width="0.35"/>
<circle cx="572.7" cy="474.4" r="2.4" fill="#27605e" stroke="#3a3a3a" stroke-width="0.35"/>
<circle cx="562.2" cy="480.4" r="2.4" fill="#27605e" stroke="#3a3a3a" stroke-width="0.35"/>
<circle cx="554.7" cy="481.9" r="2.4" fill="#27605e" stroke="#3a3a3a" stroke-width="0.35"/>
<circle cx="544.2" cy="484.9" r="2.4" fill="#27605e" stroke="#3a3a3a" stroke-width="0.35"/>
<circle cx="541.2" cy="486.4" r="2.4" fill="#27605e" stroke="#3a3a3a" stroke-width="0.35"/>
<circle cx="593.7" cy="489.4" r="2.4" fill="#e49a5e" stroke="#3a3a3a" stroke-width="0.35"/>
<circle cx="542.7" cy="492.4" r="2.4" fill="#27605e" stroke="#3a3a3a" stroke-width="0.35"/>
<circle cx="547.2" cy="492.4" r="2.4" fill="#27605e" stroke="#3a3a3a" stroke-width="0.35"/>
<circle cx="532.2" cy="498.4" r="2.4" fill="#27605e" stroke="#3a3a3a" stroke-width="0.35"/>
<circle cx="548.7" cy="498.4" r="2.4" fill="#c1903b" stroke="#3a3a3a" stroke-width="0.35"/>
<circle cx="541.2" cy="499.9" r="2.4" fill="#52744a" stroke="#3a3a3a" stroke-width="0.35"/>
<circle cx="569.7" cy="501.4" r="2.4" fill="#c1903b" stroke="#3a3a3a" stroke-width="0.35"/>
<circle cx="527.7" cy="504.4" r="2.4" fill="#c1903b" stroke="#3a3a3a" stroke-width="0.35"/>
<circle cx="539.7" cy="504.4" r="2.4" fill="#c1903b" stroke="#3a3a3a" stroke-width="0.35"/>
<circle cx="577.2" cy="504.4" r="2.4" fill="#e49a5e" stroke="#3a3a3a" stroke-width="0.35"/>
<circle cx="551.7" cy="505.9" r="2.4" fill="#e49a5e" stroke="#3a3a3a" stroke-width="0.35"/>
<circle cx="554.7" cy="507.4" r="2.4" fill="#7e8136" stroke="#3a3a3a" stroke-width="0.35"/>
<circle cx="557.7" cy="507.4" r="2.4" fill="#c1903b" stroke="#3a3a3a" stroke-width="0.35"/>
<circle cx="578.7" cy="507.4" r="2.4" fill="#c1903b" stroke="#3a3a3a" stroke-width="0.35"/>
<circle cx="581.7" cy="507.4" r="2.4" fill="#52744a" stroke="#3a3a3a" stroke-width="0.35"/>
<circle cx="562.2" cy="508.9" r="2.4" fill="#f9a78e" stroke="#3a3a3a" stroke-width="0.35"/>
<circle cx="545.7" cy="510.4" r="2.4" fill="#e49a5e" stroke="#3a3a3a" stroke-width="0.35"/>
<circle cx="531.3" cy="489.9" r="2.4" fill="#134661" stroke="#3a3a3a" stroke-width="0.35"/>
<circle cx="532.7" cy="490.8" r="2.4" fill="#134661" stroke="#3a3a3a" stroke-width="0.35"/>
<circle cx="532.5" cy="492.2" r="2.4" fill="#134661" stroke="#3a3a3a" stroke-width="0.35"/>
<circle cx="534.1" cy="487.1" r="2.4" fill="#142a5c" stroke="#3a3a3a" stroke-width="0.35"/>
<circle cx="535.5" cy="486.2" r="2.4" fill="#142a5c" stroke="#3a3a3a" stroke-width="0.35"/>
<circle cx="533.6" cy="488.0" r="2.4" fill="#134661" stroke="#3a3a3a" stroke-width="0.35"/>
<circle cx="535.0" cy="487.1" r="2.4" fill="#134661" stroke="#3a3a3a" stroke-width="0.35"/>
<circle cx="533.4" cy="489.4" r="2.4" fill="#134661" stroke="#3a3a3a" stroke-width="0.35"/>
<circle cx="536.4" cy="488.0" r="2.4" fill="#134661" stroke="#3a3a3a" stroke-width="0.35"/>
<circle cx="537.1" cy="490.4" r="2.4" fill="#134661" stroke="#3a3a3a" stroke-width="0.35"/>
<circle cx="536.2" cy="489.4" r="2.4" fill="#134661" stroke="#3a3a3a" stroke-width="0.35"/>
<circle cx="538.5" cy="489.5" r="2.4" fill="#134661" stroke="#3a3a3a" stroke-width="0.35"/>
<circle cx="535.5" cy="494.3" r="2.4" fill="#134661" stroke="#3a3a3a" stroke-width="0.35"/>
<circle cx="536.9" cy="491.8" r="2.4" fill="#134661" stroke="#3a3a3a" stroke-width="0.35"/>
<circle cx="537.1" cy="499.4" r="2.4" fill="#c1903b" stroke="#3a3a3a" stroke-width="0.35"/>
<circle cx="537.8" cy="494.4" r="2.4" fill="#27605e" stroke="#3a3a3a" stroke-width="0.35"/>
<circle cx="538.3" cy="496.3" r="2.4" fill="#27605e" stroke="#3a3a3a" stroke-width="0.35"/>
<circle cx="536.2" cy="499.3" r="2.4" fill="#27605e" stroke="#3a3a3a" stroke-width="0.35"/>
<circle cx="535.9" cy="502.4" r="2.4" fill="#c1903b" stroke="#3a3a3a" stroke-width="0.35"/>
<circle cx="532.0" cy="505.1" r="2.4" fill="#c1903b" stroke="#3a3a3a" stroke-width="0.35"/>
<circle cx="533.9" cy="505.1" r="2.4" fill="#c1903b" stroke="#3a3a3a" stroke-width="0.35"/>
<circle cx="579.4" cy="473.4" r="2.4" fill="#52744a" stroke="#3a3a3a" stroke-width="0.35"/>
<circle cx="582.2" cy="473.9" r="2.4" fill="#7e8136" stroke="#3a3a3a" stroke-width="0.35"/>
<circle cx="568.5" cy="477.8" r="2.4" fill="#27605e" stroke="#3a3a3a" stroke-width="0.35"/>
<circle cx="569.0" cy="480.8" r="2.4" fill="#27605e" stroke="#3a3a3a" stroke-width="0.35"/>
<circle cx="571.7" cy="480.3" r="2.4" fill="#52744a" stroke="#3a3a3a" stroke-width="0.35"/>
<circle cx="573.6" cy="479.4" r="2.4" fill="#27605e" stroke="#3a3a3a" stroke-width="0.35"/>
<circle cx="581.0" cy="475.7" r="2.4" fill="#7e8136" stroke="#3a3a3a" stroke-width="0.35"/>
<circle cx="577.3" cy="477.6" r="2.4" fill="#7e8136" stroke="#3a3a3a" stroke-width="0.35"/>
<circle cx="579.2" cy="478.0" r="2.4" fill="#52744a" stroke="#3a3a3a" stroke-width="0.35"/>
<circle cx="578.0" cy="478.1" r="2.4" fill="#52744a" stroke="#3a3a3a" stroke-width="0.35"/>
<circle cx="581.9" cy="478.5" r="2.4" fill="#7e8136" stroke="#3a3a3a" stroke-width="0.35"/>
<circle cx="585.9" cy="474.1" r="2.4" fill="#7e8136" stroke="#3a3a3a" stroke-width="0.35"/>
<circle cx="585.4" cy="477.4" r="2.4" fill="#7e8136" stroke="#3a3a3a" stroke-width="0.35"/>
<circle cx="549.5" cy="483.1" r="2.4" fill="#134661" stroke="#3a3a3a" stroke-width="0.35"/>
<circle cx="549.9" cy="485.0" r="2.4" fill="#134661" stroke="#3a3a3a" stroke-width="0.35"/>
<circle cx="550.4" cy="484.1" r="2.4" fill="#134661" stroke="#3a3a3a" stroke-width="0.35"/>
<circle cx="551.8" cy="484.5" r="2.4" fill="#134661" stroke="#3a3a3a" stroke-width="0.35"/>
<circle cx="551.8" cy="486.8" r="2.4" fill="#134661" stroke="#3a3a3a" stroke-width="0.35"/>
<circle cx="556.0" cy="489.2" r="2.4" fill="#27605e" stroke="#3a3a3a" stroke-width="0.35"/>
<circle cx="553.2" cy="490.1" r="2.4" fill="#27605e" stroke="#3a3a3a" stroke-width="0.35"/>
<circle cx="552.7" cy="490.8" r="2.4" fill="#27605e" stroke="#3a3a3a" stroke-width="0.35"/>
<circle cx="556.9" cy="487.5" r="2.4" fill="#27605e" stroke="#3a3a3a" stroke-width="0.35"/>
<circle cx="552.3" cy="489.2" r="2.4" fill="#27605e" stroke="#3a3a3a" stroke-width="0.35"/>
<circle cx="562.5" cy="484.3" r="2.4" fill="#27605e" stroke="#3a3a3a" stroke-width="0.35"/>
<circle cx="559.2" cy="487.8" r="2.4" fill="#27605e" stroke="#3a3a3a" stroke-width="0.35"/>
<circle cx="562.9" cy="487.3" r="2.4" fill="#7e8136" stroke="#3a3a3a" stroke-width="0.35"/>
<circle cx="562.0" cy="485.0" r="2.4" fill="#27605e" stroke="#3a3a3a" stroke-width="0.35"/>
<circle cx="566.6" cy="484.5" r="2.4" fill="#52744a" stroke="#3a3a3a" stroke-width="0.35"/>
<circle cx="569.9" cy="482.2" r="2.4" fill="#52744a" stroke="#3a3a3a" stroke-width="0.35"/>
<circle cx="568.0" cy="485.4" r="2.4" fill="#7e8136" stroke="#3a3a3a" stroke-width="0.35"/>
<circle cx="568.0" cy="484.3" r="2.4" fill="#52744a" stroke="#3a3a3a" stroke-width="0.35"/>
<circle cx="574.5" cy="480.8" r="2.4" fill="#52744a" stroke="#3a3a3a" stroke-width="0.35"/>
<circle cx="572.7" cy="484.5" r="2.4" fill="#52744a" stroke="#3a3a3a" stroke-width="0.35"/>
<circle cx="574.5" cy="484.1" r="2.4" fill="#c1903b" stroke="#3a3a3a" stroke-width="0.35"/>
<circle cx="574.8" cy="482.5" r="2.4" fill="#7e8136" stroke="#3a3a3a" stroke-width="0.35"/>
<circle cx="570.8" cy="483.8" r="2.4" fill="#52744a" stroke="#3a3a3a" stroke-width="0.35"/>
<circle cx="575.2" cy="481.3" r="2.4" fill="#7e8136" stroke="#3a3a3a" stroke-width="0.35"/>
<circle cx="578.2" cy="480.3" r="2.4" fill="#7e8136" stroke="#3a3a3a" stroke-width="0.35"/>
<circle cx="576.6" cy="481.6" r="2.4" fill="#7e8136" stroke="#3a3a3a" stroke-width="0.35"/>
<circle cx="581.9" cy="481.7" r="2.4" fill="#7e8136" stroke="#3a3a3a" stroke-width="0.35"/>
<circle cx="580.1" cy="483.6" r="2.4" fill="#7e8136" stroke="#3a3a3a" stroke-width="0.35"/>
<circle cx="578.5" cy="482.0" r="2.4" fill="#7e8136" stroke="#3a3a3a" stroke-width="0.35"/>
<circle cx="581.9" cy="484.5" r="2.4" fill="#7e8136" stroke="#3a3a3a" stroke-width="0.35"/>
<circle cx="583.3" cy="485.4" r="2.4" fill="#c1903b" stroke="#3a3a3a" stroke-width="0.35"/>
<circle cx="585.4" cy="480.6" r="2.4" fill="#7e8136" stroke="#3a3a3a" stroke-width="0.35"/>
<circle cx="584.0" cy="484.8" r="2.4" fill="#c1903b" stroke="#3a3a3a" stroke-width="0.35"/>
<circle cx="585.9" cy="481.8" r="2.4" fill="#7e8136" stroke="#3a3a3a" stroke-width="0.35"/>
<circle cx="584.5" cy="484.1" r="2.4" fill="#7e8136" stroke="#3a3a3a" stroke-width="0.35"/>
<circle cx="539.7" cy="493.8" r="2.4" fill="#134661" stroke="#3a3a3a" stroke-width="0.35"/>
<circle cx="559.7" cy="491.0" r="2.4" fill="#27605e" stroke="#3a3a3a" stroke-width="0.35"/>
<circle cx="555.0" cy="491.0" r="2.4" fill="#27605e" stroke="#3a3a3a" stroke-width="0.35"/>
<circle cx="556.4" cy="492.2" r="2.4" fill="#27605e" stroke="#3a3a3a" stroke-width="0.35"/>
<circle cx="558.8" cy="488.5" r="2.4" fill="#27605e" stroke="#3a3a3a" stroke-width="0.35"/>
<circle cx="563.4" cy="490.5" r="2.4" fill="#52744a" stroke="#3a3a3a" stroke-width="0.35"/>
<circle cx="560.6" cy="489.4" r="2.4" fill="#52744a" stroke="#3a3a3a" stroke-width="0.35"/>
<circle cx="561.1" cy="494.0" r="2.4" fill="#52744a" stroke="#3a3a3a" stroke-width="0.35"/>
<circle cx="562.9" cy="493.1" r="2.4" fill="#7e8136" stroke="#3a3a3a" stroke-width="0.35"/>
<circle cx="564.3" cy="492.6" r="2.4" fill="#7e8136" stroke="#3a3a3a" stroke-width="0.35"/>
<circle cx="567.1" cy="488.7" r="2.4" fill="#7e8136" stroke="#3a3a3a" stroke-width="0.35"/>
<circle cx="567.1" cy="487.5" r="2.4" fill="#52744a" stroke="#3a3a3a" stroke-width="0.35"/>
<circle cx="564.8" cy="491.7" r="2.4" fill="#7e8136" stroke="#3a3a3a" stroke-width="0.35"/>
<circle cx="566.2" cy="491.3" r="2.4" fill="#7e8136" stroke="#3a3a3a" stroke-width="0.35"/>
<circle cx="570.8" cy="487.8" r="2.4" fill="#7e8136" stroke="#3a3a3a" stroke-width="0.35"/>
<circle cx="569.9" cy="490.1" r="2.4" fill="#c1903b" stroke="#3a3a3a" stroke-width="0.35"/>
<circle cx="568.0" cy="490.8" r="2.4" fill="#7e8136" stroke="#3a3a3a" stroke-width="0.35"/>
<circle cx="574.5" cy="486.8" r="2.4" fill="#c1903b" stroke="#3a3a3a" stroke-width="0.35"/>
<circle cx="571.7" cy="489.6" r="2.4" fill="#c1903b" stroke="#3a3a3a" stroke-width="0.35"/>
<circle cx="574.5" cy="489.6" r="2.4" fill="#7e8136" stroke="#3a3a3a" stroke-width="0.35"/>
<circle cx="574.8" cy="485.3" r="2.4" fill="#7e8136" stroke="#3a3a3a" stroke-width="0.35"/>
<circle cx="570.8" cy="486.6" r="2.4" fill="#52744a" stroke="#3a3a3a" stroke-width="0.35"/>
<circle cx="578.2" cy="486.4" r="2.4" fill="#7e8136" stroke="#3a3a3a" stroke-width="0.35"/>
<circle cx="576.4" cy="489.2" r="2.4" fill="#c1903b" stroke="#3a3a3a" stroke-width="0.35"/>
<circle cx="576.6" cy="484.8" r="2.4" fill="#7e8136" stroke="#3a3a3a" stroke-width="0.35"/>
<circle cx="574.1" cy="487.5" r="2.4" fill="#7e8136" stroke="#3a3a3a" stroke-width="0.35"/>
<circle cx="578.2" cy="487.5" r="2.4" fill="#c1903b" stroke="#3a3a3a" stroke-width="0.35"/>
<circle cx="577.1" cy="483.7" r="2.4" fill="#7e8136" stroke="#3a3a3a" stroke-width="0.35"/>
<circle cx="581.5" cy="487.3" r="2.4" fill="#7e8136" stroke="#3a3a3a" stroke-width="0.35"/>
<circle cx="581.0" cy="489.2" r="2.4" fill="#e49a5e" stroke="#3a3a3a" stroke-width="0.35"/>
<circle cx="578.5" cy="484.8" r="2.4" fill="#7e8136" stroke="#3a3a3a" stroke-width="0.35"/>
<circle cx="580.8" cy="484.8" r="2.4" fill="#7e8136" stroke="#3a3a3a" stroke-width="0.35"/>
<circle cx="582.2" cy="486.7" r="2.4" fill="#c1903b" stroke="#3a3a3a" stroke-width="0.35"/>
<circle cx="578.9" cy="483.7" r="2.4" fill="#7e8136" stroke="#3a3a3a" stroke-width="0.35"/>
<circle cx="582.6" cy="486.0" r="2.4" fill="#7e8136" stroke="#3a3a3a" stroke-width="0.35"/>
<circle cx="582.4" cy="490.1" r="2.4" fill="#e49a5e" stroke="#3a3a3a" stroke-width="0.35"/>
<circle cx="582.2" cy="485.7" r="2.4" fill="#c1903b" stroke="#3a3a3a" stroke-width="0.35"/>
<circle cx="584.0" cy="486.9" r="2.4" fill="#7e8136" stroke="#3a3a3a" stroke-width="0.35"/>
<circle cx="573.6" cy="491.9" r="2.4" fill="#c1903b" stroke="#3a3a3a" stroke-width="0.35"/>
<circle cx="571.3" cy="490.3" r="2.4" fill="#7e8136" stroke="#3a3a3a" stroke-width="0.35"/>
<circle cx="569.0" cy="492.6" r="2.4" fill="#7e8136" stroke="#3a3a3a" stroke-width="0.35"/>
<circle cx="570.8" cy="493.6" r="2.4" fill="#c1903b" stroke="#3a3a3a" stroke-width="0.35"/>
<circle cx="572.7" cy="492.6" r="2.4" fill="#7e8136" stroke="#3a3a3a" stroke-width="0.35"/>
<circle cx="579.2" cy="491.9" r="2.4" fill="#e49a5e" stroke="#3a3a3a" stroke-width="0.35"/>
<circle cx="574.1" cy="490.3" r="2.4" fill="#7e8136" stroke="#3a3a3a" stroke-width="0.35"/>
<circle cx="578.2" cy="490.3" r="2.4" fill="#7e8136" stroke="#3a3a3a" stroke-width="0.35"/>
<circle cx="576.4" cy="494.5" r="2.4" fill="#c1903b" stroke="#3a3a3a" stroke-width="0.35"/>
<circle cx="578.5" cy="493.9" r="2.4" fill="#c1903b" stroke="#3a3a3a" stroke-width="0.35"/>
<circle cx="583.1" cy="489.4" r="2.4" fill="#e49a5e" stroke="#3a3a3a" stroke-width="0.35"/>
<circle cx="581.0" cy="490.3" r="2.4" fill="#e49a5e" stroke="#3a3a3a" stroke-width="0.35"/>
<circle cx="580.1" cy="492.2" r="2.4" fill="#c1903b" stroke="#3a3a3a" stroke-width="0.35"/>
<circle cx="584.0" cy="492.9" r="2.4" fill="#e49a5e" stroke="#3a3a3a" stroke-width="0.35"/>
<circle cx="581.3" cy="493.9" r="2.4" fill="#e49a5e" stroke="#3a3a3a" stroke-width="0.35"/>
<circle cx="553.7" cy="493.1" r="2.4" fill="#27605e" stroke="#3a3a3a" stroke-width="0.35"/>
<circle cx="613.5" cy="437.8" r="2.4" fill="#27605e" stroke="#3a3a3a" stroke-width="0.35"/>
<circle cx="614.9" cy="434.3" r="2.4" fill="#27605e" stroke="#3a3a3a" stroke-width="0.35"/>
<circle cx="611.2" cy="441.0" r="2.4" fill="#27605e" stroke="#3a3a3a" stroke-width="0.35"/>
<circle cx="611.9" cy="440.1" r="2.4" fill="#27605e" stroke="#3a3a3a" stroke-width="0.35"/>
<circle cx="607.0" cy="458.9" r="2.4" fill="#52744a" stroke="#3a3a3a" stroke-width="0.35"/>
<circle cx="606.3" cy="461.2" r="2.4" fill="#52744a" stroke="#3a3a3a" stroke-width="0.35"/>
<circle cx="608.6" cy="460.5" r="2.4" fill="#52744a" stroke="#3a3a3a" stroke-width="0.35"/>
<circle cx="593.8" cy="468.9" r="2.4" fill="#27605e" stroke="#3a3a3a" stroke-width="0.35"/>
<circle cx="601.0" cy="464.7" r="2.4" fill="#7e8136" stroke="#3a3a3a" stroke-width="0.35"/>
<circle cx="598.7" cy="465.1" r="2.4" fill="#7e8136" stroke="#3a3a3a" stroke-width="0.35"/>
<circle cx="600.5" cy="467.0" r="2.4" fill="#7e8136" stroke="#3a3a3a" stroke-width="0.35"/>
<circle cx="603.3" cy="468.6" r="2.4" fill="#7e8136" stroke="#3a3a3a" stroke-width="0.35"/>
<circle cx="596.8" cy="468.9" r="2.4" fill="#7e8136" stroke="#3a3a3a" stroke-width="0.35"/>
<circle cx="596.8" cy="472.1" r="2.4" fill="#7e8136" stroke="#3a3a3a" stroke-width="0.35"/>
<circle cx="602.8" cy="472.3" r="2.4" fill="#c1903b" stroke="#3a3a3a" stroke-width="0.35"/>
<circle cx="600.0" cy="474.0" r="2.4" fill="#c1903b" stroke="#3a3a3a" stroke-width="0.35"/>
<circle cx="601.9" cy="476.3" r="2.4" fill="#c1903b" stroke="#3a3a3a" stroke-width="0.35"/>
<circle cx="597.3" cy="476.3" r="2.4" fill="#c1903b" stroke="#3a3a3a" stroke-width="0.35"/>
<circle cx="600.0" cy="476.3" r="2.4" fill="#c1903b" stroke="#3a3a3a" stroke-width="0.35"/>
<circle cx="589.4" cy="473.5" r="2.4" fill="#7e8136" stroke="#3a3a3a" stroke-width="0.35"/>
<circle cx="588.9" cy="476.7" r="2.4" fill="#7e8136" stroke="#3a3a3a" stroke-width="0.35"/>
<circle cx="591.7" cy="477.7" r="2.4" fill="#7e8136" stroke="#3a3a3a" stroke-width="0.35"/>
<circle cx="586.6" cy="480.4" r="2.4" fill="#7e8136" stroke="#3a3a3a" stroke-width="0.35"/>
<circle cx="589.8" cy="479.5" r="2.4" fill="#7e8136" stroke="#3a3a3a" stroke-width="0.35"/>
<circle cx="579.2" cy="483.2" r="2.4" fill="#c1903b" stroke="#3a3a3a" stroke-width="0.35"/>
<circle cx="583.8" cy="482.8" r="2.4" fill="#c1903b" stroke="#3a3a3a" stroke-width="0.35"/>
<circle cx="582.9" cy="485.1" r="2.4" fill="#c1903b" stroke="#3a3a3a" stroke-width="0.35"/>
<circle cx="580.8" cy="486.0" r="2.4" fill="#c1903b" stroke="#3a3a3a" stroke-width="0.35"/>
<circle cx="579.6" cy="482.1" r="2.4" fill="#7e8136" stroke="#3a3a3a" stroke-width="0.35"/>
<circle cx="583.3" cy="484.4" r="2.4" fill="#c1903b" stroke="#3a3a3a" stroke-width="0.35"/>
<circle cx="585.2" cy="484.6" r="2.4" fill="#c1903b" stroke="#3a3a3a" stroke-width="0.35"/>
<circle cx="585.7" cy="483.9" r="2.4" fill="#c1903b" stroke="#3a3a3a" stroke-width="0.35"/>
<circle cx="594.5" cy="479.5" r="2.4" fill="#c1903b" stroke="#3a3a3a" stroke-width="0.35"/>
<circle cx="595.4" cy="481.4" r="2.4" fill="#c1903b" stroke="#3a3a3a" stroke-width="0.35"/>
<circle cx="592.2" cy="483.2" r="2.4" fill="#c1903b" stroke="#3a3a3a" stroke-width="0.35"/>
<circle cx="590.3" cy="480.7" r="2.4" fill="#7e8136" stroke="#3a3a3a" stroke-width="0.35"/>
<circle cx="594.0" cy="482.1" r="2.4" fill="#c1903b" stroke="#3a3a3a" stroke-width="0.35"/>
<circle cx="599.1" cy="478.6" r="2.4" fill="#c1903b" stroke="#3a3a3a" stroke-width="0.35"/>
<circle cx="597.3" cy="480.4" r="2.4" fill="#c1903b" stroke="#3a3a3a" stroke-width="0.35"/>
<circle cx="594.9" cy="480.2" r="2.4" fill="#c1903b" stroke="#3a3a3a" stroke-width="0.35"/>
<circle cx="599.1" cy="479.5" r="2.4" fill="#c1903b" stroke="#3a3a3a" stroke-width="0.35"/>
<circle cx="595.9" cy="481.2" r="2.4" fill="#c1903b" stroke="#3a3a3a" stroke-width="0.35"/>
<circle cx="600.0" cy="480.4" r="2.4" fill="#c1903b" stroke="#3a3a3a" stroke-width="0.35"/>
<circle cx="595.9" cy="482.1" r="2.4" fill="#c1903b" stroke="#3a3a3a" stroke-width="0.35"/>
<circle cx="600.0" cy="481.4" r="2.4" fill="#c1903b" stroke="#3a3a3a" stroke-width="0.35"/>
<circle cx="596.8" cy="483.0" r="2.4" fill="#c1903b" stroke="#3a3a3a" stroke-width="0.35"/>
<circle cx="592.6" cy="483.9" r="2.4" fill="#c1903b" stroke="#3a3a3a" stroke-width="0.35"/>
<circle cx="593.5" cy="484.9" r="2.4" fill="#c1903b" stroke="#3a3a3a" stroke-width="0.35"/>
<circle cx="590.3" cy="488.1" r="2.4" fill="#c1903b" stroke="#3a3a3a" stroke-width="0.35"/>
<circle cx="582.2" cy="487.8" r="2.4" fill="#c1903b" stroke="#3a3a3a" stroke-width="0.35"/>
<circle cx="586.6" cy="488.6" r="2.4" fill="#c1903b" stroke="#3a3a3a" stroke-width="0.35"/>
<circle cx="542.1" cy="496.4" r="2.4" fill="#52744a" stroke="#3a3a3a" stroke-width="0.35"/>
<circle cx="544.8" cy="498.4" r="2.4" fill="#52744a" stroke="#3a3a3a" stroke-width="0.35"/>
<circle cx="544.8" cy="501.7" r="2.4" fill="#c1903b" stroke="#3a3a3a" stroke-width="0.35"/>
<circle cx="547.2" cy="501.2" r="2.4" fill="#e49a5e" stroke="#3a3a3a" stroke-width="0.35"/>
<circle cx="553.2" cy="493.8" r="2.4" fill="#27605e" stroke="#3a3a3a" stroke-width="0.35"/>
<circle cx="552.3" cy="496.1" r="2.4" fill="#27605e" stroke="#3a3a3a" stroke-width="0.35"/>
<circle cx="556.0" cy="495.7" r="2.4" fill="#7e8136" stroke="#3a3a3a" stroke-width="0.35"/>
<circle cx="557.8" cy="495.2" r="2.4" fill="#7e8136" stroke="#3a3a3a" stroke-width="0.35"/>
<circle cx="554.1" cy="496.6" r="2.4" fill="#27605e" stroke="#3a3a3a" stroke-width="0.35"/>
<circle cx="570.3" cy="487.3" r="2.4" fill="#52744a" stroke="#3a3a3a" stroke-width="0.35"/>
<circle cx="573.1" cy="491.0" r="2.4" fill="#7e8136" stroke="#3a3a3a" stroke-width="0.35"/>
<circle cx="579.2" cy="490.6" r="2.4" fill="#7e8136" stroke="#3a3a3a" stroke-width="0.35"/>
<circle cx="558.8" cy="496.6" r="2.4" fill="#7e8136" stroke="#3a3a3a" stroke-width="0.35"/>
<circle cx="555.0" cy="498.0" r="2.4" fill="#7e8136" stroke="#3a3a3a" stroke-width="0.35"/>
<circle cx="557.4" cy="498.9" r="2.4" fill="#c1903b" stroke="#3a3a3a" stroke-width="0.35"/>
<circle cx="559.2" cy="498.4" r="2.4" fill="#c1903b" stroke="#3a3a3a" stroke-width="0.35"/>
<circle cx="556.0" cy="499.8" r="2.4" fill="#c1903b" stroke="#3a3a3a" stroke-width="0.35"/>
<circle cx="562.5" cy="495.2" r="2.4" fill="#7e8136" stroke="#3a3a3a" stroke-width="0.35"/>
<circle cx="559.2" cy="498.4" r="2.4" fill="#7e8136" stroke="#3a3a3a" stroke-width="0.35"/>
<circle cx="561.1" cy="498.0" r="2.4" fill="#c1903b" stroke="#3a3a3a" stroke-width="0.35"/>
<circle cx="565.2" cy="496.6" r="2.4" fill="#c1903b" stroke="#3a3a3a" stroke-width="0.35"/>
<circle cx="566.6" cy="496.1" r="2.4" fill="#c1903b" stroke="#3a3a3a" stroke-width="0.35"/>
<circle cx="569.0" cy="494.3" r="2.4" fill="#7e8136" stroke="#3a3a3a" stroke-width="0.35"/>
<circle cx="566.6" cy="496.1" r="2.4" fill="#c1903b" stroke="#3a3a3a" stroke-width="0.35"/>
<circle cx="568.0" cy="495.7" r="2.4" fill="#c1903b" stroke="#3a3a3a" stroke-width="0.35"/>
<circle cx="572.7" cy="494.3" r="2.4" fill="#7e8136" stroke="#3a3a3a" stroke-width="0.35"/>
<circle cx="568.5" cy="497.1" r="2.4" fill="#7e8136" stroke="#3a3a3a" stroke-width="0.35"/>
<circle cx="569.9" cy="496.6" r="2.4" fill="#7e8136" stroke="#3a3a3a" stroke-width="0.35"/>
<circle cx="571.7" cy="497.1" r="2.4" fill="#7e8136" stroke="#3a3a3a" stroke-width="0.35"/>
<circle cx="573.6" cy="496.1" r="2.4" fill="#c1903b" stroke="#3a3a3a" stroke-width="0.35"/>
<circle cx="576.4" cy="492.9" r="2.4" fill="#7e8136" stroke="#3a3a3a" stroke-width="0.35"/>
<circle cx="573.6" cy="496.1" r="2.4" fill="#c1903b" stroke="#3a3a3a" stroke-width="0.35"/>
<circle cx="575.4" cy="495.2" r="2.4" fill="#c1903b" stroke="#3a3a3a" stroke-width="0.35"/>
<circle cx="577.3" cy="494.7" r="2.4" fill="#c1903b" stroke="#3a3a3a" stroke-width="0.35"/>
<circle cx="579.4" cy="494.1" r="2.4" fill="#c1903b" stroke="#3a3a3a" stroke-width="0.35"/>
<circle cx="555.5" cy="499.8" r="2.4" fill="#c1903b" stroke="#3a3a3a" stroke-width="0.35"/>
<circle cx="550.9" cy="500.8" r="2.4" fill="#c1903b" stroke="#3a3a3a" stroke-width="0.35"/>
<circle cx="554.1" cy="500.8" r="2.4" fill="#c1903b" stroke="#3a3a3a" stroke-width="0.35"/>
<circle cx="559.7" cy="500.3" r="2.4" fill="#c1903b" stroke="#3a3a3a" stroke-width="0.35"/>
<circle cx="556.4" cy="501.7" r="2.4" fill="#c1903b" stroke="#3a3a3a" stroke-width="0.35"/>
<circle cx="559.2" cy="501.7" r="2.4" fill="#c1903b" stroke="#3a3a3a" stroke-width="0.35"/>
<circle cx="563.9" cy="499.4" r="2.4" fill="#c1903b" stroke="#3a3a3a" stroke-width="0.35"/>
<circle cx="562.9" cy="501.5" r="2.4" fill="#c1903b" stroke="#3a3a3a" stroke-width="0.35"/>
<circle cx="565.2" cy="501.0" r="2.4" fill="#c1903b" stroke="#3a3a3a" stroke-width="0.35"/>
<circle cx="570.8" cy="498.4" r="2.4" fill="#c1903b" stroke="#3a3a3a" stroke-width="0.35"/>
<circle cx="574.5" cy="498.0" r="2.4" fill="#c1903b" stroke="#3a3a3a" stroke-width="0.35"/>
<circle cx="573.1" cy="500.8" r="2.4" fill="#c1903b" stroke="#3a3a3a" stroke-width="0.35"/>
<circle cx="575.0" cy="499.8" r="2.4" fill="#e49a5e" stroke="#3a3a3a" stroke-width="0.35"/>
<circle cx="577.8" cy="498.0" r="2.4" fill="#c1903b" stroke="#3a3a3a" stroke-width="0.35"/>
<circle cx="576.8" cy="498.9" r="2.4" fill="#c1903b" stroke="#3a3a3a" stroke-width="0.35"/>
<circle cx="578.5" cy="496.4" r="2.4" fill="#c1903b" stroke="#3a3a3a" stroke-width="0.35"/>
<circle cx="581.0" cy="498.4" r="2.4" fill="#e49a5e" stroke="#3a3a3a" stroke-width="0.35"/>
<circle cx="581.5" cy="500.3" r="2.4" fill="#c1903b" stroke="#3a3a3a" stroke-width="0.35"/>
<circle cx="579.9" cy="497.3" r="2.4" fill="#c1903b" stroke="#3a3a3a" stroke-width="0.35"/>
<circle cx="580.8" cy="500.8" r="2.4" fill="#c1903b" stroke="#3a3a3a" stroke-width="0.35"/>
<circle cx="583.3" cy="499.8" r="2.4" fill="#7e8136" stroke="#3a3a3a" stroke-width="0.35"/>
<circle cx="584.5" cy="495.9" r="2.4" fill="#f9a78e" stroke="#3a3a3a" stroke-width="0.35"/>
<circle cx="581.7" cy="496.9" r="2.4" fill="#c1903b" stroke="#3a3a3a" stroke-width="0.35"/>
<circle cx="585.4" cy="498.7" r="2.4" fill="#e49a5e" stroke="#3a3a3a" stroke-width="0.35"/>
<circle cx="582.6" cy="500.4" r="2.4" fill="#52744a" stroke="#3a3a3a" stroke-width="0.35"/>
<circle cx="530.9" cy="505.9" r="2.4" fill="#c1903b" stroke="#3a3a3a" stroke-width="0.35"/>
<circle cx="532.8" cy="505.9" r="2.4" fill="#c1903b" stroke="#3a3a3a" stroke-width="0.35"/>
<circle cx="533.9" cy="503.1" r="2.4" fill="#c1903b" stroke="#3a3a3a" stroke-width="0.35"/>
<circle cx="546.2" cy="503.1" r="2.4" fill="#c1903b" stroke="#3a3a3a" stroke-width="0.35"/>
<circle cx="543.9" cy="505.4" r="2.4" fill="#e49a5e" stroke="#3a3a3a" stroke-width="0.35"/>
<circle cx="546.2" cy="504.9" r="2.4" fill="#e49a5e" stroke="#3a3a3a" stroke-width="0.35"/>
<circle cx="548.5" cy="504.5" r="2.4" fill="#e49a5e" stroke="#3a3a3a" stroke-width="0.35"/>
<circle cx="531.9" cy="507.3" r="2.4" fill="#c1903b" stroke="#3a3a3a" stroke-width="0.35"/>
<circle cx="536.0" cy="508.0" r="2.4" fill="#f9a78e" stroke="#3a3a3a" stroke-width="0.35"/>
<circle cx="534.8" cy="504.5" r="2.4" fill="#c1903b" stroke="#3a3a3a" stroke-width="0.35"/>
<circle cx="546.2" cy="506.8" r="2.4" fill="#e49a5e" stroke="#3a3a3a" stroke-width="0.35"/>
<circle cx="541.1" cy="508.0" r="2.4" fill="#f9a78e" stroke="#3a3a3a" stroke-width="0.35"/>
<circle cx="549.0" cy="509.1" r="2.4" fill="#e49a5e" stroke="#3a3a3a" stroke-width="0.35"/>
<circle cx="557.8" cy="502.6" r="2.4" fill="#c1903b" stroke="#3a3a3a" stroke-width="0.35"/>
<circle cx="562.5" cy="502.9" r="2.4" fill="#c1903b" stroke="#3a3a3a" stroke-width="0.35"/>
<circle cx="575.4" cy="501.7" r="2.4" fill="#e49a5e" stroke="#3a3a3a" stroke-width="0.35"/>
<circle cx="578.9" cy="498.3" r="2.4" fill="#e49a5e" stroke="#3a3a3a" stroke-width="0.35"/>
<circle cx="579.9" cy="501.7" r="2.4" fill="#e49a5e" stroke="#3a3a3a" stroke-width="0.35"/>
<circle cx="551.8" cy="511.9" r="2.4" fill="#c1903b" stroke="#3a3a3a" stroke-width="0.35"/>
<circle cx="551.3" cy="514.2" r="2.4" fill="#7e8136" stroke="#3a3a3a" stroke-width="0.35"/>
<circle cx="553.7" cy="514.2" r="2.4" fill="#c1903b" stroke="#3a3a3a" stroke-width="0.35"/>
<circle cx="585.9" cy="500.6" r="2.4" fill="#c1903b" stroke="#3a3a3a" stroke-width="0.35"/>
<circle cx="517.4" cy="509.1" r="2.4" fill="#c1903b" stroke="#3a3a3a" stroke-width="0.35"/>
<circle cx="518.8" cy="508.0" r="2.4" fill="#c1903b" stroke="#3a3a3a" stroke-width="0.35"/>
<circle cx="519.7" cy="509.3" r="2.4" fill="#e49a5e" stroke="#3a3a3a" stroke-width="0.35"/>
<circle cx="520.4" cy="508.9" r="2.4" fill="#c1903b" stroke="#3a3a3a" stroke-width="0.35"/>
<circle cx="590.8" cy="481.4" r="2.4" fill="#c1903b" stroke="#3a3a3a" stroke-width="0.35"/>
<circle cx="586.6" cy="483.2" r="2.4" fill="#7e8136" stroke="#3a3a3a" stroke-width="0.35"/>
<circle cx="587.1" cy="487.9" r="2.4" fill="#7e8136" stroke="#3a3a3a" stroke-width="0.35"/>
<circle cx="587.5" cy="492.1" r="2.4" fill="#c1903b" stroke="#3a3a3a" stroke-width="0.35"/>
<circle cx="588.9" cy="492.5" r="2.4" fill="#f9a78e" stroke="#3a3a3a" stroke-width="0.35"/>
<circle cx="583.3" cy="494.8" r="2.4" fill="#f9a78e" stroke="#3a3a3a" stroke-width="0.35"/>
<circle cx="588.4" cy="495.5" r="2.4" fill="#7e8136" stroke="#3a3a3a" stroke-width="0.35"/>
<circle cx="587.1" cy="496.7" r="2.4" fill="#c1903b" stroke="#3a3a3a" stroke-width="0.35"/>
<circle cx="588.4" cy="497.2" r="2.4" fill="#c1903b" stroke="#3a3a3a" stroke-width="0.35"/>
<circle cx="589.4" cy="498.3" r="2.4" fill="#7e8136" stroke="#3a3a3a" stroke-width="0.35"/>
<circle cx="615.5" cy="426.2" r="2.4" fill="#27605e" stroke="#3a3a3a" stroke-width="0.35"/>
<circle cx="616.6" cy="426.8" r="2.4" fill="#27605e" stroke="#3a3a3a" stroke-width="0.35"/>
<circle cx="614.5" cy="429.9" r="2.4" fill="#27605e" stroke="#3a3a3a" stroke-width="0.35"/>
<circle cx="615.5" cy="430.6" r="2.4" fill="#27605e" stroke="#3a3a3a" stroke-width="0.35"/>
<circle cx="617.8" cy="432.9" r="2.4" fill="#27605e" stroke="#3a3a3a" stroke-width="0.35"/>
<circle cx="614.2" cy="435.2" r="2.4" fill="#27605e" stroke="#3a3a3a" stroke-width="0.35"/>
<circle cx="527.1" cy="465.3" r="2.4" fill="#142a5c" stroke="#3a3a3a" stroke-width="0.35"/>
<circle cx="529.0" cy="469.0" r="2.4" fill="#142a5c" stroke="#3a3a3a" stroke-width="0.35"/>
<circle cx="523.9" cy="470.9" r="2.4" fill="#142a5c" stroke="#3a3a3a" stroke-width="0.35"/>
<circle cx="509.5" cy="476.0" r="2.4" fill="#134661" stroke="#3a3a3a" stroke-width="0.35"/>
<circle cx="508.6" cy="477.8" r="2.4" fill="#134661" stroke="#3a3a3a" stroke-width="0.35"/>
<circle cx="518.3" cy="477.4" r="2.4" fill="#134661" stroke="#3a3a3a" stroke-width="0.35"/>
<circle cx="533.2" cy="477.4" r="2.4" fill="#27605e" stroke="#3a3a3a" stroke-width="0.35"/>
<circle cx="538.7" cy="472.7" r="2.4" fill="#134661" stroke="#3a3a3a" stroke-width="0.35"/>
<circle cx="498.4" cy="486.2" r="2.4" fill="#27605e" stroke="#3a3a3a" stroke-width="0.35"/>
<circle cx="500.7" cy="485.2" r="2.4" fill="#27605e" stroke="#3a3a3a" stroke-width="0.35"/>
<circle cx="504.4" cy="488.5" r="2.4" fill="#27605e" stroke="#3a3a3a" stroke-width="0.35"/>
<circle cx="507.2" cy="494.1" r="2.4" fill="#7e8136" stroke="#3a3a3a" stroke-width="0.35"/>
<circle cx="509.5" cy="495.4" r="2.4" fill="#7e8136" stroke="#3a3a3a" stroke-width="0.35"/>
<circle cx="502.1" cy="497.8" r="2.4" fill="#7e8136" stroke="#3a3a3a" stroke-width="0.35"/>
<circle cx="525.7" cy="493.1" r="2.4" fill="#7e8136" stroke="#3a3a3a" stroke-width="0.35"/>
<circle cx="530.4" cy="492.7" r="2.4" fill="#27605e" stroke="#3a3a3a" stroke-width="0.35"/>
<circle cx="533.2" cy="485.2" r="2.4" fill="#142a5c" stroke="#3a3a3a" stroke-width="0.35"/>
<circle cx="532.2" cy="487.1" r="2.4" fill="#134661" stroke="#3a3a3a" stroke-width="0.35"/>
<circle cx="535.0" cy="489.0" r="2.4" fill="#134661" stroke="#3a3a3a" stroke-width="0.35"/>
<circle cx="537.8" cy="487.1" r="2.4" fill="#134661" stroke="#3a3a3a" stroke-width="0.35"/>
<circle cx="534.5" cy="491.7" r="2.4" fill="#134661" stroke="#3a3a3a" stroke-width="0.35"/>
<circle cx="536.4" cy="496.8" r="2.4" fill="#27605e" stroke="#3a3a3a" stroke-width="0.35"/>
<circle cx="522.0" cy="501.5" r="2.4" fill="#c1903b" stroke="#3a3a3a" stroke-width="0.35"/>
<circle cx="491.0" cy="503.3" r="2.4" fill="#c1903b" stroke="#3a3a3a" stroke-width="0.35"/>
<circle cx="497.0" cy="503.8" r="2.4" fill="#7e8136" stroke="#3a3a3a" stroke-width="0.35"/>
<circle cx="505.8" cy="504.3" r="2.4" fill="#c1903b" stroke="#3a3a3a" stroke-width="0.35"/>
<circle cx="514.6" cy="504.7" r="2.4" fill="#c1903b" stroke="#3a3a3a" stroke-width="0.35"/>
<circle cx="534.1" cy="502.9" r="2.4" fill="#c1903b" stroke="#3a3a3a" stroke-width="0.35"/>
<circle cx="537.8" cy="501.9" r="2.4" fill="#c1903b" stroke="#3a3a3a" stroke-width="0.35"/>
<circle cx="581.8" cy="451.6" r="2.4" fill="#142a5c" stroke="#3a3a3a" stroke-width="0.35"/>
<circle cx="573.1" cy="454.8" r="2.4" fill="#142a5c" stroke="#3a3a3a" stroke-width="0.35"/>
<circle cx="579.6" cy="459.5" r="2.4" fill="#142a5c" stroke="#3a3a3a" stroke-width="0.35"/>
<circle cx="579.2" cy="465.0" r="2.4" fill="#27605e" stroke="#3a3a3a" stroke-width="0.35"/>
<circle cx="584.3" cy="466.0" r="2.4" fill="#134661" stroke="#3a3a3a" stroke-width="0.35"/>
<circle cx="557.4" cy="459.0" r="2.4" fill="#134661" stroke="#3a3a3a" stroke-width="0.35"/>
<circle cx="565.2" cy="462.7" r="2.4" fill="#134661" stroke="#3a3a3a" stroke-width="0.35"/>
<circle cx="566.2" cy="465.0" r="2.4" fill="#134661" stroke="#3a3a3a" stroke-width="0.35"/>
<circle cx="555.0" cy="465.5" r="2.4" fill="#142a5c" stroke="#3a3a3a" stroke-width="0.35"/>
<circle cx="559.7" cy="470.6" r="2.4" fill="#142a5c" stroke="#3a3a3a" stroke-width="0.35"/>
<circle cx="561.5" cy="471.5" r="2.4" fill="#142a5c" stroke="#3a3a3a" stroke-width="0.35"/>
<circle cx="572.7" cy="470.6" r="2.4" fill="#27605e" stroke="#3a3a3a" stroke-width="0.35"/>
<circle cx="575.4" cy="472.0" r="2.4" fill="#27605e" stroke="#3a3a3a" stroke-width="0.35"/>
<circle cx="580.5" cy="471.5" r="2.4" fill="#27605e" stroke="#3a3a3a" stroke-width="0.35"/>
<circle cx="543.9" cy="472.0" r="2.4" fill="#134661" stroke="#3a3a3a" stroke-width="0.35"/>
<circle cx="553.2" cy="474.3" r="2.4" fill="#27605e" stroke="#3a3a3a" stroke-width="0.35"/>
<circle cx="553.7" cy="477.1" r="2.4" fill="#27605e" stroke="#3a3a3a" stroke-width="0.35"/>
<circle cx="556.0" cy="479.0" r="2.4" fill="#27605e" stroke="#3a3a3a" stroke-width="0.35"/>
<circle cx="566.2" cy="476.6" r="2.4" fill="#27605e" stroke="#3a3a3a" stroke-width="0.35"/>
<circle cx="569.0" cy="475.7" r="2.4" fill="#27605e" stroke="#3a3a3a" stroke-width="0.35"/>
<circle cx="570.8" cy="479.0" r="2.4" fill="#27605e" stroke="#3a3a3a" stroke-width="0.35"/>
<circle cx="578.2" cy="475.2" r="2.4" fill="#52744a" stroke="#3a3a3a" stroke-width="0.35"/>
<circle cx="583.8" cy="476.2" r="2.4" fill="#7e8136" stroke="#3a3a3a" stroke-width="0.35"/>
<circle cx="543.9" cy="481.7" r="2.4" fill="#27605e" stroke="#3a3a3a" stroke-width="0.35"/>
<circle cx="547.6" cy="483.6" r="2.4" fill="#134661" stroke="#3a3a3a" stroke-width="0.35"/>
<circle cx="551.3" cy="482.7" r="2.4" fill="#134661" stroke="#3a3a3a" stroke-width="0.35"/>
<circle cx="549.5" cy="485.4" r="2.4" fill="#134661" stroke="#3a3a3a" stroke-width="0.35"/>
<circle cx="554.1" cy="488.2" r="2.4" fill="#27605e" stroke="#3a3a3a" stroke-width="0.35"/>
<circle cx="552.3" cy="486.4" r="2.4" fill="#27605e" stroke="#3a3a3a" stroke-width="0.35"/>
<circle cx="560.6" cy="485.4" r="2.4" fill="#27605e" stroke="#3a3a3a" stroke-width="0.35"/>
<circle cx="564.3" cy="483.1" r="2.4" fill="#27605e" stroke="#3a3a3a" stroke-width="0.35"/>
<circle cx="567.1" cy="482.7" r="2.4" fill="#27605e" stroke="#3a3a3a" stroke-width="0.35"/>
<circle cx="572.7" cy="481.7" r="2.4" fill="#52744a" stroke="#3a3a3a" stroke-width="0.35"/>
<circle cx="576.4" cy="479.9" r="2.4" fill="#7e8136" stroke="#3a3a3a" stroke-width="0.35"/>
<circle cx="580.1" cy="480.8" r="2.4" fill="#7e8136" stroke="#3a3a3a" stroke-width="0.35"/>
<circle cx="583.8" cy="482.7" r="2.4" fill="#7e8136" stroke="#3a3a3a" stroke-width="0.35"/>
<circle cx="543.0" cy="489.2" r="2.4" fill="#27605e" stroke="#3a3a3a" stroke-width="0.35"/>
<circle cx="539.3" cy="491.9" r="2.4" fill="#134661" stroke="#3a3a3a" stroke-width="0.35"/>
<circle cx="557.8" cy="490.1" r="2.4" fill="#27605e" stroke="#3a3a3a" stroke-width="0.35"/>
<circle cx="561.5" cy="491.9" r="2.4" fill="#52744a" stroke="#3a3a3a" stroke-width="0.35"/>
<circle cx="565.2" cy="489.2" r="2.4" fill="#7e8136" stroke="#3a3a3a" stroke-width="0.35"/>
<circle cx="569.0" cy="488.2" r="2.4" fill="#7e8136" stroke="#3a3a3a" stroke-width="0.35"/>
<circle cx="572.7" cy="487.3" r="2.4" fill="#7e8136" stroke="#3a3a3a" stroke-width="0.35"/>
<circle cx="576.4" cy="486.4" r="2.4" fill="#c1903b" stroke="#3a3a3a" stroke-width="0.35"/>
<circle cx="580.1" cy="486.4" r="2.4" fill="#7e8136" stroke="#3a3a3a" stroke-width="0.35"/>
<circle cx="582.9" cy="488.2" r="2.4" fill="#c1903b" stroke="#3a3a3a" stroke-width="0.35"/>
<circle cx="570.8" cy="491.9" r="2.4" fill="#c1903b" stroke="#3a3a3a" stroke-width="0.35"/>
<circle cx="576.4" cy="491.9" r="2.4" fill="#c1903b" stroke="#3a3a3a" stroke-width="0.35"/>
<circle cx="581.9" cy="491.9" r="2.4" fill="#e49a5e" stroke="#3a3a3a" stroke-width="0.35"/>
<circle cx="552.3" cy="491.9" r="2.4" fill="#27605e" stroke="#3a3a3a" stroke-width="0.35"/>
<circle cx="605.6" cy="435.9" r="2.4" fill="#134661" stroke="#3a3a3a" stroke-width="0.35"/>
<circle cx="605.1" cy="441.0" r="2.4" fill="#134661" stroke="#3a3a3a" stroke-width="0.35"/>
<circle cx="614.9" cy="435.9" r="2.4" fill="#27605e" stroke="#3a3a3a" stroke-width="0.35"/>
<circle cx="612.1" cy="439.6" r="2.4" fill="#27605e" stroke="#3a3a3a" stroke-width="0.35"/>
<circle cx="610.2" cy="442.4" r="2.4" fill="#27605e" stroke="#3a3a3a" stroke-width="0.35"/>
<circle cx="612.1" cy="445.2" r="2.4" fill="#27605e" stroke="#3a3a3a" stroke-width="0.35"/>
<circle cx="613.0" cy="448.0" r="2.4" fill="#52744a" stroke="#3a3a3a" stroke-width="0.35"/>
<circle cx="594.0" cy="452.6" r="2.4" fill="#134661" stroke="#3a3a3a" stroke-width="0.35"/>
<circle cx="593.5" cy="456.3" r="2.4" fill="#134661" stroke="#3a3a3a" stroke-width="0.35"/>
<circle cx="592.6" cy="460.5" r="2.4" fill="#134661" stroke="#3a3a3a" stroke-width="0.35"/>
<circle cx="598.7" cy="456.3" r="2.4" fill="#27605e" stroke="#3a3a3a" stroke-width="0.35"/>
<circle cx="601.9" cy="457.7" r="2.4" fill="#27605e" stroke="#3a3a3a" stroke-width="0.35"/>
<circle cx="604.7" cy="459.6" r="2.4" fill="#52744a" stroke="#3a3a3a" stroke-width="0.35"/>
<circle cx="607.5" cy="451.7" r="2.4" fill="#52744a" stroke="#3a3a3a" stroke-width="0.35"/>
<circle cx="608.4" cy="454.9" r="2.4" fill="#52744a" stroke="#3a3a3a" stroke-width="0.35"/>
<circle cx="609.3" cy="458.2" r="2.4" fill="#7e8136" stroke="#3a3a3a" stroke-width="0.35"/>
<circle cx="610.2" cy="464.7" r="2.4" fill="#7e8136" stroke="#3a3a3a" stroke-width="0.35"/>
<circle cx="607.9" cy="462.8" r="2.4" fill="#52744a" stroke="#3a3a3a" stroke-width="0.35"/>
<circle cx="592.2" cy="467.5" r="2.4" fill="#27605e" stroke="#3a3a3a" stroke-width="0.35"/>
<circle cx="599.1" cy="462.8" r="2.4" fill="#7e8136" stroke="#3a3a3a" stroke-width="0.35"/>
<circle cx="602.8" cy="466.5" r="2.4" fill="#7e8136" stroke="#3a3a3a" stroke-width="0.35"/>
<circle cx="598.2" cy="467.5" r="2.4" fill="#7e8136" stroke="#3a3a3a" stroke-width="0.35"/>
<circle cx="595.4" cy="470.2" r="2.4" fill="#7e8136" stroke="#3a3a3a" stroke-width="0.35"/>
<circle cx="603.8" cy="470.7" r="2.4" fill="#c1903b" stroke="#3a3a3a" stroke-width="0.35"/>
<circle cx="601.9" cy="474.0" r="2.4" fill="#c1903b" stroke="#3a3a3a" stroke-width="0.35"/>
<circle cx="598.2" cy="474.0" r="2.4" fill="#c1903b" stroke="#3a3a3a" stroke-width="0.35"/>
<circle cx="588.0" cy="472.1" r="2.4" fill="#7e8136" stroke="#3a3a3a" stroke-width="0.35"/>
<circle cx="590.8" cy="474.9" r="2.4" fill="#7e8136" stroke="#3a3a3a" stroke-width="0.35"/>
<circle cx="587.1" cy="478.6" r="2.4" fill="#7e8136" stroke="#3a3a3a" stroke-width="0.35"/>
<circle cx="576.9" cy="483.2" r="2.4" fill="#7e8136" stroke="#3a3a3a" stroke-width="0.35"/>
<circle cx="581.5" cy="483.2" r="2.4" fill="#c1903b" stroke="#3a3a3a" stroke-width="0.35"/>
<circle cx="586.1" cy="482.3" r="2.4" fill="#c1903b" stroke="#3a3a3a" stroke-width="0.35"/>
<circle cx="592.6" cy="480.4" r="2.4" fill="#c1903b" stroke="#3a3a3a" stroke-width="0.35"/>
<circle cx="596.3" cy="478.6" r="2.4" fill="#c1903b" stroke="#3a3a3a" stroke-width="0.35"/>
<circle cx="601.9" cy="478.6" r="2.4" fill="#c1903b" stroke="#3a3a3a" stroke-width="0.35"/>
<circle cx="598.2" cy="482.3" r="2.4" fill="#c1903b" stroke="#3a3a3a" stroke-width="0.35"/>
<circle cx="591.7" cy="486.0" r="2.4" fill="#c1903b" stroke="#3a3a3a" stroke-width="0.35"/>
<circle cx="584.3" cy="486.9" r="2.4" fill="#c1903b" stroke="#3a3a3a" stroke-width="0.35"/>
<circle cx="617.2" cy="467.5" r="2.4" fill="#c1903b" stroke="#3a3a3a" stroke-width="0.35"/>
<circle cx="597.3" cy="489.7" r="2.4" fill="#e49a5e" stroke="#3a3a3a" stroke-width="0.35"/>
<circle cx="621.4" cy="435.0" r="2.4" fill="#27605e" stroke="#3a3a3a" stroke-width="0.35"/>
<circle cx="540.2" cy="495.7" r="2.4" fill="#27605e" stroke="#3a3a3a" stroke-width="0.35"/>
<circle cx="543.9" cy="497.1" r="2.4" fill="#52744a" stroke="#3a3a3a" stroke-width="0.35"/>
<circle cx="545.8" cy="499.8" r="2.4" fill="#52744a" stroke="#3a3a3a" stroke-width="0.35"/>
<circle cx="551.3" cy="493.3" r="2.4" fill="#27605e" stroke="#3a3a3a" stroke-width="0.35"/>
<circle cx="555.0" cy="494.3" r="2.4" fill="#27605e" stroke="#3a3a3a" stroke-width="0.35"/>
<circle cx="559.7" cy="486.9" r="2.4" fill="#27605e" stroke="#3a3a3a" stroke-width="0.35"/>
<circle cx="569.0" cy="485.9" r="2.4" fill="#52744a" stroke="#3a3a3a" stroke-width="0.35"/>
<circle cx="571.7" cy="488.7" r="2.4" fill="#7e8136" stroke="#3a3a3a" stroke-width="0.35"/>
<circle cx="580.1" cy="488.7" r="2.4" fill="#7e8136" stroke="#3a3a3a" stroke-width="0.35"/>
<circle cx="556.9" cy="497.1" r="2.4" fill="#7e8136" stroke="#3a3a3a" stroke-width="0.35"/>
<circle cx="560.6" cy="496.1" r="2.4" fill="#7e8136" stroke="#3a3a3a" stroke-width="0.35"/>
<circle cx="564.3" cy="494.3" r="2.4" fill="#7e8136" stroke="#3a3a3a" stroke-width="0.35"/>
<circle cx="567.1" cy="493.3" r="2.4" fill="#7e8136" stroke="#3a3a3a" stroke-width="0.35"/>
<circle cx="570.8" cy="495.2" r="2.4" fill="#7e8136" stroke="#3a3a3a" stroke-width="0.35"/>
<circle cx="574.5" cy="493.3" r="2.4" fill="#7e8136" stroke="#3a3a3a" stroke-width="0.35"/>
<circle cx="578.2" cy="492.4" r="2.4" fill="#c1903b" stroke="#3a3a3a" stroke-width="0.35"/>
<circle cx="553.2" cy="498.9" r="2.4" fill="#c1903b" stroke="#3a3a3a" stroke-width="0.35"/>
<circle cx="557.8" cy="500.8" r="2.4" fill="#c1903b" stroke="#3a3a3a" stroke-width="0.35"/>
<circle cx="561.5" cy="499.8" r="2.4" fill="#c1903b" stroke="#3a3a3a" stroke-width="0.35"/>
<circle cx="566.2" cy="498.9" r="2.4" fill="#c1903b" stroke="#3a3a3a" stroke-width="0.35"/>
<circle cx="569.0" cy="498.0" r="2.4" fill="#c1903b" stroke="#3a3a3a" stroke-width="0.35"/>
<circle cx="572.7" cy="498.9" r="2.4" fill="#c1903b" stroke="#3a3a3a" stroke-width="0.35"/>
<circle cx="576.4" cy="497.1" r="2.4" fill="#c1903b" stroke="#3a3a3a" stroke-width="0.35"/>
<circle cx="579.2" cy="498.9" r="2.4" fill="#c1903b" stroke="#3a3a3a" stroke-width="0.35"/>
<circle cx="582.9" cy="498.0" r="2.4" fill="#e49a5e" stroke="#3a3a3a" stroke-width="0.35"/>
<circle cx="531.9" cy="504.5" r="2.4" fill="#c1903b" stroke="#3a3a3a" stroke-width="0.35"/>
<circle cx="543.9" cy="503.5" r="2.4" fill="#c1903b" stroke="#3a3a3a" stroke-width="0.35"/>
<circle cx="548.5" cy="502.6" r="2.4" fill="#e49a5e" stroke="#3a3a3a" stroke-width="0.35"/>
<circle cx="530.0" cy="507.3" r="2.4" fill="#c1903b" stroke="#3a3a3a" stroke-width="0.35"/>
<circle cx="533.7" cy="507.3" r="2.4" fill="#c1903b" stroke="#3a3a3a" stroke-width="0.35"/>
<circle cx="543.9" cy="507.3" r="2.4" fill="#e49a5e" stroke="#3a3a3a" stroke-width="0.35"/>
<circle cx="548.5" cy="506.3" r="2.4" fill="#e49a5e" stroke="#3a3a3a" stroke-width="0.35"/>
<circle cx="551.3" cy="509.1" r="2.4" fill="#7e8136" stroke="#3a3a3a" stroke-width="0.35"/>
<circle cx="555.0" cy="502.6" r="2.4" fill="#c1903b" stroke="#3a3a3a" stroke-width="0.35"/>
<circle cx="560.6" cy="502.6" r="2.4" fill="#c1903b" stroke="#3a3a3a" stroke-width="0.35"/>
<circle cx="564.3" cy="503.1" r="2.4" fill="#e49a5e" stroke="#3a3a3a" stroke-width="0.35"/>
<circle cx="567.1" cy="505.4" r="2.4" fill="#f9a78e" stroke="#3a3a3a" stroke-width="0.35"/>
<circle cx="573.6" cy="502.6" r="2.4" fill="#e49a5e" stroke="#3a3a3a" stroke-width="0.35"/>
<circle cx="577.3" cy="500.8" r="2.4" fill="#e49a5e" stroke="#3a3a3a" stroke-width="0.35"/>
<circle cx="574.1" cy="506.8" r="2.4" fill="#c1903b" stroke="#3a3a3a" stroke-width="0.35"/>
<circle cx="568.0" cy="509.1" r="2.4" fill="#7e8136" stroke="#3a3a3a" stroke-width="0.35"/>
<circle cx="566.2" cy="512.4" r="2.4" fill="#f9a78e" stroke="#3a3a3a" stroke-width="0.35"/>
<circle cx="538.3" cy="508.7" r="2.4" fill="#f9a78e" stroke="#3a3a3a" stroke-width="0.35"/>
<circle cx="542.1" cy="511.9" r="2.4" fill="#f9a78e" stroke="#3a3a3a" stroke-width="0.35"/>
<circle cx="549.5" cy="511.9" r="2.4" fill="#7e8136" stroke="#3a3a3a" stroke-width="0.35"/>
<circle cx="554.1" cy="511.9" r="2.4" fill="#c1903b" stroke="#3a3a3a" stroke-width="0.35"/>
<circle cx="557.8" cy="512.8" r="2.4" fill="#c1903b" stroke="#3a3a3a" stroke-width="0.35"/>
<circle cx="553.2" cy="516.5" r="2.4" fill="#c1903b" stroke="#3a3a3a" stroke-width="0.35"/>
<circle cx="556.0" cy="519.8" r="2.4" fill="#f9a78e" stroke="#3a3a3a" stroke-width="0.35"/>
<circle cx="574.5" cy="514.2" r="2.4" fill="#e49a5e" stroke="#3a3a3a" stroke-width="0.35"/>
<circle cx="578.2" cy="512.8" r="2.4" fill="#c1903b" stroke="#3a3a3a" stroke-width="0.35"/>
<circle cx="582.9" cy="512.4" r="2.4" fill="#7e8136" stroke="#3a3a3a" stroke-width="0.35"/>
<circle cx="583.3" cy="504.5" r="2.4" fill="#52744a" stroke="#3a3a3a" stroke-width="0.35"/>
<circle cx="583.8" cy="501.7" r="2.4" fill="#7e8136" stroke="#3a3a3a" stroke-width="0.35"/>
<circle cx="490.5" cy="506.3" r="2.4" fill="#c1903b" stroke="#3a3a3a" stroke-width="0.35"/>
<circle cx="498.8" cy="506.3" r="2.4" fill="#c1903b" stroke="#3a3a3a" stroke-width="0.35"/>
<circle cx="507.2" cy="509.6" r="2.4" fill="#c1903b" stroke="#3a3a3a" stroke-width="0.35"/>
<circle cx="516.5" cy="507.7" r="2.4" fill="#c1903b" stroke="#3a3a3a" stroke-width="0.35"/>
<circle cx="518.3" cy="510.5" r="2.4" fill="#e49a5e" stroke="#3a3a3a" stroke-width="0.35"/>
<circle cx="521.1" cy="508.2" r="2.4" fill="#e49a5e" stroke="#3a3a3a" stroke-width="0.35"/>
<circle cx="522.5" cy="507.3" r="2.4" fill="#c1903b" stroke="#3a3a3a" stroke-width="0.35"/>
<circle cx="525.7" cy="511.4" r="2.4" fill="#e49a5e" stroke="#3a3a3a" stroke-width="0.35"/>
<circle cx="535.9" cy="501.7" r="2.4" fill="#c1903b" stroke="#3a3a3a" stroke-width="0.35"/>
<circle cx="577.8" cy="480.9" r="2.4" fill="#7e8136" stroke="#3a3a3a" stroke-width="0.35"/>
<circle cx="588.0" cy="480.9" r="2.4" fill="#7e8136" stroke="#3a3a3a" stroke-width="0.35"/>
<circle cx="593.5" cy="481.9" r="2.4" fill="#c1903b" stroke="#3a3a3a" stroke-width="0.35"/>
<circle cx="601.9" cy="480.5" r="2.4" fill="#7e8136" stroke="#3a3a3a" stroke-width="0.35"/>
<circle cx="585.2" cy="485.6" r="2.4" fill="#7e8136" stroke="#3a3a3a" stroke-width="0.35"/>
<circle cx="595.4" cy="483.7" r="2.4" fill="#c1903b" stroke="#3a3a3a" stroke-width="0.35"/>
<circle cx="588.9" cy="490.2" r="2.4" fill="#c1903b" stroke="#3a3a3a" stroke-width="0.35"/>
<circle cx="586.1" cy="493.9" r="2.4" fill="#f9a78e" stroke="#3a3a3a" stroke-width="0.35"/>
<circle cx="588.9" cy="494.8" r="2.4" fill="#f9a78e" stroke="#3a3a3a" stroke-width="0.35"/>
<circle cx="580.6" cy="495.8" r="2.4" fill="#c1903b" stroke="#3a3a3a" stroke-width="0.35"/>
<circle cx="590.8" cy="497.2" r="2.4" fill="#7e8136" stroke="#3a3a3a" stroke-width="0.35"/>
<circle cx="588.0" cy="499.5" r="2.4" fill="#c1903b" stroke="#3a3a3a" stroke-width="0.35"/>
<circle cx="590.8" cy="501.8" r="2.4" fill="#e49a5e" stroke="#3a3a3a" stroke-width="0.35"/>
<circle cx="582.4" cy="502.7" r="2.4" fill="#52744a" stroke="#3a3a3a" stroke-width="0.35"/>
<circle cx="586.6" cy="512.0" r="2.4" fill="#e49a5e" stroke="#3a3a3a" stroke-width="0.35"/>
<circle cx="599.6" cy="513.2" r="2.4" fill="#52744a" stroke="#3a3a3a" stroke-width="0.35"/>
<circle cx="619.9" cy="394.1" r="2.4" fill="#142a5c" stroke="#3a3a3a" stroke-width="0.35"/>
<circle cx="620.8" cy="399.0" r="2.4" fill="#142a5c" stroke="#3a3a3a" stroke-width="0.35"/>
<circle cx="619.9" cy="405.3" r="2.4" fill="#134661" stroke="#3a3a3a" stroke-width="0.35"/>
<circle cx="619.5" cy="407.4" r="2.4" fill="#134661" stroke="#3a3a3a" stroke-width="0.35"/>
<circle cx="610.7" cy="420.5" r="2.4" fill="#142a5c" stroke="#3a3a3a" stroke-width="0.35"/>
<circle cx="616.6" cy="418.8" r="2.4" fill="#134661" stroke="#3a3a3a" stroke-width="0.35"/>
<circle cx="619.1" cy="421.3" r="2.4" fill="#134661" stroke="#3a3a3a" stroke-width="0.35"/>
<circle cx="623.3" cy="423.8" r="2.4" fill="#27605e" stroke="#3a3a3a" stroke-width="0.35"/>
<circle cx="617.0" cy="425.1" r="2.4" fill="#27605e" stroke="#3a3a3a" stroke-width="0.35"/>
<circle cx="614.0" cy="427.2" r="2.4" fill="#27605e" stroke="#3a3a3a" stroke-width="0.35"/>
<circle cx="616.1" cy="428.5" r="2.4" fill="#27605e" stroke="#3a3a3a" stroke-width="0.35"/>
<circle cx="609.4" cy="430.6" r="2.4" fill="#134661" stroke="#3a3a3a" stroke-width="0.35"/>
<circle cx="614.9" cy="432.7" r="2.4" fill="#27605e" stroke="#3a3a3a" stroke-width="0.35"/>
<circle cx="620.8" cy="433.1" r="2.4" fill="#52744a" stroke="#3a3a3a" stroke-width="0.35"/>
<circle cx="613.6" cy="437.7" r="2.4" fill="#27605e" stroke="#3a3a3a" stroke-width="0.35"/>
<rect x="484.2" y="387.4" width="154.3" height="153.0" fill="none" stroke="#555" stroke-width="1"/>
<line x1="481.7" y1="540.40" x2="484.2" y2="540.40" stroke="#555" stroke-width="0.8"/>
<text x="478.9" y="544.40" text-anchor="end" style="font-family:'DejaVu Serif','Liberation Serif',serif;font-size:9.2px;letter-spacing:0.3px">0</text>
<line x1="481.7" y1="521.27" x2="484.2" y2="521.27" stroke="#555" stroke-width="0.8"/>
<text x="478.9" y="525.27" text-anchor="end" style="font-family:'DejaVu Serif','Liberation Serif',serif;font-size:9.2px;letter-spacing:0.3px">25</text>
<line x1="481.7" y1="502.15" x2="484.2" y2="502.15" stroke="#555" stroke-width="0.8"/>
<text x="478.9" y="506.15" text-anchor="end" style="font-family:'DejaVu Serif','Liberation Serif',serif;font-size:9.2px;letter-spacing:0.3px">50</text>
<line x1="481.7" y1="483.02" x2="484.2" y2="483.02" stroke="#555" stroke-width="0.8"/>
<text x="478.9" y="487.02" text-anchor="end" style="font-family:'DejaVu Serif','Liberation Serif',serif;font-size:9.2px;letter-spacing:0.3px">75</text>
<line x1="481.7" y1="463.90" x2="484.2" y2="463.90" stroke="#555" stroke-width="0.8"/>
<text x="478.9" y="467.90" text-anchor="end" style="font-family:'DejaVu Serif','Liberation Serif',serif;font-size:9.2px;letter-spacing:0.3px">100</text>
<line x1="481.7" y1="444.77" x2="484.2" y2="444.77" stroke="#555" stroke-width="0.8"/>
<text x="478.9" y="448.77" text-anchor="end" style="font-family:'DejaVu Serif','Liberation Serif',serif;font-size:9.2px;letter-spacing:0.3px">125</text>
<line x1="481.7" y1="425.65" x2="484.2" y2="425.65" stroke="#555" stroke-width="0.8"/>
<text x="478.9" y="429.65" text-anchor="end" style="font-family:'DejaVu Serif','Liberation Serif',serif;font-size:9.2px;letter-spacing:0.3px">150</text>
<line x1="481.7" y1="406.52" x2="484.2" y2="406.52" stroke="#555" stroke-width="0.8"/>
<text x="478.9" y="410.52" text-anchor="end" style="font-family:'DejaVu Serif','Liberation Serif',serif;font-size:9.2px;letter-spacing:0.3px">175</text>
<line x1="481.7" y1="387.40" x2="484.2" y2="387.40" stroke="#555" stroke-width="0.8"/>
<text x="478.9" y="391.40" text-anchor="end" style="font-family:'DejaVu Serif','Liberation Serif',serif;font-size:9.2px;letter-spacing:0.3px">200</text>
<line x1="484.63" y1="540.4" x2="484.63" y2="541.9" stroke="#555" stroke-width="0.6"/>
<line x1="492.25" y1="540.4" x2="492.25" y2="541.9" stroke="#555" stroke-width="0.6"/>
<line x1="498.16" y1="540.4" x2="498.16" y2="541.9" stroke="#555" stroke-width="0.6"/>
<line x1="502.99" y1="540.4" x2="502.99" y2="541.9" stroke="#555" stroke-width="0.6"/>
<line x1="507.08" y1="540.4" x2="507.08" y2="541.9" stroke="#555" stroke-width="0.6"/>
<line x1="510.61" y1="540.4" x2="510.61" y2="541.9" stroke="#555" stroke-width="0.6"/>
<line x1="513.73" y1="540.4" x2="513.73" y2="541.9" stroke="#555" stroke-width="0.6"/>
<line x1="516.52" y1="540.4" x2="516.52" y2="542.9" stroke="#555" stroke-width="0.8"/>
<line x1="534.88" y1="540.4" x2="534.88" y2="541.9" stroke="#555" stroke-width="0.6"/>
<line x1="545.62" y1="540.4" x2="545.62" y2="541.9" stroke="#555" stroke-width="0.6"/>
<line x1="553.24" y1="540.4" x2="553.24" y2="541.9" stroke="#555" stroke-width="0.6"/>
<line x1="559.15" y1="540.4" x2="559.15" y2="541.9" stroke="#555" stroke-width="0.6"/>
<line x1="563.98" y1="540.4" x2="563.98" y2="541.9" stroke="#555" stroke-width="0.6"/>
<line x1="568.06" y1="540.4" x2="568.06" y2="541.9" stroke="#555" stroke-width="0.6"/>
<line x1="571.60" y1="540.4" x2="571.60" y2="541.9" stroke="#555" stroke-width="0.6"/>
<line x1="574.72" y1="540.4" x2="574.72" y2="541.9" stroke="#555" stroke-width="0.6"/>
<line x1="577.51" y1="540.4" x2="577.51" y2="542.9" stroke="#555" stroke-width="0.8"/>
<line x1="595.87" y1="540.4" x2="595.87" y2="541.9" stroke="#555" stroke-width="0.6"/>
<line x1="606.61" y1="540.4" x2="606.61" y2="541.9" stroke="#555" stroke-width="0.6"/>
<line x1="614.23" y1="540.4" x2="614.23" y2="541.9" stroke="#555" stroke-width="0.6"/>
<line x1="620.14" y1="540.4" x2="620.14" y2="541.9" stroke="#555" stroke-width="0.6"/>
<line x1="624.97" y1="540.4" x2="624.97" y2="541.9" stroke="#555" stroke-width="0.6"/>
<line x1="629.05" y1="540.4" x2="629.05" y2="541.9" stroke="#555" stroke-width="0.6"/>
<line x1="632.59" y1="540.4" x2="632.59" y2="541.9" stroke="#555" stroke-width="0.6"/>
<line x1="635.71" y1="540.4" x2="635.71" y2="541.9" stroke="#555" stroke-width="0.6"/>
<line x1="516.52" y1="540.4" x2="516.52" y2="542.9" stroke="#555" stroke-width="0.8"/>
<text x="515.72" y="552.40" text-anchor="middle" style="font-family:'DejaVu Serif','Liberation Serif',serif;font-size:9px">10<tspan dy="-3.5" style="font-size:6.3px">−2</tspan></text>
<line x1="577.51" y1="540.4" x2="577.51" y2="542.9" stroke="#555" stroke-width="0.8"/>
<text x="576.71" y="552.40" text-anchor="middle" style="font-family:'DejaVu Serif','Liberation Serif',serif;font-size:9px">10<tspan dy="-3.5" style="font-size:6.3px">−1</tspan></text>
<line x1="638.50" y1="540.4" x2="638.50" y2="542.9" stroke="#555" stroke-width="0.8"/>
<text x="637.70" y="552.40" text-anchor="middle" style="font-family:'DejaVu Serif','Liberation Serif',serif;font-size:9px">10<tspan dy="-3.5" style="font-size:6.3px">0</tspan></text>
<text x="561.4" y="563.7" text-anchor="middle" style="font-family:'DejaVu Serif','Liberation Serif',serif;font-size:9px"><tspan style="font-style:italic">α</tspan> [-]</text>
<text transform="translate(456.9,462.9) rotate(-90)" text-anchor="middle" style="font-family:'DejaVu Serif','Liberation Serif',serif;font-size:8.8px;letter-spacing:0.15px">ΔnCAC in €/t<tspan dy="2" style="font-size:6.3px">CO<tspan dy="1.2" style="font-size:4.5px">2</tspan></tspan></text>
<defs><linearGradient id="cbr2" x1="0" y1="0" x2="0" y2="1"><stop offset="0.000" stop-color="#16225a"/><stop offset="0.050" stop-color="#132f5d"/><stop offset="0.100" stop-color="#113c5f"/><stop offset="0.150" stop-color="#144861"/><stop offset="0.200" stop-color="#1a5562"/><stop offset="0.250" stop-color="#245f5f"/><stop offset="0.300" stop-color="#32675a"/><stop offset="0.350" stop-color="#436f52"/><stop offset="0.400" stop-color="#567548"/><stop offset="0.450" stop-color="#6b7c3d"/><stop offset="0.500" stop-color="#828234"/><stop offset="0.550" stop-color="#9a882c"/><stop offset="0.600" stop-color="#b28d35"/><stop offset="0.650" stop-color="#ca923f"/><stop offset="0.700" stop-color="#dd9754"/><stop offset="0.750" stop-color="#ee9e6d"/><stop offset="0.800" stop-color="#f9a588"/><stop offset="0.850" stop-color="#fbafa5"/><stop offset="0.900" stop-color="#fcb9c0"/><stop offset="0.950" stop-color="#f8c2d4"/><stop offset="1.000" stop-color="#f4cbe8"/></linearGradient></defs>
<rect x="648.0" y="387.4" width="7.7999999999999545" height="153.0" fill="url(#cbr2)" stroke="#555" stroke-width="0.8"/>
<line x1="655.8" y1="540.40" x2="657.8" y2="540.40" stroke="#555" stroke-width="0.7"/>
<text x="660.4" y="543.30" style="font-family:'DejaVu Serif','Liberation Serif',serif;font-size:7.2px">100</text>
<line x1="655.8" y1="521.27" x2="657.8" y2="521.27" stroke="#555" stroke-width="0.7"/>
<text x="660.4" y="524.17" style="font-family:'DejaVu Serif','Liberation Serif',serif;font-size:7.2px">125</text>
<line x1="655.8" y1="502.15" x2="657.8" y2="502.15" stroke="#555" stroke-width="0.7"/>
<text x="660.4" y="505.05" style="font-family:'DejaVu Serif','Liberation Serif',serif;font-size:7.2px">150</text>
<line x1="655.8" y1="483.02" x2="657.8" y2="483.02" stroke="#555" stroke-width="0.7"/>
<text x="660.4" y="485.92" style="font-family:'DejaVu Serif','Liberation Serif',serif;font-size:7.2px">175</text>
<line x1="655.8" y1="463.90" x2="657.8" y2="463.90" stroke="#555" stroke-width="0.7"/>
<text x="660.4" y="466.80" style="font-family:'DejaVu Serif','Liberation Serif',serif;font-size:7.2px">200</text>
<line x1="655.8" y1="444.77" x2="657.8" y2="444.77" stroke="#555" stroke-width="0.7"/>
<text x="660.4" y="447.67" style="font-family:'DejaVu Serif','Liberation Serif',serif;font-size:7.2px">225</text>
<line x1="655.8" y1="425.65" x2="657.8" y2="425.65" stroke="#555" stroke-width="0.7"/>
<text x="660.4" y="428.55" style="font-family:'DejaVu Serif','Liberation Serif',serif;font-size:7.2px">250</text>
<line x1="655.8" y1="406.52" x2="657.8" y2="406.52" stroke="#555" stroke-width="0.7"/>
<text x="660.4" y="409.42" style="font-family:'DejaVu Serif','Liberation Serif',serif;font-size:7.2px">275</text>
<line x1="655.8" y1="387.40" x2="657.8" y2="387.40" stroke="#555" stroke-width="0.7"/>
<text x="660.4" y="390.30" style="font-family:'DejaVu Serif','Liberation Serif',serif;font-size:7.2px">300</text>
<text transform="translate(682.2,464.5) rotate(-90)" text-anchor="middle" style="font-family:'DejaVu Serif','Liberation Serif',serif;font-size:7.75px">Net carbon avoidance cost nCAC in €/t<tspan dy="1.8" style="font-size:5.9px">CO<tspan dy="1.1" style="font-size:4.2px">2</tspan></tspan></text>
</svg></body></html>
